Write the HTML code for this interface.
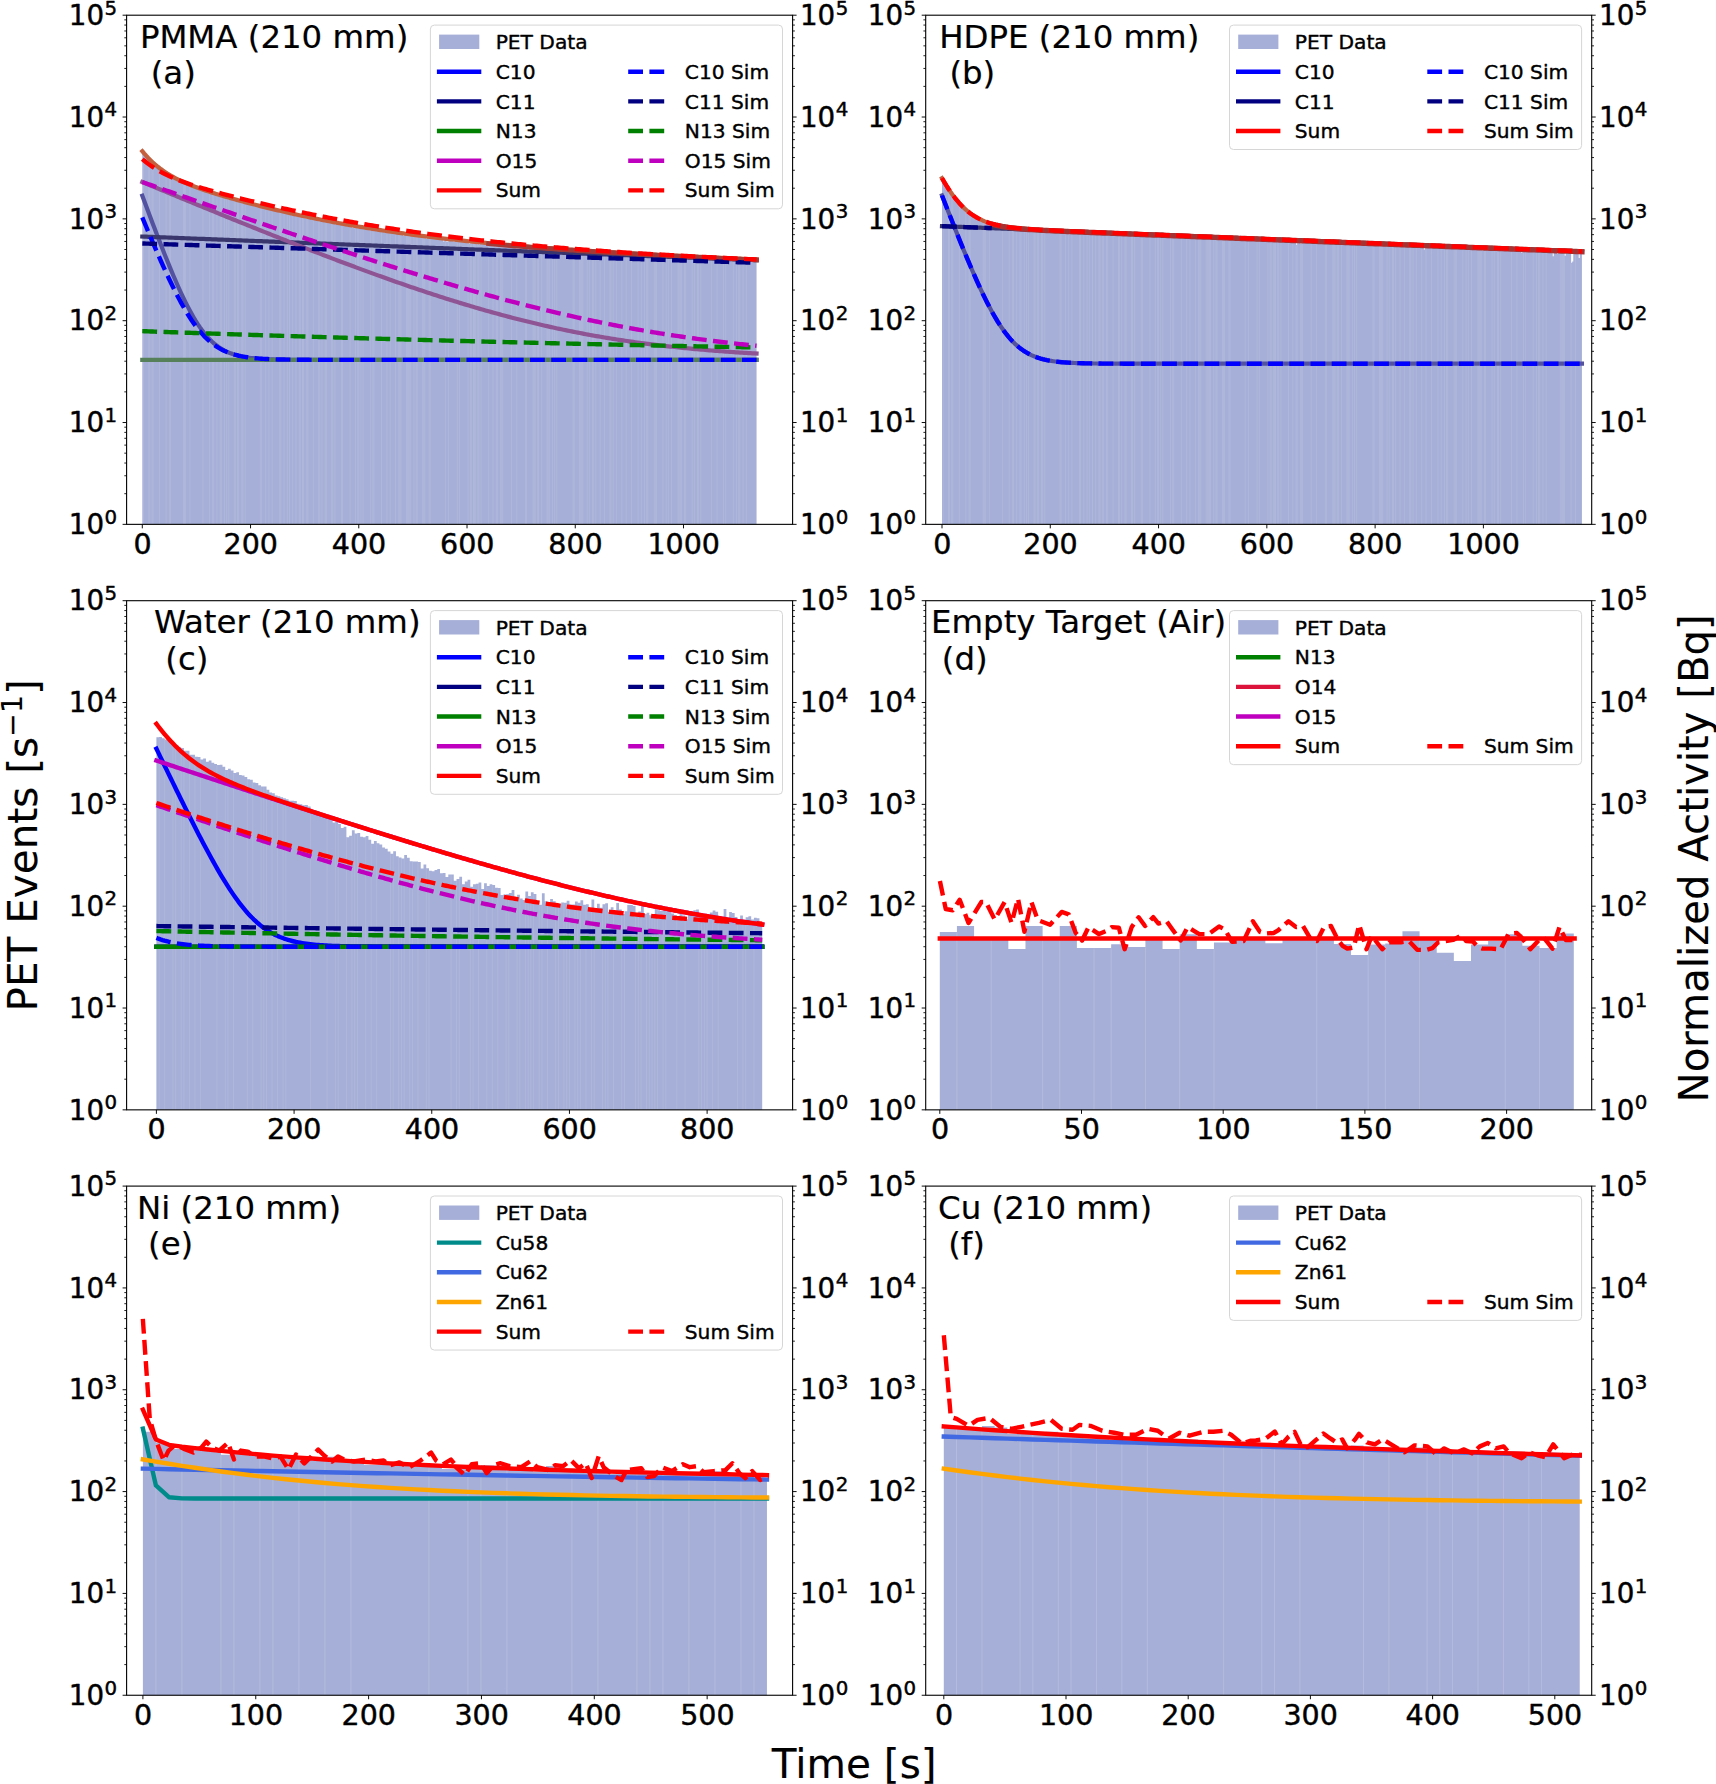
<!DOCTYPE html>
<html><head><meta charset="utf-8"><title>PET activity</title>
<style>html,body{margin:0;padding:0;background:#fff}svg{display:block}text{font-family:'DejaVu Sans','Liberation Sans',sans-serif;fill:#000;stroke:#000;stroke-width:0.45px;stroke-linejoin:round}.t{stroke-width:0.2px}.l{stroke-width:0.1px}.g{stroke-width:0.4px}</style>
</head><body>
<svg width="1716" height="1784" viewBox="0 0 1716 1784">
<rect width="1716" height="1784" fill="#fff"/>
<path d="M142.3,524.35V151.92H143.38V153.99H144.46V155.06H145.55V156.14H146.63V157.78H147.71V158.62H148.79V159.74H149.88V161.53H150.96V161.46H152.04V162.65H153.12V164.15H154.21V164.92H155.29V165.57H156.37V166.8H157.45V167.68H158.54V169.07H159.62V169.02H160.7V170.02H161.78V170.73H162.87V172.31H163.95V171.62H165.03V173.01H166.11V173.96H167.2V173.53H168.28V175.16H169.36V176.48H170.44V176.61H171.52V178.14H172.61V177.13H173.69V178.42H174.77V179.16H175.85V178.83H176.94V180.73H178.02V180.17H179.1V182.01H180.18V181.81H181.27V182.59H182.35V181.73H183.43V182.06H184.51V183.6H185.6V183.46H186.68V184.45H187.76V184.51H188.84V185.64H189.93V186.59H191.01V187.08H192.09V186.33H193.17V185.76H194.26V187.21H195.34V188.04H196.42V187.13H197.5V188.42H198.58V188.89H199.67V189.19H200.75V189.78H201.83V190.25H202.91V191.26H204V190.54H205.08V191.24H206.16V190.88H207.24V192.11H208.33V193.35H209.41V192.66H210.49V191.99H211.57V193.52H212.66V194.16H213.74V194.68H214.82V194.93H215.9V194.82H216.99V195.68H218.07V194.44H219.15V195.8H220.23V195.9H221.32V195.44H222.4V195.71H223.48V197.05H224.56V197.04H225.64V197.11H226.73V197.99H227.81V199.28H228.89V198.09H229.97V198.25H231.06V198.85H232.14V199.98H233.22V199.83H234.3V200.38H235.39V200.5H236.47V199.81H237.55V199.96H238.63V200.79H239.72V201.16H240.8V201.37H241.88V202.09H242.96V202.43H244.05V203.1H245.13V202.99H246.21V201.81H247.29V202.97H248.38V204.03H249.46V204.4H250.54V204.95H251.62V204.41H252.7V204.68H253.79V206.18H254.87V205.17H255.95V206.15H257.03V205.11H258.12V206.21H259.2V205.46H260.28V207.17H261.36V207.33H262.45V207.2H263.53V206.96H264.61V207.56H265.69V209.06H266.78V208.35H267.86V208.72H268.94V209.3H270.02V209.71H271.11V208.33H272.19V210.05H273.27V210.63H274.35V209.86H275.44V210.46H276.52V210.86H277.6V210.52H278.68V210.98H279.76V211.32H280.85V211.15H281.93V211.87H283.01V212.77H284.09V212.83H285.18V213.2H286.26V212.92H287.34V214.1H288.42V214.91H289.51V213.74H290.59V215.03H291.67V215.74H292.75V214.26H293.84V215.29H294.92V214.64H296V215.64H297.08V216.32H298.17V216.65H299.25V216.34H300.33V216.39H301.41V217.04H302.5V216.86H303.58V218.05H304.66V217.1H305.74V218.72H306.82V217.71H307.91V217.27H308.99V217.2H310.07V216.95H311.15V219.68H312.24V218.11H313.32V217.99H314.4V218.38H315.48V220.08H316.57V219.26H317.65V218.37H318.73V221.19H319.81V219.86H320.9V219.58H321.98V221.21H323.06V220.41H324.14V221.93H325.23V221.94H326.31V222.16H327.39V221.56H328.47V221.99H329.56V221.37H330.64V223.09H331.72V222.65H332.8V221.98H333.88V222.5H334.97V224.24H336.05V222.82H337.13V223.95H338.21V223.45H339.3V223.71H340.38V223.17H341.46V224.26H342.54V226.1H343.63V225.89H344.71V224.34H345.79V225.35H346.87V224.39H347.96V225.29H349.04V226.34H350.12V225.01H351.2V226.77H352.29V228.03H353.37V224.77H354.45V228.29H355.53V226.31H356.62V226.24H357.7V227.08H358.78V228.84H359.86V226.72H360.94V229H362.03V229.09H363.11V228.42H364.19V227.62H365.27V228.21H366.36V227.96H367.44V229.21H368.52V229.15H369.6V230.17H370.69V229.62H371.77V229.01H372.85V229.95H373.93V229.45H375.02V230.54H376.1V230.72H377.18V230.34H378.26V230.71H379.35V230.19H380.43V230.72H381.51V229.53H382.59V231.4H383.68V231.57H384.76V232.46H385.84V231.67H386.92V231.25H388V232.68H389.09V232.22H390.17V231.69H391.25V232.6H392.33V233.11H393.42V231.93H394.5V232.87H395.58V232.76H396.66V232.22H397.75V232.39H398.83V233.89H399.91V234.21H400.99V233.62H402.08V234.15H403.16V235.95H404.24V233.17H405.32V234.45H406.41V233.95H407.49V235.86H408.57V233.74H409.65V235.6H410.74V235.3H411.82V236.66H412.9V235.64H413.98V235.84H415.06V235.95H416.15V235.51H417.23V236H418.31V235.29H419.39V236.77H420.48V237.41H421.56V236.62H422.64V236.16H423.72V235.72H424.81V236.25H425.89V238.85H426.97V236.93H428.05V236.05H429.14V237.49H430.22V238.17H431.3V237.52H432.38V238.42H433.47V237.46H434.55V238.21H435.63V237.01H436.71V237.98H437.8V239.29H438.88V238.13H439.96V237.94H441.04V239.51H442.12V239.5H443.21V241.5H444.29V238.47H445.37V240.03H446.45V241.69H447.54V241.46H448.62V240.04H449.7V239.21H450.78V240.15H451.87V239.72H452.95V241.39H454.03V241.75H455.11V239.67H456.2V240.17H457.28V240.8H458.36V239.64H459.44V241.95H460.53V241.53H461.61V240.22H462.69V239.55H463.77V241.44H464.86V239.93H465.94V242.28H467.02V241.46H468.1V242.07H469.18V243.63H470.27V241.86H471.35V241.3H472.43V242.49H473.51V242.51H474.6V241.17H475.68V243.93H476.76V244.3H477.84V243.54H478.93V244.2H480.01V241.74H481.09V242.87H482.17V244.17H483.26V244.02H484.34V240.68H485.42V244.22H486.5V244.48H487.59V243.49H488.67V243.25H489.75V243.78H490.83V245.04H491.92V245.41H493V243.69H494.08V244.45H495.16V246.22H496.24V243.41H497.33V243.9H498.41V245.04H499.49V245.15H500.57V244.74H501.66V245.79H502.74V246.59H503.82V244.93H504.9V246.88H505.99V245.05H507.07V247.07H508.15V245.74H509.23V245.87H510.32V244H511.4V247.04H512.48V247.51H513.56V246.78H514.65V247.38H515.73V246.9H516.81V245.93H517.89V245.65H518.98V244.83H520.06V247.41H521.14V244.02H522.22V244.76H523.3V247.11H524.39V249.47H525.47V247.15H526.55V247.07H527.63V249.74H528.72V247.24H529.8V247.62H530.88V248.33H531.96V246.91H533.05V246.6H534.13V248.26H535.21V247.58H536.29V248.61H537.38V248.84H538.46V247.99H539.54V247.6H540.62V248.84H541.71V250.76H542.79V247.77H543.87V250.23H544.95V248.43H546.04V246.76H547.12V248.73H548.2V250.1H549.28V250.48H550.36V247.7H551.45V249.05H552.53V248.53H553.61V248.19H554.69V249.31H555.78V249.67H556.86V250.45H557.94V252.98H559.02V251.25H560.11V249.72H561.19V249.91H562.27V249.35H563.35V250H564.44V249.77H565.52V249.16H566.6V251.07H567.68V250.48H568.77V252.03H569.85V249.25H570.93V250.34H572.01V249.92H573.1V248.86H574.18V249.42H575.26V250.73H576.34V249.88H577.42V252.42H578.51V250.4H579.59V250.8H580.67V252.85H581.75V249.63H582.84V251.95H583.92V250.48H585V251.77H586.08V250.28H587.17V250H588.25V252.44H589.33V253.31H590.41V251.79H591.5V250.77H592.58V252.19H593.66V252.53H594.74V251.37H595.83V255.18H596.91V252.79H597.99V253.69H599.07V251.85H600.16V253.07H601.24V253.58H602.32V252.77H603.4V254.12H604.48V252.52H605.57V253.34H606.65V253.06H607.73V253.51H608.81V251.74H609.9V252.95H610.98V252.3H612.06V252.41H613.14V253.94H614.23V252.44H615.31V252.75H616.39V252.85H617.47V253.72H618.56V253.81H619.64V252.51H620.72V251.04H621.8V254.47H622.89V252.97H623.97V254.06H625.05V252.81H626.13V253.26H627.22V252.62H628.3V257.19H629.38V254.63H630.46V255.15H631.54V254.18H632.63V254.96H633.71V254.92H634.79V253.46H635.87V252.17H636.96V257.73H638.04V254.78H639.12V254.12H640.2V254.53H641.29V254.99H642.37V256.24H643.45V255.81H644.53V253.94H645.62V253.6H646.7V254.77H647.78V255.92H648.86V254.89H649.95V255.34H651.03V254.49H652.11V255.03H653.19V255.95H654.28V255.06H655.36V256.73H656.44V254.45H657.52V254.1H658.6V256.9H659.69V255.08H660.77V256.79H661.85V254.44H662.93V254.69H664.02V256.06H665.1V254.7H666.18V256.41H667.26V256.71H668.35V256.68H669.43V256.23H670.51V256.5H671.59V255.99H672.68V256.95H673.76V255.39H674.84V255.15H675.92V256.98H677.01V258.15H678.09V255.65H679.17V255.23H680.25V256.8H681.34V258.2H682.42V256.4H683.5V255H684.58V259.09H685.66V256.31H686.75V257.29H687.83V258H688.91V256.44H689.99V258.65H691.08V256.78H692.16V255.65H693.24V257.03H694.32V258.34H695.41V259.51H696.49V258.94H697.57V259.69H698.65V255.63H699.74V257.85H700.82V258.86H701.9V259.23H702.98V258.99H704.07V258.16H705.15V259.36H706.23V255.89H707.31V258.81H708.4V258.9H709.48V257.64H710.56V256.35H711.64V256.55H712.72V258.75H713.81V257.9H714.89V258.08H715.97V257.68H717.05V258.05H718.14V259.56H719.22V260H720.3V258.3H721.38V260.01H722.47V256.99H723.55V258.61H724.63V259.96H725.71V259.14H726.8V259.42H727.88V259.01H728.96V257.77H730.04V260.73H731.13V261.32H732.21V258.64H733.29V259.31H734.37V258.95H735.46V258.66H736.54V259.46H737.62V258.33H738.7V260.44H739.78V259.31H740.87V260.46H741.95V260.88H743.03V258.79H744.11V258.89H745.2V262.06H746.28V261.07H747.36V259.37H748.44V258.48H749.53V260.64H750.61V260.09H751.69V261.68H752.77V256.99H753.86V259.43H754.94V258.97H756.02V259.29H756.56V524.35Z" fill="#a6afd7"/>
<path d="M143.38,154.49V524.35M148.79,160.24V524.35M149.88,162.03V524.35M152.04,163.15V524.35M153.12,164.65V524.35M159.62,169.57V524.35M166.11,174.46V524.35M169.36,176.98V524.35M170.44,177.11V524.35M183.43,182.56V524.35M184.51,184.1V524.35M185.6,184.1V524.35M189.93,187.09V524.35M202.91,191.76V524.35M209.41,193.85V524.35M212.66,194.66V524.35M213.74,195.18V524.35M216.99,196.18V524.35M220.23,196.4V524.35M221.32,196.4V524.35M224.56,197.55V524.35M226.73,198.49V524.35M228.89,199.78V524.35M234.3,200.88V524.35M235.39,201V524.35M237.55,200.46V524.35M238.63,201.29V524.35M241.88,202.59V524.35M242.96,202.93V524.35M245.13,203.6V524.35M260.28,207.67V524.35M261.36,207.83V524.35M265.69,209.56V524.35M268.94,209.8V524.35M272.19,210.55V524.35M279.76,211.82V524.35M280.85,211.82V524.35M284.09,213.33V524.35M287.34,214.6V524.35M289.51,215.41V524.35M292.75,216.24V524.35M296,216.14V524.35M299.25,217.15V524.35M300.33,216.89V524.35M302.5,217.54V524.35M303.58,218.55V524.35M306.82,219.22V524.35M307.91,218.21V524.35M313.32,218.61V524.35M318.73,221.69V524.35M319.81,221.69V524.35M321.98,221.71V524.35M325.23,222.44V524.35M326.31,222.66V524.35M331.72,223.59V524.35M332.8,223.15V524.35M334.97,224.74V524.35M341.46,224.76V524.35M342.54,226.6V524.35M350.12,226.84V524.35M355.53,228.79V524.35M357.7,227.58V524.35M358.78,229.34V524.35M360.94,229.5V524.35M363.11,229.59V524.35M370.69,230.67V524.35M372.85,230.45V524.35M373.93,230.45V524.35M381.51,231.22V524.35M386.92,232.17V524.35M390.17,232.72V524.35M395.58,233.37V524.35M398.83,234.39V524.35M399.91,234.71V524.35M400.99,234.71V524.35M406.41,234.95V524.35M407.49,236.36V524.35M408.57,236.36V524.35M409.65,236.1V524.35M410.74,236.1V524.35M413.98,236.34V524.35M416.15,236.45V524.35M417.23,236.5V524.35M422.64,237.12V524.35M423.72,236.66V524.35M424.81,236.75V524.35M429.14,237.99V524.35M430.22,238.67V524.35M445.37,240.53V524.35M448.62,241.96V524.35M457.28,241.3V524.35M459.44,242.45V524.35M468.1,242.57V524.35M470.27,244.13V524.35M471.35,242.36V524.35M473.51,243.01V524.35M474.6,243.01V524.35M475.68,244.43V524.35M477.84,244.8V524.35M478.93,244.7V524.35M481.09,243.37V524.35M488.67,243.99V524.35M493,245.91V524.35M496.24,246.72V524.35M497.33,244.4V524.35M500.57,245.65V524.35M501.66,246.29V524.35M502.74,247.09V524.35M511.4,247.54V524.35M516.81,247.4V524.35M525.47,249.97V524.35M526.55,247.65V524.35M533.05,247.41V524.35M534.13,248.76V524.35M535.21,248.76V524.35M537.38,249.34V524.35M538.46,249.34V524.35M541.71,251.26V524.35M547.12,249.23V524.35M548.2,250.6V524.35M549.28,250.98V524.35M552.53,249.55V524.35M554.69,249.81V524.35M556.86,250.95V524.35M573.1,250.42V524.35M574.18,249.92V524.35M579.59,251.3V524.35M580.67,253.35V524.35M581.75,253.35V524.35M582.84,252.45V524.35M587.17,250.78V524.35M589.33,253.81V524.35M592.58,252.69V524.35M593.66,253.03V524.35M595.83,255.68V524.35M600.16,253.57V524.35M604.48,254.62V524.35M609.9,253.45V524.35M610.98,253.45V524.35M613.14,254.44V524.35M616.39,253.35V524.35M621.8,254.97V524.35M626.13,253.76V524.35M631.54,255.65V524.35M638.04,258.23V524.35M641.29,255.49V524.35M644.53,256.31V524.35M646.7,255.27V524.35M647.78,256.42V524.35M654.28,256.45V524.35M655.36,257.23V524.35M656.44,257.23V524.35M662.93,255.19V524.35M666.18,256.91V524.35M668.35,257.21V524.35M671.59,257V524.35M678.09,258.65V524.35M679.17,256.15V524.35M680.25,257.3V524.35M681.34,258.7V524.35M684.58,259.59V524.35M685.66,259.59V524.35M692.16,257.28V524.35M694.32,258.84V524.35M697.57,260.19V524.35M698.65,260.19V524.35M700.82,259.36V524.35M711.64,257.05V524.35M717.05,258.55V524.35M723.55,259.11V524.35M725.71,260.46V524.35M733.29,259.81V524.35M736.54,259.96V524.35M738.7,260.94V524.35M739.78,260.94V524.35M743.03,261.38V524.35M746.28,262.56V524.35" stroke="#fff" stroke-opacity="0.1" stroke-width="1" fill="none"/>
<path d="M142.3,195.75 L144.35,201.28 L146.41,206.79 L148.46,212.28 L150.52,217.74 L152.57,223.17 L154.63,228.57 L156.68,233.94 L158.74,239.27 L160.79,244.55 L162.84,249.78 L164.9,254.96 L166.95,260.07 L169.01,265.12 L171.06,270.09 L173.12,274.98 L175.17,279.78 L177.22,284.48 L179.28,289.07 L181.33,293.54 L183.39,297.88 L185.44,302.09 L187.5,306.16 L189.55,310.08 L191.61,313.83 L193.66,317.42 L195.71,320.84 L197.77,324.08 L199.82,327.14 L201.88,330.02 L203.93,332.72 L205.99,335.23 L208.04,337.57 L210.09,339.74 L212.15,341.73 L214.2,343.56 L216.26,345.24 L218.31,346.77 L220.37,348.16 L222.42,349.42 L224.48,350.56 L226.53,351.59 L228.58,352.51 L230.64,353.34 L232.69,354.08 L234.75,354.74 L236.8,355.33 L238.86,355.86 L240.91,356.33 L242.97,356.74 L245.02,357.11 L247.07,357.44 L249.13,357.73 L251.18,357.99 L253.24,358.21 L255.29,358.41 L257.35,358.59 L259.4,358.75 L261.45,358.88 L263.51,359.01 L265.56,359.11 L267.62,359.21 L269.67,359.29 L271.73,359.36 L273.78,359.43 L275.84,359.49 L277.89,359.54 L279.94,359.58 L282,359.62 L284.05,359.65 L286.11,359.68 L288.16,359.71 L290.22,359.73 L292.27,359.75 L294.32,359.77 L296.38,359.79 L298.43,359.8 L300.49,359.81 L302.54,359.83 L304.6,359.84 L306.65,359.84 L308.71,359.85 L310.76,359.86 L312.81,359.86 L314.87,359.87 L316.92,359.87 L318.98,359.88 L321.03,359.88 L323.09,359.88 L325.14,359.89 L327.19,359.89 L329.25,359.89 L331.3,359.89 L333.36,359.89 L335.41,359.89 L337.47,359.9 L339.52,359.9 L341.58,359.9 L343.63,359.9 L345.68,359.9 L347.74,359.9 L349.79,359.9 L351.85,359.9 L353.9,359.9 L355.96,359.9 L358.01,359.9 L360.07,359.9 L362.12,359.9 L364.17,359.9 L366.23,359.9 L368.28,359.9 L370.34,359.9 L372.39,359.9 L374.45,359.9 L376.5,359.9 L378.55,359.9 L380.61,359.9 L382.66,359.9 L384.72,359.9 L386.77,359.9 L388.83,359.9 L390.88,359.9 L392.94,359.9 L394.99,359.9 L397.04,359.9 L399.1,359.9 L401.15,359.9 L403.21,359.9 L405.26,359.9 L407.32,359.9 L409.37,359.9 L411.42,359.9 L413.48,359.9 L415.53,359.9 L417.59,359.9 L419.64,359.9 L421.7,359.9 L423.75,359.9 L425.81,359.9 L427.86,359.9 L429.91,359.9 L431.97,359.9 L434.02,359.9 L436.08,359.9 L438.13,359.9 L440.19,359.91 L442.24,359.91 L444.3,359.91 L446.35,359.91 L448.4,359.91 L450.46,359.91 L452.51,359.91 L454.57,359.91 L456.62,359.91 L458.68,359.91 L460.73,359.91 L462.78,359.91 L464.84,359.91 L466.89,359.91 L468.95,359.91 L471,359.91 L473.06,359.91 L475.11,359.91 L477.17,359.91 L479.22,359.91 L481.27,359.91 L483.33,359.91 L485.38,359.91 L487.44,359.91 L489.49,359.91 L491.55,359.91 L493.6,359.91 L495.65,359.91 L497.71,359.91 L499.76,359.91 L501.82,359.91 L503.87,359.91 L505.93,359.91 L507.98,359.91 L510.04,359.91 L512.09,359.91 L514.14,359.91 L516.2,359.91 L518.25,359.91 L520.31,359.91 L522.36,359.91 L524.42,359.91 L526.47,359.91 L528.52,359.91 L530.58,359.91 L532.63,359.91 L534.69,359.91 L536.74,359.91 L538.8,359.91 L540.85,359.91 L542.91,359.91 L544.96,359.91 L547.01,359.91 L549.07,359.91 L551.12,359.91 L553.18,359.91 L555.23,359.91 L557.29,359.91 L559.34,359.91 L561.4,359.91 L563.45,359.91 L565.5,359.91 L567.56,359.91 L569.61,359.91 L571.67,359.91 L573.72,359.91 L575.78,359.91 L577.83,359.91 L579.88,359.91 L581.94,359.91 L583.99,359.91 L586.05,359.91 L588.1,359.91 L590.16,359.91 L592.21,359.91 L594.27,359.91 L596.32,359.91 L598.37,359.91 L600.43,359.91 L602.48,359.91 L604.54,359.91 L606.59,359.91 L608.65,359.91 L610.7,359.91 L612.75,359.91 L614.81,359.91 L616.86,359.91 L618.92,359.91 L620.97,359.91 L623.03,359.91 L625.08,359.91 L627.14,359.91 L629.19,359.91 L631.24,359.91 L633.3,359.91 L635.35,359.91 L637.41,359.91 L639.46,359.91 L641.52,359.91 L643.57,359.91 L645.63,359.91 L647.68,359.91 L649.73,359.91 L651.79,359.91 L653.84,359.91 L655.9,359.91 L657.95,359.91 L660.01,359.91 L662.06,359.91 L664.11,359.91 L666.17,359.91 L668.22,359.91 L670.28,359.91 L672.33,359.91 L674.39,359.91 L676.44,359.91 L678.5,359.91 L680.55,359.91 L682.6,359.91 L684.66,359.91 L686.71,359.91 L688.77,359.91 L690.82,359.91 L692.88,359.91 L694.93,359.91 L696.98,359.91 L699.04,359.91 L701.09,359.91 L703.15,359.91 L705.2,359.91 L707.26,359.91 L709.31,359.91 L711.37,359.91 L713.42,359.91 L715.47,359.91 L717.53,359.91 L719.58,359.91 L721.64,359.91 L723.69,359.91 L725.75,359.91 L727.8,359.91 L729.85,359.91 L731.91,359.91 L733.96,359.91 L736.02,359.91 L738.07,359.91 L740.13,359.91 L742.18,359.91 L744.24,359.91 L746.29,359.91 L748.34,359.91 L750.4,359.91 L752.45,359.91 L754.51,359.91 L756.56,359.91" fill="none" stroke="#5252a0" stroke-width="4.2" stroke-linecap="square" stroke-linejoin="round" />
<path d="M142.3,236.56 L144.35,236.64 L146.41,236.72 L148.46,236.8 L150.52,236.88 L152.57,236.96 L154.63,237.04 L156.68,237.12 L158.74,237.2 L160.79,237.28 L162.84,237.36 L164.9,237.44 L166.95,237.52 L169.01,237.6 L171.06,237.69 L173.12,237.77 L175.17,237.85 L177.22,237.93 L179.28,238.01 L181.33,238.09 L183.39,238.17 L185.44,238.25 L187.5,238.33 L189.55,238.41 L191.61,238.49 L193.66,238.57 L195.71,238.65 L197.77,238.73 L199.82,238.81 L201.88,238.89 L203.93,238.97 L205.99,239.05 L208.04,239.13 L210.09,239.21 L212.15,239.29 L214.2,239.37 L216.26,239.45 L218.31,239.53 L220.37,239.61 L222.42,239.69 L224.48,239.77 L226.53,239.85 L228.58,239.93 L230.64,240.01 L232.69,240.09 L234.75,240.17 L236.8,240.25 L238.86,240.33 L240.91,240.41 L242.97,240.49 L245.02,240.58 L247.07,240.66 L249.13,240.74 L251.18,240.82 L253.24,240.9 L255.29,240.98 L257.35,241.06 L259.4,241.14 L261.45,241.22 L263.51,241.3 L265.56,241.38 L267.62,241.46 L269.67,241.54 L271.73,241.62 L273.78,241.7 L275.84,241.78 L277.89,241.86 L279.94,241.94 L282,242.02 L284.05,242.09 L286.11,242.17 L288.16,242.25 L290.22,242.33 L292.27,242.41 L294.32,242.49 L296.38,242.57 L298.43,242.65 L300.49,242.73 L302.54,242.81 L304.6,242.89 L306.65,242.97 L308.71,243.05 L310.76,243.13 L312.81,243.21 L314.87,243.29 L316.92,243.37 L318.98,243.45 L321.03,243.53 L323.09,243.61 L325.14,243.69 L327.19,243.77 L329.25,243.85 L331.3,243.93 L333.36,244.01 L335.41,244.09 L337.47,244.17 L339.52,244.25 L341.58,244.33 L343.63,244.41 L345.68,244.49 L347.74,244.57 L349.79,244.65 L351.85,244.73 L353.9,244.8 L355.96,244.88 L358.01,244.96 L360.07,245.04 L362.12,245.12 L364.17,245.2 L366.23,245.28 L368.28,245.36 L370.34,245.44 L372.39,245.52 L374.45,245.6 L376.5,245.68 L378.55,245.76 L380.61,245.84 L382.66,245.92 L384.72,246 L386.77,246.08 L388.83,246.16 L390.88,246.23 L392.94,246.31 L394.99,246.39 L397.04,246.47 L399.1,246.55 L401.15,246.63 L403.21,246.71 L405.26,246.79 L407.32,246.87 L409.37,246.95 L411.42,247.03 L413.48,247.11 L415.53,247.19 L417.59,247.26 L419.64,247.34 L421.7,247.42 L423.75,247.5 L425.81,247.58 L427.86,247.66 L429.91,247.74 L431.97,247.82 L434.02,247.9 L436.08,247.98 L438.13,248.06 L440.19,248.13 L442.24,248.21 L444.3,248.29 L446.35,248.37 L448.4,248.45 L450.46,248.53 L452.51,248.61 L454.57,248.69 L456.62,248.77 L458.68,248.84 L460.73,248.92 L462.78,249 L464.84,249.08 L466.89,249.16 L468.95,249.24 L471,249.32 L473.06,249.4 L475.11,249.48 L477.17,249.55 L479.22,249.63 L481.27,249.71 L483.33,249.79 L485.38,249.87 L487.44,249.95 L489.49,250.03 L491.55,250.11 L493.6,250.18 L495.65,250.26 L497.71,250.34 L499.76,250.42 L501.82,250.5 L503.87,250.58 L505.93,250.66 L507.98,250.73 L510.04,250.81 L512.09,250.89 L514.14,250.97 L516.2,251.05 L518.25,251.13 L520.31,251.21 L522.36,251.28 L524.42,251.36 L526.47,251.44 L528.52,251.52 L530.58,251.6 L532.63,251.68 L534.69,251.76 L536.74,251.83 L538.8,251.91 L540.85,251.99 L542.91,252.07 L544.96,252.15 L547.01,252.23 L549.07,252.3 L551.12,252.38 L553.18,252.46 L555.23,252.54 L557.29,252.62 L559.34,252.7 L561.4,252.77 L563.45,252.85 L565.5,252.93 L567.56,253.01 L569.61,253.09 L571.67,253.17 L573.72,253.24 L575.78,253.32 L577.83,253.4 L579.88,253.48 L581.94,253.56 L583.99,253.63 L586.05,253.71 L588.1,253.79 L590.16,253.87 L592.21,253.95 L594.27,254.02 L596.32,254.1 L598.37,254.18 L600.43,254.26 L602.48,254.34 L604.54,254.41 L606.59,254.49 L608.65,254.57 L610.7,254.65 L612.75,254.73 L614.81,254.8 L616.86,254.88 L618.92,254.96 L620.97,255.04 L623.03,255.12 L625.08,255.19 L627.14,255.27 L629.19,255.35 L631.24,255.43 L633.3,255.5 L635.35,255.58 L637.41,255.66 L639.46,255.74 L641.52,255.82 L643.57,255.89 L645.63,255.97 L647.68,256.05 L649.73,256.13 L651.79,256.2 L653.84,256.28 L655.9,256.36 L657.95,256.44 L660.01,256.51 L662.06,256.59 L664.11,256.67 L666.17,256.75 L668.22,256.82 L670.28,256.9 L672.33,256.98 L674.39,257.06 L676.44,257.13 L678.5,257.21 L680.55,257.29 L682.6,257.37 L684.66,257.44 L686.71,257.52 L688.77,257.6 L690.82,257.68 L692.88,257.75 L694.93,257.83 L696.98,257.91 L699.04,257.99 L701.09,258.06 L703.15,258.14 L705.2,258.22 L707.26,258.3 L709.31,258.37 L711.37,258.45 L713.42,258.53 L715.47,258.6 L717.53,258.68 L719.58,258.76 L721.64,258.84 L723.69,258.91 L725.75,258.99 L727.8,259.07 L729.85,259.14 L731.91,259.22 L733.96,259.3 L736.02,259.38 L738.07,259.45 L740.13,259.53 L742.18,259.61 L744.24,259.68 L746.29,259.76 L748.34,259.84 L750.4,259.91 L752.45,259.99 L754.51,260.07 L756.56,260.14" fill="none" stroke="#38366c" stroke-width="4.2" stroke-linecap="square" stroke-linejoin="round" />
<path d="M142.3,359.91 L144.35,359.91 L146.41,359.91 L148.46,359.91 L150.52,359.91 L152.57,359.91 L154.63,359.91 L156.68,359.91 L158.74,359.91 L160.79,359.91 L162.84,359.91 L164.9,359.91 L166.95,359.91 L169.01,359.91 L171.06,359.91 L173.12,359.91 L175.17,359.91 L177.22,359.91 L179.28,359.91 L181.33,359.91 L183.39,359.91 L185.44,359.91 L187.5,359.91 L189.55,359.91 L191.61,359.91 L193.66,359.91 L195.71,359.91 L197.77,359.91 L199.82,359.91 L201.88,359.91 L203.93,359.91 L205.99,359.91 L208.04,359.91 L210.09,359.91 L212.15,359.91 L214.2,359.91 L216.26,359.91 L218.31,359.91 L220.37,359.91 L222.42,359.91 L224.48,359.91 L226.53,359.91 L228.58,359.91 L230.64,359.91 L232.69,359.91 L234.75,359.91 L236.8,359.91 L238.86,359.91 L240.91,359.91 L242.97,359.91 L245.02,359.91 L247.07,359.91 L249.13,359.91 L251.18,359.91 L253.24,359.91 L255.29,359.91 L257.35,359.91 L259.4,359.91 L261.45,359.91 L263.51,359.91 L265.56,359.91 L267.62,359.91 L269.67,359.91 L271.73,359.91 L273.78,359.91 L275.84,359.91 L277.89,359.91 L279.94,359.91 L282,359.91 L284.05,359.91 L286.11,359.91 L288.16,359.91 L290.22,359.91 L292.27,359.91 L294.32,359.91 L296.38,359.91 L298.43,359.91 L300.49,359.91 L302.54,359.91 L304.6,359.91 L306.65,359.91 L308.71,359.91 L310.76,359.91 L312.81,359.91 L314.87,359.91 L316.92,359.91 L318.98,359.91 L321.03,359.91 L323.09,359.91 L325.14,359.91 L327.19,359.91 L329.25,359.91 L331.3,359.91 L333.36,359.91 L335.41,359.91 L337.47,359.91 L339.52,359.91 L341.58,359.91 L343.63,359.91 L345.68,359.91 L347.74,359.91 L349.79,359.91 L351.85,359.91 L353.9,359.91 L355.96,359.91 L358.01,359.91 L360.07,359.91 L362.12,359.91 L364.17,359.91 L366.23,359.91 L368.28,359.91 L370.34,359.91 L372.39,359.91 L374.45,359.91 L376.5,359.91 L378.55,359.91 L380.61,359.91 L382.66,359.91 L384.72,359.91 L386.77,359.91 L388.83,359.91 L390.88,359.91 L392.94,359.91 L394.99,359.91 L397.04,359.91 L399.1,359.91 L401.15,359.91 L403.21,359.91 L405.26,359.91 L407.32,359.91 L409.37,359.91 L411.42,359.91 L413.48,359.91 L415.53,359.91 L417.59,359.91 L419.64,359.91 L421.7,359.91 L423.75,359.91 L425.81,359.91 L427.86,359.91 L429.91,359.91 L431.97,359.91 L434.02,359.91 L436.08,359.91 L438.13,359.91 L440.19,359.91 L442.24,359.91 L444.3,359.91 L446.35,359.91 L448.4,359.91 L450.46,359.91 L452.51,359.91 L454.57,359.91 L456.62,359.91 L458.68,359.91 L460.73,359.91 L462.78,359.91 L464.84,359.91 L466.89,359.91 L468.95,359.91 L471,359.91 L473.06,359.91 L475.11,359.91 L477.17,359.91 L479.22,359.91 L481.27,359.91 L483.33,359.91 L485.38,359.91 L487.44,359.91 L489.49,359.91 L491.55,359.91 L493.6,359.91 L495.65,359.91 L497.71,359.91 L499.76,359.91 L501.82,359.91 L503.87,359.91 L505.93,359.91 L507.98,359.91 L510.04,359.91 L512.09,359.91 L514.14,359.91 L516.2,359.91 L518.25,359.91 L520.31,359.91 L522.36,359.91 L524.42,359.91 L526.47,359.91 L528.52,359.91 L530.58,359.91 L532.63,359.91 L534.69,359.91 L536.74,359.91 L538.8,359.91 L540.85,359.91 L542.91,359.91 L544.96,359.91 L547.01,359.91 L549.07,359.91 L551.12,359.91 L553.18,359.91 L555.23,359.91 L557.29,359.91 L559.34,359.91 L561.4,359.91 L563.45,359.91 L565.5,359.91 L567.56,359.91 L569.61,359.91 L571.67,359.91 L573.72,359.91 L575.78,359.91 L577.83,359.91 L579.88,359.91 L581.94,359.91 L583.99,359.91 L586.05,359.91 L588.1,359.91 L590.16,359.91 L592.21,359.91 L594.27,359.91 L596.32,359.91 L598.37,359.91 L600.43,359.91 L602.48,359.91 L604.54,359.91 L606.59,359.91 L608.65,359.91 L610.7,359.91 L612.75,359.91 L614.81,359.91 L616.86,359.91 L618.92,359.91 L620.97,359.91 L623.03,359.91 L625.08,359.91 L627.14,359.91 L629.19,359.91 L631.24,359.91 L633.3,359.91 L635.35,359.91 L637.41,359.91 L639.46,359.91 L641.52,359.91 L643.57,359.91 L645.63,359.91 L647.68,359.91 L649.73,359.91 L651.79,359.91 L653.84,359.91 L655.9,359.91 L657.95,359.91 L660.01,359.91 L662.06,359.91 L664.11,359.91 L666.17,359.91 L668.22,359.91 L670.28,359.91 L672.33,359.91 L674.39,359.91 L676.44,359.91 L678.5,359.91 L680.55,359.91 L682.6,359.91 L684.66,359.91 L686.71,359.91 L688.77,359.91 L690.82,359.91 L692.88,359.91 L694.93,359.91 L696.98,359.91 L699.04,359.91 L701.09,359.91 L703.15,359.91 L705.2,359.91 L707.26,359.91 L709.31,359.91 L711.37,359.91 L713.42,359.91 L715.47,359.91 L717.53,359.91 L719.58,359.91 L721.64,359.91 L723.69,359.91 L725.75,359.91 L727.8,359.91 L729.85,359.91 L731.91,359.91 L733.96,359.91 L736.02,359.91 L738.07,359.91 L740.13,359.91 L742.18,359.91 L744.24,359.91 L746.29,359.91 L748.34,359.91 L750.4,359.91 L752.45,359.91 L754.51,359.91 L756.56,359.91" fill="none" stroke="#56805a" stroke-width="4.2" stroke-linecap="square" stroke-linejoin="round" />
<path d="M142.3,182.06 L144.35,182.91 L146.41,183.76 L148.46,184.62 L150.52,185.47 L152.57,186.32 L154.63,187.17 L156.68,188.02 L158.74,188.87 L160.79,189.72 L162.84,190.57 L164.9,191.42 L166.95,192.27 L169.01,193.12 L171.06,193.97 L173.12,194.81 L175.17,195.66 L177.22,196.51 L179.28,197.36 L181.33,198.2 L183.39,199.05 L185.44,199.89 L187.5,200.74 L189.55,201.58 L191.61,202.43 L193.66,203.27 L195.71,204.11 L197.77,204.96 L199.82,205.8 L201.88,206.64 L203.93,207.48 L205.99,208.32 L208.04,209.16 L210.09,210 L212.15,210.84 L214.2,211.68 L216.26,212.51 L218.31,213.35 L220.37,214.19 L222.42,215.02 L224.48,215.86 L226.53,216.69 L228.58,217.53 L230.64,218.36 L232.69,219.19 L234.75,220.03 L236.8,220.86 L238.86,221.69 L240.91,222.52 L242.97,223.35 L245.02,224.17 L247.07,225 L249.13,225.83 L251.18,226.66 L253.24,227.48 L255.29,228.3 L257.35,229.13 L259.4,229.95 L261.45,230.77 L263.51,231.59 L265.56,232.41 L267.62,233.23 L269.67,234.05 L271.73,234.87 L273.78,235.69 L275.84,236.5 L277.89,237.32 L279.94,238.13 L282,238.94 L284.05,239.75 L286.11,240.56 L288.16,241.37 L290.22,242.18 L292.27,242.99 L294.32,243.8 L296.38,244.6 L298.43,245.4 L300.49,246.21 L302.54,247.01 L304.6,247.81 L306.65,248.61 L308.71,249.4 L310.76,250.2 L312.81,251 L314.87,251.79 L316.92,252.58 L318.98,253.37 L321.03,254.16 L323.09,254.95 L325.14,255.74 L327.19,256.52 L329.25,257.31 L331.3,258.09 L333.36,258.87 L335.41,259.65 L337.47,260.43 L339.52,261.2 L341.58,261.98 L343.63,262.75 L345.68,263.52 L347.74,264.29 L349.79,265.06 L351.85,265.82 L353.9,266.59 L355.96,267.35 L358.01,268.11 L360.07,268.87 L362.12,269.62 L364.17,270.38 L366.23,271.13 L368.28,271.88 L370.34,272.63 L372.39,273.38 L374.45,274.12 L376.5,274.87 L378.55,275.61 L380.61,276.34 L382.66,277.08 L384.72,277.81 L386.77,278.55 L388.83,279.27 L390.88,280 L392.94,280.73 L394.99,281.45 L397.04,282.17 L399.1,282.89 L401.15,283.6 L403.21,284.31 L405.26,285.02 L407.32,285.73 L409.37,286.44 L411.42,287.14 L413.48,287.84 L415.53,288.53 L417.59,289.23 L419.64,289.92 L421.7,290.61 L423.75,291.29 L425.81,291.98 L427.86,292.66 L429.91,293.33 L431.97,294.01 L434.02,294.68 L436.08,295.35 L438.13,296.01 L440.19,296.67 L442.24,297.33 L444.3,297.99 L446.35,298.64 L448.4,299.29 L450.46,299.94 L452.51,300.58 L454.57,301.22 L456.62,301.86 L458.68,302.49 L460.73,303.12 L462.78,303.74 L464.84,304.37 L466.89,304.99 L468.95,305.6 L471,306.22 L473.06,306.82 L475.11,307.43 L477.17,308.03 L479.22,308.63 L481.27,309.22 L483.33,309.81 L485.38,310.4 L487.44,310.98 L489.49,311.56 L491.55,312.14 L493.6,312.71 L495.65,313.28 L497.71,313.84 L499.76,314.4 L501.82,314.96 L503.87,315.51 L505.93,316.06 L507.98,316.6 L510.04,317.14 L512.09,317.68 L514.14,318.21 L516.2,318.74 L518.25,319.26 L520.31,319.78 L522.36,320.3 L524.42,320.81 L526.47,321.32 L528.52,321.82 L530.58,322.32 L532.63,322.81 L534.69,323.31 L536.74,323.79 L538.8,324.27 L540.85,324.75 L542.91,325.23 L544.96,325.7 L547.01,326.16 L549.07,326.62 L551.12,327.08 L553.18,327.53 L555.23,327.98 L557.29,328.43 L559.34,328.87 L561.4,329.3 L563.45,329.73 L565.5,330.16 L567.56,330.58 L569.61,331 L571.67,331.42 L573.72,331.83 L575.78,332.23 L577.83,332.64 L579.88,333.03 L581.94,333.43 L583.99,333.82 L586.05,334.2 L588.1,334.58 L590.16,334.96 L592.21,335.33 L594.27,335.7 L596.32,336.06 L598.37,336.42 L600.43,336.78 L602.48,337.13 L604.54,337.48 L606.59,337.82 L608.65,338.16 L610.7,338.49 L612.75,338.83 L614.81,339.15 L616.86,339.48 L618.92,339.8 L620.97,340.11 L623.03,340.42 L625.08,340.73 L627.14,341.03 L629.19,341.33 L631.24,341.63 L633.3,341.92 L635.35,342.21 L637.41,342.49 L639.46,342.77 L641.52,343.05 L643.57,343.32 L645.63,343.59 L647.68,343.86 L649.73,344.12 L651.79,344.38 L653.84,344.64 L655.9,344.89 L657.95,345.14 L660.01,345.38 L662.06,345.62 L664.11,345.86 L666.17,346.1 L668.22,346.33 L670.28,346.55 L672.33,346.78 L674.39,347 L676.44,347.22 L678.5,347.43 L680.55,347.65 L682.6,347.85 L684.66,348.06 L686.71,348.26 L688.77,348.46 L690.82,348.66 L692.88,348.85 L694.93,349.04 L696.98,349.23 L699.04,349.42 L701.09,349.6 L703.15,349.78 L705.2,349.95 L707.26,350.13 L709.31,350.3 L711.37,350.47 L713.42,350.63 L715.47,350.79 L717.53,350.95 L719.58,351.11 L721.64,351.27 L723.69,351.42 L725.75,351.57 L727.8,351.72 L729.85,351.86 L731.91,352.01 L733.96,352.15 L736.02,352.29 L738.07,352.42 L740.13,352.56 L742.18,352.69 L744.24,352.82 L746.29,352.95 L748.34,353.07 L750.4,353.19 L752.45,353.32 L754.51,353.44 L756.56,353.55" fill="none" stroke="#8e5494" stroke-width="4.2" stroke-linecap="square" stroke-linejoin="round" />
<path d="M142.3,151.21 L144.35,153.65 L146.41,155.98 L148.46,158.17 L150.52,160.25 L152.57,162.22 L154.63,164.07 L156.68,165.83 L158.74,167.49 L160.79,169.07 L162.84,170.56 L164.9,171.97 L166.95,173.31 L169.01,174.58 L171.06,175.79 L173.12,176.95 L175.17,178.05 L177.22,179.11 L179.28,180.12 L181.33,181.09 L183.39,182.03 L185.44,182.93 L187.5,183.8 L189.55,184.64 L191.61,185.46 L193.66,186.26 L195.71,187.03 L197.77,187.78 L199.82,188.52 L201.88,189.24 L203.93,189.95 L205.99,190.64 L208.04,191.32 L210.09,191.98 L212.15,192.64 L214.2,193.29 L216.26,193.92 L218.31,194.55 L220.37,195.17 L222.42,195.78 L224.48,196.39 L226.53,196.99 L228.58,197.58 L230.64,198.16 L232.69,198.74 L234.75,199.32 L236.8,199.89 L238.86,200.45 L240.91,201.01 L242.97,201.56 L245.02,202.11 L247.07,202.66 L249.13,203.2 L251.18,203.74 L253.24,204.27 L255.29,204.79 L257.35,205.32 L259.4,205.84 L261.45,206.35 L263.51,206.86 L265.56,207.37 L267.62,207.88 L269.67,208.38 L271.73,208.87 L273.78,209.37 L275.84,209.85 L277.89,210.34 L279.94,210.82 L282,211.3 L284.05,211.77 L286.11,212.24 L288.16,212.71 L290.22,213.17 L292.27,213.63 L294.32,214.09 L296.38,214.54 L298.43,214.99 L300.49,215.43 L302.54,215.88 L304.6,216.31 L306.65,216.75 L308.71,217.18 L310.76,217.61 L312.81,218.03 L314.87,218.45 L316.92,218.87 L318.98,219.28 L321.03,219.69 L323.09,220.1 L325.14,220.5 L327.19,220.9 L329.25,221.3 L331.3,221.69 L333.36,222.08 L335.41,222.47 L337.47,222.85 L339.52,223.23 L341.58,223.61 L343.63,223.98 L345.68,224.35 L347.74,224.72 L349.79,225.08 L351.85,225.44 L353.9,225.8 L355.96,226.15 L358.01,226.5 L360.07,226.85 L362.12,227.19 L364.17,227.53 L366.23,227.87 L368.28,228.2 L370.34,228.54 L372.39,228.86 L374.45,229.19 L376.5,229.51 L378.55,229.83 L380.61,230.15 L382.66,230.46 L384.72,230.77 L386.77,231.08 L388.83,231.39 L390.88,231.69 L392.94,231.99 L394.99,232.28 L397.04,232.58 L399.1,232.87 L401.15,233.15 L403.21,233.44 L405.26,233.72 L407.32,234 L409.37,234.28 L411.42,234.55 L413.48,234.83 L415.53,235.09 L417.59,235.36 L419.64,235.63 L421.7,235.89 L423.75,236.15 L425.81,236.4 L427.86,236.66 L429.91,236.91 L431.97,237.16 L434.02,237.4 L436.08,237.65 L438.13,237.89 L440.19,238.13 L442.24,238.37 L444.3,238.6 L446.35,238.84 L448.4,239.07 L450.46,239.3 L452.51,239.52 L454.57,239.75 L456.62,239.97 L458.68,240.19 L460.73,240.41 L462.78,240.63 L464.84,240.84 L466.89,241.05 L468.95,241.26 L471,241.47 L473.06,241.68 L475.11,241.88 L477.17,242.08 L479.22,242.28 L481.27,242.48 L483.33,242.68 L485.38,242.87 L487.44,243.07 L489.49,243.26 L491.55,243.45 L493.6,243.64 L495.65,243.82 L497.71,244.01 L499.76,244.19 L501.82,244.37 L503.87,244.55 L505.93,244.73 L507.98,244.91 L510.04,245.08 L512.09,245.26 L514.14,245.43 L516.2,245.6 L518.25,245.77 L520.31,245.94 L522.36,246.11 L524.42,246.27 L526.47,246.43 L528.52,246.6 L530.58,246.76 L532.63,246.92 L534.69,247.08 L536.74,247.23 L538.8,247.39 L540.85,247.54 L542.91,247.7 L544.96,247.85 L547.01,248 L549.07,248.15 L551.12,248.3 L553.18,248.45 L555.23,248.59 L557.29,248.74 L559.34,248.88 L561.4,249.02 L563.45,249.17 L565.5,249.31 L567.56,249.45 L569.61,249.59 L571.67,249.72 L573.72,249.86 L575.78,250 L577.83,250.13 L579.88,250.27 L581.94,250.4 L583.99,250.53 L586.05,250.66 L588.1,250.79 L590.16,250.92 L592.21,251.05 L594.27,251.18 L596.32,251.3 L598.37,251.43 L600.43,251.56 L602.48,251.68 L604.54,251.8 L606.59,251.93 L608.65,252.05 L610.7,252.17 L612.75,252.29 L614.81,252.41 L616.86,252.53 L618.92,252.65 L620.97,252.77 L623.03,252.88 L625.08,253 L627.14,253.12 L629.19,253.23 L631.24,253.35 L633.3,253.46 L635.35,253.57 L637.41,253.68 L639.46,253.8 L641.52,253.91 L643.57,254.02 L645.63,254.13 L647.68,254.24 L649.73,254.35 L651.79,254.46 L653.84,254.56 L655.9,254.67 L657.95,254.78 L660.01,254.89 L662.06,254.99 L664.11,255.1 L666.17,255.2 L668.22,255.31 L670.28,255.41 L672.33,255.51 L674.39,255.62 L676.44,255.72 L678.5,255.82 L680.55,255.92 L682.6,256.02 L684.66,256.13 L686.71,256.23 L688.77,256.33 L690.82,256.43 L692.88,256.52 L694.93,256.62 L696.98,256.72 L699.04,256.82 L701.09,256.92 L703.15,257.02 L705.2,257.11 L707.26,257.21 L709.31,257.31 L711.37,257.4 L713.42,257.5 L715.47,257.59 L717.53,257.69 L719.58,257.78 L721.64,257.88 L723.69,257.97 L725.75,258.06 L727.8,258.16 L729.85,258.25 L731.91,258.34 L733.96,258.43 L736.02,258.53 L738.07,258.62 L740.13,258.71 L742.18,258.8 L744.24,258.89 L746.29,258.98 L748.34,259.07 L750.4,259.17 L752.45,259.26 L754.51,259.34 L756.56,259.43" fill="none" stroke="#c4603e" stroke-width="4.2" stroke-linecap="square" stroke-linejoin="round" />
<path d="M488.67,243.63 L491.37,243.88 L494.08,244.13 L496.79,244.37 L499.49,244.61 L502.2,244.85 L504.9,245.09 L507.61,245.32 L510.32,245.55 L513.02,245.78 L515.73,246.01 L518.43,246.23 L521.14,246.45 L523.85,246.67 L526.55,246.88 L529.26,247.1 L531.96,247.31 L534.67,247.52 L537.38,247.73 L540.08,247.93 L542.79,248.13 L545.49,248.33 L548.2,248.53 L550.91,248.73 L553.61,248.92 L556.32,249.11 L559.02,249.3 L561.73,249.49 L564.44,249.68 L567.14,249.86 L569.85,250.05 L572.55,250.23 L575.26,250.41 L577.97,250.58 L580.67,250.76 L583.38,250.94 L586.08,251.11 L588.79,251.28 L591.5,251.45 L594.2,251.62 L596.91,251.79 L599.61,251.95 L602.32,252.11 L605.03,252.28 L607.73,252.44 L610.44,252.6 L613.14,252.76 L615.85,252.92 L618.56,253.07 L621.26,253.23 L623.97,253.38 L626.67,253.53 L629.38,253.69 L632.09,253.84 L634.79,253.99 L637.5,254.13 L640.2,254.28 L642.91,254.43 L645.62,254.57 L648.32,254.72 L651.03,254.86 L653.73,255 L656.44,255.14 L659.15,255.29 L661.85,255.43 L664.56,255.56 L667.26,255.7 L669.97,255.84 L672.68,255.98 L675.38,256.11 L678.09,256.25 L680.79,256.38 L683.5,256.51 L686.21,256.65 L688.91,256.78 L691.62,256.91 L694.32,257.04 L697.03,257.17 L699.74,257.3 L702.44,257.43 L705.15,257.55 L707.85,257.68 L710.56,257.81 L713.27,257.93 L715.97,258.06 L718.68,258.18 L721.38,258.31 L724.09,258.43 L726.8,258.56 L729.5,258.68 L732.21,258.8 L734.91,258.92 L737.62,259.04 L740.33,259.16 L743.03,259.28 L745.74,259.4 L748.44,259.52 L751.15,259.64 L753.86,259.76 L756.56,259.88" fill="none" stroke="#a43a36" stroke-width="4.8" stroke-linecap="square" stroke-linejoin="round" />
<path d="M142.3,217.37 L144.35,222.33 L146.41,227.25 L148.46,232.15 L150.52,237.02 L152.57,241.85 L154.63,246.65 L156.68,251.4 L158.74,256.1 L160.79,260.75 L162.84,265.34 L164.9,269.87 L166.95,274.33 L169.01,278.72 L171.06,283.02 L173.12,287.24 L175.17,291.36 L177.22,295.39 L179.28,299.3 L181.33,303.1 L183.39,306.78 L185.44,310.33 L187.5,313.75 L189.55,317.03 L191.61,320.17 L193.66,323.16 L195.71,326 L197.77,328.7 L199.82,331.24 L201.88,333.63 L203.93,335.87 L205.99,337.97 L208.04,339.92 L210.09,341.73 L212.15,343.41 L214.2,344.95 L216.26,346.38 L218.31,347.68 L220.37,348.88 L222.42,349.97 L224.48,350.96 L226.53,351.86 L228.58,352.68 L230.64,353.42 L232.69,354.09 L234.75,354.7 L236.8,355.24 L238.86,355.74 L240.91,356.18 L242.97,356.57 L245.02,356.93 L247.07,357.25 L249.13,357.53 L251.18,357.79 L253.24,358.02 L255.29,358.22 L257.35,358.4 L259.4,358.57 L261.45,358.71 L263.51,358.84 L265.56,358.96 L267.62,359.06 L269.67,359.15 L271.73,359.24 L273.78,359.31 L275.84,359.38 L277.89,359.43 L279.94,359.49 L282,359.53 L284.05,359.57 L286.11,359.61 L288.16,359.64 L290.22,359.67 L292.27,359.7 L294.32,359.72 L296.38,359.74 L298.43,359.76 L300.49,359.77 L302.54,359.79 L304.6,359.8 L306.65,359.81 L308.71,359.82 L310.76,359.83 L312.81,359.84 L314.87,359.85 L316.92,359.85 L318.98,359.86 L321.03,359.86 L323.09,359.87 L325.14,359.87 L327.19,359.88 L329.25,359.88 L331.3,359.88 L333.36,359.88 L335.41,359.89 L337.47,359.89 L339.52,359.89 L341.58,359.89 L343.63,359.89 L345.68,359.9 L347.74,359.9 L349.79,359.9 L351.85,359.9 L353.9,359.9 L355.96,359.9 L358.01,359.9 L360.07,359.9 L362.12,359.9 L364.17,359.9 L366.23,359.9 L368.28,359.9 L370.34,359.9 L372.39,359.9 L374.45,359.9 L376.5,359.9 L378.55,359.9 L380.61,359.9 L382.66,359.9 L384.72,359.9 L386.77,359.9 L388.83,359.9 L390.88,359.9 L392.94,359.9 L394.99,359.9 L397.04,359.9 L399.1,359.9 L401.15,359.9 L403.21,359.9 L405.26,359.9 L407.32,359.9 L409.37,359.9 L411.42,359.9 L413.48,359.9 L415.53,359.9 L417.59,359.9 L419.64,359.9 L421.7,359.9 L423.75,359.9 L425.81,359.9 L427.86,359.9 L429.91,359.9 L431.97,359.9 L434.02,359.9 L436.08,359.9 L438.13,359.9 L440.19,359.9 L442.24,359.9 L444.3,359.9 L446.35,359.9 L448.4,359.9 L450.46,359.9 L452.51,359.9 L454.57,359.9 L456.62,359.9 L458.68,359.91 L460.73,359.91 L462.78,359.91 L464.84,359.91 L466.89,359.91 L468.95,359.91 L471,359.91 L473.06,359.91 L475.11,359.91 L477.17,359.91 L479.22,359.91 L481.27,359.91 L483.33,359.91 L485.38,359.91 L487.44,359.91 L489.49,359.91 L491.55,359.91 L493.6,359.91 L495.65,359.91 L497.71,359.91 L499.76,359.91 L501.82,359.91 L503.87,359.91 L505.93,359.91 L507.98,359.91 L510.04,359.91 L512.09,359.91 L514.14,359.91 L516.2,359.91 L518.25,359.91 L520.31,359.91 L522.36,359.91 L524.42,359.91 L526.47,359.91 L528.52,359.91 L530.58,359.91 L532.63,359.91 L534.69,359.91 L536.74,359.91 L538.8,359.91 L540.85,359.91 L542.91,359.91 L544.96,359.91 L547.01,359.91 L549.07,359.91 L551.12,359.91 L553.18,359.91 L555.23,359.91 L557.29,359.91 L559.34,359.91 L561.4,359.91 L563.45,359.91 L565.5,359.91 L567.56,359.91 L569.61,359.91 L571.67,359.91 L573.72,359.91 L575.78,359.91 L577.83,359.91 L579.88,359.91 L581.94,359.91 L583.99,359.91 L586.05,359.91 L588.1,359.91 L590.16,359.91 L592.21,359.91 L594.27,359.91 L596.32,359.91 L598.37,359.91 L600.43,359.91 L602.48,359.91 L604.54,359.91 L606.59,359.91 L608.65,359.91 L610.7,359.91 L612.75,359.91 L614.81,359.91 L616.86,359.91 L618.92,359.91 L620.97,359.91 L623.03,359.91 L625.08,359.91 L627.14,359.91 L629.19,359.91 L631.24,359.91 L633.3,359.91 L635.35,359.91 L637.41,359.91 L639.46,359.91 L641.52,359.91 L643.57,359.91 L645.63,359.91 L647.68,359.91 L649.73,359.91 L651.79,359.91 L653.84,359.91 L655.9,359.91 L657.95,359.91 L660.01,359.91 L662.06,359.91 L664.11,359.91 L666.17,359.91 L668.22,359.91 L670.28,359.91 L672.33,359.91 L674.39,359.91 L676.44,359.91 L678.5,359.91 L680.55,359.91 L682.6,359.91 L684.66,359.91 L686.71,359.91 L688.77,359.91 L690.82,359.91 L692.88,359.91 L694.93,359.91 L696.98,359.91 L699.04,359.91 L701.09,359.91 L703.15,359.91 L705.2,359.91 L707.26,359.91 L709.31,359.91 L711.37,359.91 L713.42,359.91 L715.47,359.91 L717.53,359.91 L719.58,359.91 L721.64,359.91 L723.69,359.91 L725.75,359.91 L727.8,359.91 L729.85,359.91 L731.91,359.91 L733.96,359.91 L736.02,359.91 L738.07,359.91 L740.13,359.91 L742.18,359.91 L744.24,359.91 L746.29,359.91 L748.34,359.91 L750.4,359.91 L752.45,359.91 L754.51,359.91 L756.56,359.91" fill="none" stroke="#0000ff" stroke-width="4.4" stroke-dasharray="14.8 6.4" stroke-linejoin="round" />
<path d="M142.3,243.47 L144.35,243.54 L146.41,243.6 L148.46,243.67 L150.52,243.74 L152.57,243.8 L154.63,243.87 L156.68,243.93 L158.74,244 L160.79,244.06 L162.84,244.13 L164.9,244.2 L166.95,244.26 L169.01,244.33 L171.06,244.39 L173.12,244.46 L175.17,244.52 L177.22,244.59 L179.28,244.66 L181.33,244.72 L183.39,244.79 L185.44,244.85 L187.5,244.92 L189.55,244.98 L191.61,245.05 L193.66,245.12 L195.71,245.18 L197.77,245.25 L199.82,245.31 L201.88,245.38 L203.93,245.44 L205.99,245.51 L208.04,245.58 L210.09,245.64 L212.15,245.71 L214.2,245.77 L216.26,245.84 L218.31,245.9 L220.37,245.97 L222.42,246.03 L224.48,246.1 L226.53,246.17 L228.58,246.23 L230.64,246.3 L232.69,246.36 L234.75,246.43 L236.8,246.49 L238.86,246.56 L240.91,246.62 L242.97,246.69 L245.02,246.75 L247.07,246.82 L249.13,246.89 L251.18,246.95 L253.24,247.02 L255.29,247.08 L257.35,247.15 L259.4,247.21 L261.45,247.28 L263.51,247.34 L265.56,247.41 L267.62,247.47 L269.67,247.54 L271.73,247.6 L273.78,247.67 L275.84,247.74 L277.89,247.8 L279.94,247.87 L282,247.93 L284.05,248 L286.11,248.06 L288.16,248.13 L290.22,248.19 L292.27,248.26 L294.32,248.32 L296.38,248.39 L298.43,248.45 L300.49,248.52 L302.54,248.58 L304.6,248.65 L306.65,248.71 L308.71,248.78 L310.76,248.85 L312.81,248.91 L314.87,248.98 L316.92,249.04 L318.98,249.11 L321.03,249.17 L323.09,249.24 L325.14,249.3 L327.19,249.37 L329.25,249.43 L331.3,249.5 L333.36,249.56 L335.41,249.63 L337.47,249.69 L339.52,249.76 L341.58,249.82 L343.63,249.89 L345.68,249.95 L347.74,250.02 L349.79,250.08 L351.85,250.15 L353.9,250.21 L355.96,250.28 L358.01,250.34 L360.07,250.41 L362.12,250.47 L364.17,250.54 L366.23,250.6 L368.28,250.67 L370.34,250.73 L372.39,250.8 L374.45,250.86 L376.5,250.93 L378.55,250.99 L380.61,251.06 L382.66,251.12 L384.72,251.19 L386.77,251.25 L388.83,251.32 L390.88,251.38 L392.94,251.45 L394.99,251.51 L397.04,251.58 L399.1,251.64 L401.15,251.71 L403.21,251.77 L405.26,251.83 L407.32,251.9 L409.37,251.96 L411.42,252.03 L413.48,252.09 L415.53,252.16 L417.59,252.22 L419.64,252.29 L421.7,252.35 L423.75,252.42 L425.81,252.48 L427.86,252.55 L429.91,252.61 L431.97,252.68 L434.02,252.74 L436.08,252.81 L438.13,252.87 L440.19,252.93 L442.24,253 L444.3,253.06 L446.35,253.13 L448.4,253.19 L450.46,253.26 L452.51,253.32 L454.57,253.39 L456.62,253.45 L458.68,253.52 L460.73,253.58 L462.78,253.65 L464.84,253.71 L466.89,253.77 L468.95,253.84 L471,253.9 L473.06,253.97 L475.11,254.03 L477.17,254.1 L479.22,254.16 L481.27,254.23 L483.33,254.29 L485.38,254.35 L487.44,254.42 L489.49,254.48 L491.55,254.55 L493.6,254.61 L495.65,254.68 L497.71,254.74 L499.76,254.81 L501.82,254.87 L503.87,254.93 L505.93,255 L507.98,255.06 L510.04,255.13 L512.09,255.19 L514.14,255.26 L516.2,255.32 L518.25,255.38 L520.31,255.45 L522.36,255.51 L524.42,255.58 L526.47,255.64 L528.52,255.71 L530.58,255.77 L532.63,255.83 L534.69,255.9 L536.74,255.96 L538.8,256.03 L540.85,256.09 L542.91,256.15 L544.96,256.22 L547.01,256.28 L549.07,256.35 L551.12,256.41 L553.18,256.48 L555.23,256.54 L557.29,256.6 L559.34,256.67 L561.4,256.73 L563.45,256.8 L565.5,256.86 L567.56,256.92 L569.61,256.99 L571.67,257.05 L573.72,257.12 L575.78,257.18 L577.83,257.24 L579.88,257.31 L581.94,257.37 L583.99,257.44 L586.05,257.5 L588.1,257.56 L590.16,257.63 L592.21,257.69 L594.27,257.76 L596.32,257.82 L598.37,257.88 L600.43,257.95 L602.48,258.01 L604.54,258.08 L606.59,258.14 L608.65,258.2 L610.7,258.27 L612.75,258.33 L614.81,258.39 L616.86,258.46 L618.92,258.52 L620.97,258.59 L623.03,258.65 L625.08,258.71 L627.14,258.78 L629.19,258.84 L631.24,258.9 L633.3,258.97 L635.35,259.03 L637.41,259.1 L639.46,259.16 L641.52,259.22 L643.57,259.29 L645.63,259.35 L647.68,259.41 L649.73,259.48 L651.79,259.54 L653.84,259.6 L655.9,259.67 L657.95,259.73 L660.01,259.8 L662.06,259.86 L664.11,259.92 L666.17,259.99 L668.22,260.05 L670.28,260.11 L672.33,260.18 L674.39,260.24 L676.44,260.3 L678.5,260.37 L680.55,260.43 L682.6,260.49 L684.66,260.56 L686.71,260.62 L688.77,260.68 L690.82,260.75 L692.88,260.81 L694.93,260.87 L696.98,260.94 L699.04,261 L701.09,261.06 L703.15,261.13 L705.2,261.19 L707.26,261.25 L709.31,261.32 L711.37,261.38 L713.42,261.44 L715.47,261.51 L717.53,261.57 L719.58,261.63 L721.64,261.7 L723.69,261.76 L725.75,261.82 L727.8,261.89 L729.85,261.95 L731.91,262.01 L733.96,262.08 L736.02,262.14 L738.07,262.2 L740.13,262.27 L742.18,262.33 L744.24,262.39 L746.29,262.46 L748.34,262.52 L750.4,262.58 L752.45,262.65 L754.51,262.71 L756.56,262.77" fill="none" stroke="#000080" stroke-width="4.4" stroke-dasharray="14.8 6.4" stroke-linejoin="round" />
<path d="M142.3,331.17 L144.35,331.24 L146.41,331.32 L148.46,331.39 L150.52,331.46 L152.57,331.53 L154.63,331.61 L156.68,331.68 L158.74,331.75 L160.79,331.82 L162.84,331.9 L164.9,331.97 L166.95,332.04 L169.01,332.11 L171.06,332.18 L173.12,332.25 L175.17,332.32 L177.22,332.4 L179.28,332.47 L181.33,332.54 L183.39,332.61 L185.44,332.68 L187.5,332.75 L189.55,332.82 L191.61,332.89 L193.66,332.96 L195.71,333.03 L197.77,333.1 L199.82,333.17 L201.88,333.24 L203.93,333.31 L205.99,333.38 L208.04,333.44 L210.09,333.51 L212.15,333.58 L214.2,333.65 L216.26,333.72 L218.31,333.79 L220.37,333.86 L222.42,333.92 L224.48,333.99 L226.53,334.06 L228.58,334.13 L230.64,334.19 L232.69,334.26 L234.75,334.33 L236.8,334.4 L238.86,334.46 L240.91,334.53 L242.97,334.6 L245.02,334.66 L247.07,334.73 L249.13,334.8 L251.18,334.86 L253.24,334.93 L255.29,335 L257.35,335.06 L259.4,335.13 L261.45,335.19 L263.51,335.26 L265.56,335.32 L267.62,335.39 L269.67,335.45 L271.73,335.52 L273.78,335.58 L275.84,335.65 L277.89,335.71 L279.94,335.78 L282,335.84 L284.05,335.91 L286.11,335.97 L288.16,336.03 L290.22,336.1 L292.27,336.16 L294.32,336.22 L296.38,336.29 L298.43,336.35 L300.49,336.41 L302.54,336.48 L304.6,336.54 L306.65,336.6 L308.71,336.67 L310.76,336.73 L312.81,336.79 L314.87,336.85 L316.92,336.92 L318.98,336.98 L321.03,337.04 L323.09,337.1 L325.14,337.16 L327.19,337.22 L329.25,337.29 L331.3,337.35 L333.36,337.41 L335.41,337.47 L337.47,337.53 L339.52,337.59 L341.58,337.65 L343.63,337.71 L345.68,337.77 L347.74,337.83 L349.79,337.89 L351.85,337.95 L353.9,338.01 L355.96,338.07 L358.01,338.13 L360.07,338.19 L362.12,338.25 L364.17,338.31 L366.23,338.37 L368.28,338.43 L370.34,338.49 L372.39,338.54 L374.45,338.6 L376.5,338.66 L378.55,338.72 L380.61,338.78 L382.66,338.84 L384.72,338.89 L386.77,338.95 L388.83,339.01 L390.88,339.07 L392.94,339.12 L394.99,339.18 L397.04,339.24 L399.1,339.3 L401.15,339.35 L403.21,339.41 L405.26,339.47 L407.32,339.52 L409.37,339.58 L411.42,339.64 L413.48,339.69 L415.53,339.75 L417.59,339.8 L419.64,339.86 L421.7,339.92 L423.75,339.97 L425.81,340.03 L427.86,340.08 L429.91,340.14 L431.97,340.19 L434.02,340.25 L436.08,340.3 L438.13,340.36 L440.19,340.41 L442.24,340.47 L444.3,340.52 L446.35,340.58 L448.4,340.63 L450.46,340.68 L452.51,340.74 L454.57,340.79 L456.62,340.85 L458.68,340.9 L460.73,340.95 L462.78,341.01 L464.84,341.06 L466.89,341.11 L468.95,341.16 L471,341.22 L473.06,341.27 L475.11,341.32 L477.17,341.38 L479.22,341.43 L481.27,341.48 L483.33,341.53 L485.38,341.58 L487.44,341.64 L489.49,341.69 L491.55,341.74 L493.6,341.79 L495.65,341.84 L497.71,341.89 L499.76,341.94 L501.82,342 L503.87,342.05 L505.93,342.1 L507.98,342.15 L510.04,342.2 L512.09,342.25 L514.14,342.3 L516.2,342.35 L518.25,342.4 L520.31,342.45 L522.36,342.5 L524.42,342.55 L526.47,342.6 L528.52,342.65 L530.58,342.7 L532.63,342.75 L534.69,342.8 L536.74,342.85 L538.8,342.89 L540.85,342.94 L542.91,342.99 L544.96,343.04 L547.01,343.09 L549.07,343.14 L551.12,343.19 L553.18,343.23 L555.23,343.28 L557.29,343.33 L559.34,343.38 L561.4,343.43 L563.45,343.47 L565.5,343.52 L567.56,343.57 L569.61,343.61 L571.67,343.66 L573.72,343.71 L575.78,343.76 L577.83,343.8 L579.88,343.85 L581.94,343.9 L583.99,343.94 L586.05,343.99 L588.1,344.03 L590.16,344.08 L592.21,344.13 L594.27,344.17 L596.32,344.22 L598.37,344.26 L600.43,344.31 L602.48,344.36 L604.54,344.4 L606.59,344.45 L608.65,344.49 L610.7,344.54 L612.75,344.58 L614.81,344.63 L616.86,344.67 L618.92,344.71 L620.97,344.76 L623.03,344.8 L625.08,344.85 L627.14,344.89 L629.19,344.94 L631.24,344.98 L633.3,345.02 L635.35,345.07 L637.41,345.11 L639.46,345.15 L641.52,345.2 L643.57,345.24 L645.63,345.28 L647.68,345.33 L649.73,345.37 L651.79,345.41 L653.84,345.46 L655.9,345.5 L657.95,345.54 L660.01,345.58 L662.06,345.63 L664.11,345.67 L666.17,345.71 L668.22,345.75 L670.28,345.79 L672.33,345.84 L674.39,345.88 L676.44,345.92 L678.5,345.96 L680.55,346 L682.6,346.04 L684.66,346.08 L686.71,346.13 L688.77,346.17 L690.82,346.21 L692.88,346.25 L694.93,346.29 L696.98,346.33 L699.04,346.37 L701.09,346.41 L703.15,346.45 L705.2,346.49 L707.26,346.53 L709.31,346.57 L711.37,346.61 L713.42,346.65 L715.47,346.69 L717.53,346.73 L719.58,346.77 L721.64,346.81 L723.69,346.85 L725.75,346.89 L727.8,346.92 L729.85,346.96 L731.91,347 L733.96,347.04 L736.02,347.08 L738.07,347.12 L740.13,347.16 L742.18,347.19 L744.24,347.23 L746.29,347.27 L748.34,347.31 L750.4,347.35 L752.45,347.38 L754.51,347.42 L756.56,347.46" fill="none" stroke="#008000" stroke-width="4.4" stroke-dasharray="14.8 6.4" stroke-linejoin="round" />
<path d="M142.3,182.06 L144.35,182.78 L146.41,183.51 L148.46,184.23 L150.52,184.95 L152.57,185.67 L154.63,186.4 L156.68,187.12 L158.74,187.84 L160.79,188.56 L162.84,189.28 L164.9,190 L166.95,190.72 L169.01,191.44 L171.06,192.16 L173.12,192.88 L175.17,193.6 L177.22,194.32 L179.28,195.04 L181.33,195.76 L183.39,196.48 L185.44,197.19 L187.5,197.91 L189.55,198.63 L191.61,199.35 L193.66,200.06 L195.71,200.78 L197.77,201.5 L199.82,202.21 L201.88,202.93 L203.93,203.64 L205.99,204.36 L208.04,205.07 L210.09,205.79 L212.15,206.5 L214.2,207.21 L216.26,207.93 L218.31,208.64 L220.37,209.35 L222.42,210.06 L224.48,210.77 L226.53,211.49 L228.58,212.2 L230.64,212.91 L232.69,213.62 L234.75,214.33 L236.8,215.03 L238.86,215.74 L240.91,216.45 L242.97,217.16 L245.02,217.86 L247.07,218.57 L249.13,219.28 L251.18,219.98 L253.24,220.69 L255.29,221.39 L257.35,222.1 L259.4,222.8 L261.45,223.5 L263.51,224.21 L265.56,224.91 L267.62,225.61 L269.67,226.31 L271.73,227.01 L273.78,227.71 L275.84,228.41 L277.89,229.11 L279.94,229.81 L282,230.5 L284.05,231.2 L286.11,231.9 L288.16,232.59 L290.22,233.29 L292.27,233.98 L294.32,234.67 L296.38,235.37 L298.43,236.06 L300.49,236.75 L302.54,237.44 L304.6,238.13 L306.65,238.82 L308.71,239.51 L310.76,240.2 L312.81,240.88 L314.87,241.57 L316.92,242.25 L318.98,242.94 L321.03,243.62 L323.09,244.31 L325.14,244.99 L327.19,245.67 L329.25,246.35 L331.3,247.03 L333.36,247.71 L335.41,248.38 L337.47,249.06 L339.52,249.74 L341.58,250.41 L343.63,251.09 L345.68,251.76 L347.74,252.43 L349.79,253.1 L351.85,253.77 L353.9,254.44 L355.96,255.11 L358.01,255.78 L360.07,256.44 L362.12,257.11 L364.17,257.77 L366.23,258.44 L368.28,259.1 L370.34,259.76 L372.39,260.42 L374.45,261.07 L376.5,261.73 L378.55,262.39 L380.61,263.04 L382.66,263.7 L384.72,264.35 L386.77,265 L388.83,265.65 L390.88,266.3 L392.94,266.94 L394.99,267.59 L397.04,268.23 L399.1,268.88 L401.15,269.52 L403.21,270.16 L405.26,270.8 L407.32,271.44 L409.37,272.07 L411.42,272.71 L413.48,273.34 L415.53,273.97 L417.59,274.6 L419.64,275.23 L421.7,275.86 L423.75,276.48 L425.81,277.11 L427.86,277.73 L429.91,278.35 L431.97,278.97 L434.02,279.59 L436.08,280.2 L438.13,280.82 L440.19,281.43 L442.24,282.04 L444.3,282.65 L446.35,283.26 L448.4,283.86 L450.46,284.47 L452.51,285.07 L454.57,285.67 L456.62,286.27 L458.68,286.86 L460.73,287.46 L462.78,288.05 L464.84,288.64 L466.89,289.23 L468.95,289.81 L471,290.4 L473.06,290.98 L475.11,291.56 L477.17,292.14 L479.22,292.72 L481.27,293.29 L483.33,293.86 L485.38,294.43 L487.44,295 L489.49,295.57 L491.55,296.13 L493.6,296.69 L495.65,297.25 L497.71,297.81 L499.76,298.36 L501.82,298.91 L503.87,299.46 L505.93,300.01 L507.98,300.56 L510.04,301.1 L512.09,301.64 L514.14,302.18 L516.2,302.71 L518.25,303.25 L520.31,303.78 L522.36,304.3 L524.42,304.83 L526.47,305.35 L528.52,305.87 L530.58,306.39 L532.63,306.91 L534.69,307.42 L536.74,307.93 L538.8,308.44 L540.85,308.94 L542.91,309.45 L544.96,309.95 L547.01,310.44 L549.07,310.94 L551.12,311.43 L553.18,311.92 L555.23,312.41 L557.29,312.89 L559.34,313.37 L561.4,313.85 L563.45,314.32 L565.5,314.79 L567.56,315.26 L569.61,315.73 L571.67,316.19 L573.72,316.66 L575.78,317.11 L577.83,317.57 L579.88,318.02 L581.94,318.47 L583.99,318.92 L586.05,319.36 L588.1,319.8 L590.16,320.24 L592.21,320.67 L594.27,321.11 L596.32,321.53 L598.37,321.96 L600.43,322.38 L602.48,322.8 L604.54,323.22 L606.59,323.63 L608.65,324.04 L610.7,324.45 L612.75,324.86 L614.81,325.26 L616.86,325.66 L618.92,326.05 L620.97,326.44 L623.03,326.83 L625.08,327.22 L627.14,327.6 L629.19,327.98 L631.24,328.36 L633.3,328.73 L635.35,329.1 L637.41,329.47 L639.46,329.84 L641.52,330.2 L643.57,330.56 L645.63,330.91 L647.68,331.27 L649.73,331.62 L651.79,331.96 L653.84,332.31 L655.9,332.65 L657.95,332.98 L660.01,333.32 L662.06,333.65 L664.11,333.98 L666.17,334.3 L668.22,334.62 L670.28,334.94 L672.33,335.26 L674.39,335.57 L676.44,335.88 L678.5,336.19 L680.55,336.49 L682.6,336.8 L684.66,337.09 L686.71,337.39 L688.77,337.68 L690.82,337.97 L692.88,338.26 L694.93,338.54 L696.98,338.82 L699.04,339.1 L701.09,339.37 L703.15,339.65 L705.2,339.92 L707.26,340.18 L709.31,340.45 L711.37,340.71 L713.42,340.96 L715.47,341.22 L717.53,341.47 L719.58,341.72 L721.64,341.97 L723.69,342.21 L725.75,342.45 L727.8,342.69 L729.85,342.93 L731.91,343.16 L733.96,343.39 L736.02,343.62 L738.07,343.85 L740.13,344.07 L742.18,344.29 L744.24,344.51 L746.29,344.72 L748.34,344.94 L750.4,345.15 L752.45,345.35 L754.51,345.56 L756.56,345.76" fill="none" stroke="#bf00bf" stroke-width="4.4" stroke-dasharray="14.8 6.4" stroke-linejoin="round" />
<path d="M142.3,159.12 L144.35,160.84 L146.41,162.48 L148.46,164.04 L150.52,165.52 L152.57,166.93 L154.63,168.26 L156.68,169.53 L158.74,170.75 L160.79,171.9 L162.84,173.01 L164.9,174.06 L166.95,175.07 L169.01,176.04 L171.06,176.98 L173.12,177.87 L175.17,178.74 L177.22,179.58 L179.28,180.38 L181.33,181.17 L183.39,181.93 L185.44,182.67 L187.5,183.39 L189.55,184.09 L191.61,184.78 L193.66,185.45 L195.71,186.11 L197.77,186.75 L199.82,187.38 L201.88,188.01 L203.93,188.62 L205.99,189.22 L208.04,189.82 L210.09,190.4 L212.15,190.98 L214.2,191.55 L216.26,192.12 L218.31,192.68 L220.37,193.23 L222.42,193.78 L224.48,194.32 L226.53,194.86 L228.58,195.4 L230.64,195.93 L232.69,196.45 L234.75,196.97 L236.8,197.49 L238.86,198.01 L240.91,198.52 L242.97,199.02 L245.02,199.53 L247.07,200.03 L249.13,200.52 L251.18,201.02 L253.24,201.51 L255.29,202 L257.35,202.48 L259.4,202.97 L261.45,203.45 L263.51,203.92 L265.56,204.4 L267.62,204.87 L269.67,205.34 L271.73,205.8 L273.78,206.27 L275.84,206.73 L277.89,207.18 L279.94,207.64 L282,208.09 L284.05,208.54 L286.11,208.99 L288.16,209.43 L290.22,209.88 L292.27,210.32 L294.32,210.75 L296.38,211.19 L298.43,211.62 L300.49,212.05 L302.54,212.48 L304.6,212.9 L306.65,213.32 L308.71,213.74 L310.76,214.16 L312.81,214.57 L314.87,214.99 L316.92,215.39 L318.98,215.8 L321.03,216.2 L323.09,216.61 L325.14,217.01 L327.19,217.4 L329.25,217.8 L331.3,218.19 L333.36,218.58 L335.41,218.96 L337.47,219.35 L339.52,219.73 L341.58,220.11 L343.63,220.48 L345.68,220.86 L347.74,221.23 L349.79,221.6 L351.85,221.96 L353.9,222.33 L355.96,222.69 L358.01,223.05 L360.07,223.4 L362.12,223.76 L364.17,224.11 L366.23,224.46 L368.28,224.8 L370.34,225.15 L372.39,225.49 L374.45,225.83 L376.5,226.16 L378.55,226.5 L380.61,226.83 L382.66,227.16 L384.72,227.48 L386.77,227.81 L388.83,228.13 L390.88,228.45 L392.94,228.77 L394.99,229.08 L397.04,229.4 L399.1,229.71 L401.15,230.01 L403.21,230.32 L405.26,230.62 L407.32,230.93 L409.37,231.22 L411.42,231.52 L413.48,231.81 L415.53,232.11 L417.59,232.4 L419.64,232.68 L421.7,232.97 L423.75,233.25 L425.81,233.53 L427.86,233.81 L429.91,234.09 L431.97,234.36 L434.02,234.64 L436.08,234.91 L438.13,235.17 L440.19,235.44 L442.24,235.7 L444.3,235.96 L446.35,236.22 L448.4,236.48 L450.46,236.74 L452.51,236.99 L454.57,237.24 L456.62,237.49 L458.68,237.74 L460.73,237.98 L462.78,238.23 L464.84,238.47 L466.89,238.71 L468.95,238.95 L471,239.18 L473.06,239.42 L475.11,239.65 L477.17,239.88 L479.22,240.11 L481.27,240.33 L483.33,240.56 L485.38,240.78 L487.44,241 L489.49,241.22 L491.55,241.44 L493.6,241.65 L495.65,241.87 L497.71,242.08 L499.76,242.29 L501.82,242.5 L503.87,242.7 L505.93,242.91 L507.98,243.11 L510.04,243.32 L512.09,243.52 L514.14,243.72 L516.2,243.91 L518.25,244.11 L520.31,244.3 L522.36,244.49 L524.42,244.69 L526.47,244.88 L528.52,245.06 L530.58,245.25 L532.63,245.43 L534.69,245.62 L536.74,245.8 L538.8,245.98 L540.85,246.16 L542.91,246.34 L544.96,246.51 L547.01,246.69 L549.07,246.86 L551.12,247.04 L553.18,247.21 L555.23,247.38 L557.29,247.55 L559.34,247.71 L561.4,247.88 L563.45,248.04 L565.5,248.21 L567.56,248.37 L569.61,248.53 L571.67,248.69 L573.72,248.85 L575.78,249 L577.83,249.16 L579.88,249.31 L581.94,249.47 L583.99,249.62 L586.05,249.77 L588.1,249.92 L590.16,250.07 L592.21,250.22 L594.27,250.37 L596.32,250.51 L598.37,250.66 L600.43,250.8 L602.48,250.94 L604.54,251.09 L606.59,251.23 L608.65,251.37 L610.7,251.51 L612.75,251.64 L614.81,251.78 L616.86,251.92 L618.92,252.05 L620.97,252.18 L623.03,252.32 L625.08,252.45 L627.14,252.58 L629.19,252.71 L631.24,252.84 L633.3,252.97 L635.35,253.1 L637.41,253.22 L639.46,253.35 L641.52,253.48 L643.57,253.6 L645.63,253.72 L647.68,253.85 L649.73,253.97 L651.79,254.09 L653.84,254.21 L655.9,254.33 L657.95,254.45 L660.01,254.57 L662.06,254.69 L664.11,254.8 L666.17,254.92 L668.22,255.03 L670.28,255.15 L672.33,255.26 L674.39,255.38 L676.44,255.49 L678.5,255.6 L680.55,255.71 L682.6,255.82 L684.66,255.93 L686.71,256.04 L688.77,256.15 L690.82,256.26 L692.88,256.37 L694.93,256.48 L696.98,256.58 L699.04,256.69 L701.09,256.79 L703.15,256.9 L705.2,257 L707.26,257.11 L709.31,257.21 L711.37,257.31 L713.42,257.41 L715.47,257.52 L717.53,257.62 L719.58,257.72 L721.64,257.82 L723.69,257.92 L725.75,258.02 L727.8,258.12 L729.85,258.21 L731.91,258.31 L733.96,258.41 L736.02,258.5 L738.07,258.6 L740.13,258.7 L742.18,258.79 L744.24,258.89 L746.29,258.98 L748.34,259.08 L750.4,259.17 L752.45,259.26 L754.51,259.36 L756.56,259.45" fill="none" stroke="#ff0000" stroke-width="4.4" stroke-dasharray="14.8 6.4" stroke-linejoin="round" />
<rect x="126.6" y="15.2" width="666" height="509.15" fill="none" stroke="#000" stroke-width="1.1"/>
<path d="M126.6,524.35h-4M792.6,524.35h4M126.6,422.52h-4M792.6,422.52h4M126.6,320.69h-4M792.6,320.69h4M126.6,218.86h-4M792.6,218.86h4M126.6,117.03h-4M792.6,117.03h4M126.6,15.2h-4M792.6,15.2h4" stroke="#000" stroke-width="0.95" fill="none"/>
<path d="M126.6,493.7h-2.3M792.6,493.7h2.3M126.6,475.76h-2.3M792.6,475.76h2.3M126.6,463.04h-2.3M792.6,463.04h2.3M126.6,453.17h-2.3M792.6,453.17h2.3M126.6,445.11h-2.3M792.6,445.11h2.3M126.6,438.29h-2.3M792.6,438.29h2.3M126.6,432.39h-2.3M792.6,432.39h2.3M126.6,427.18h-2.3M792.6,427.18h2.3M126.6,391.87h-2.3M792.6,391.87h2.3M126.6,373.93h-2.3M792.6,373.93h2.3M126.6,361.21h-2.3M792.6,361.21h2.3M126.6,351.34h-2.3M792.6,351.34h2.3M126.6,343.28h-2.3M792.6,343.28h2.3M126.6,336.46h-2.3M792.6,336.46h2.3M126.6,330.56h-2.3M792.6,330.56h2.3M126.6,325.35h-2.3M792.6,325.35h2.3M126.6,290.04h-2.3M792.6,290.04h2.3M126.6,272.1h-2.3M792.6,272.1h2.3M126.6,259.38h-2.3M792.6,259.38h2.3M126.6,249.51h-2.3M792.6,249.51h2.3M126.6,241.45h-2.3M792.6,241.45h2.3M126.6,234.63h-2.3M792.6,234.63h2.3M126.6,228.73h-2.3M792.6,228.73h2.3M126.6,223.52h-2.3M792.6,223.52h2.3M126.6,188.21h-2.3M792.6,188.21h2.3M126.6,170.27h-2.3M792.6,170.27h2.3M126.6,157.55h-2.3M792.6,157.55h2.3M126.6,147.68h-2.3M792.6,147.68h2.3M126.6,139.62h-2.3M792.6,139.62h2.3M126.6,132.8h-2.3M792.6,132.8h2.3M126.6,126.9h-2.3M792.6,126.9h2.3M126.6,121.69h-2.3M792.6,121.69h2.3M126.6,86.38h-2.3M792.6,86.38h2.3M126.6,68.44h-2.3M792.6,68.44h2.3M126.6,55.72h-2.3M792.6,55.72h2.3M126.6,45.85h-2.3M792.6,45.85h2.3M126.6,37.79h-2.3M792.6,37.79h2.3M126.6,30.97h-2.3M792.6,30.97h2.3M126.6,25.07h-2.3M792.6,25.07h2.3M126.6,19.86h-2.3M792.6,19.86h2.3" stroke="#000" stroke-width="0.85" fill="none"/>
<path d="M142.3,524.35v4M250.54,524.35v4M358.78,524.35v4M467.02,524.35v4M575.26,524.35v4M683.5,524.35v4" stroke="#000" stroke-width="0.95" fill="none"/>
<text x="142.5" y="553.85" text-anchor="middle" font-size="28.5">0</text>
<text x="250.74" y="553.85" text-anchor="middle" font-size="28.5">200</text>
<text x="358.98" y="553.85" text-anchor="middle" font-size="28.5">400</text>
<text x="467.22" y="553.85" text-anchor="middle" font-size="28.5">600</text>
<text x="575.46" y="553.85" text-anchor="middle" font-size="28.5">800</text>
<text x="683.7" y="553.85" text-anchor="middle" font-size="28.5">1000</text>
<text x="117.1" y="534.05" text-anchor="end" font-size="27.7">10<tspan dx="0.5" dy="-10.4" font-size="19.8">0</tspan></text>
<text x="800" y="534.05" text-anchor="start" font-size="27.7">10<tspan dx="0.5" dy="-10.4" font-size="19.8">0</tspan></text>
<text x="117.1" y="432.22" text-anchor="end" font-size="27.7">10<tspan dx="0.5" dy="-10.4" font-size="19.8">1</tspan></text>
<text x="800" y="432.22" text-anchor="start" font-size="27.7">10<tspan dx="0.5" dy="-10.4" font-size="19.8">1</tspan></text>
<text x="117.1" y="330.39" text-anchor="end" font-size="27.7">10<tspan dx="0.5" dy="-10.4" font-size="19.8">2</tspan></text>
<text x="800" y="330.39" text-anchor="start" font-size="27.7">10<tspan dx="0.5" dy="-10.4" font-size="19.8">2</tspan></text>
<text x="117.1" y="228.56" text-anchor="end" font-size="27.7">10<tspan dx="0.5" dy="-10.4" font-size="19.8">3</tspan></text>
<text x="800" y="228.56" text-anchor="start" font-size="27.7">10<tspan dx="0.5" dy="-10.4" font-size="19.8">3</tspan></text>
<text x="117.1" y="126.73" text-anchor="end" font-size="27.7">10<tspan dx="0.5" dy="-10.4" font-size="19.8">4</tspan></text>
<text x="800" y="126.73" text-anchor="start" font-size="27.7">10<tspan dx="0.5" dy="-10.4" font-size="19.8">4</tspan></text>
<text x="117.1" y="24.9" text-anchor="end" font-size="27.7">10<tspan dx="0.5" dy="-10.4" font-size="19.8">5</tspan></text>
<text x="800" y="24.9" text-anchor="start" font-size="27.7">10<tspan dx="0.5" dy="-10.4" font-size="19.8">5</tspan></text>
<text x="139.9" y="47.8" class="t" font-size="32.4" xml:space="preserve">PMMA (210 mm)</text>
<text x="150.7" y="84.2" class="t" font-size="32.4" xml:space="preserve">(a)</text>
<rect x="430.4" y="25.1" width="352.1" height="183.7" rx="4" ry="4" fill="#fff" fill-opacity="0.8" stroke="#d6d6d6" stroke-width="1"/>
<rect x="439.1" y="34.6" width="40.2" height="14.4" fill="#a6afd7"/>
<text class="g" x="495.7" y="49.2" font-size="20.2">PET Data</text>
<path d="M439.1,71.75h40" stroke="#0000ff" stroke-width="4.4" stroke-linecap="square" fill="none"/>
<text class="g" x="495.7" y="78.85" font-size="20.2">C10</text>
<path d="M628.2,71.75h40" stroke="#0000ff" stroke-width="4.4" stroke-dasharray="14.8 6.4" fill="none"/>
<text class="g" x="684.8" y="78.85" font-size="20.2">C10 Sim</text>
<path d="M439.1,101.4h40" stroke="#000080" stroke-width="4.4" stroke-linecap="square" fill="none"/>
<text class="g" x="495.7" y="108.5" font-size="20.2">C11</text>
<path d="M628.2,101.4h40" stroke="#000080" stroke-width="4.4" stroke-dasharray="14.8 6.4" fill="none"/>
<text class="g" x="684.8" y="108.5" font-size="20.2">C11 Sim</text>
<path d="M439.1,131.05h40" stroke="#008000" stroke-width="4.4" stroke-linecap="square" fill="none"/>
<text class="g" x="495.7" y="138.15" font-size="20.2">N13</text>
<path d="M628.2,131.05h40" stroke="#008000" stroke-width="4.4" stroke-dasharray="14.8 6.4" fill="none"/>
<text class="g" x="684.8" y="138.15" font-size="20.2">N13 Sim</text>
<path d="M439.1,160.7h40" stroke="#bf00bf" stroke-width="4.4" stroke-linecap="square" fill="none"/>
<text class="g" x="495.7" y="167.8" font-size="20.2">O15</text>
<path d="M628.2,160.7h40" stroke="#bf00bf" stroke-width="4.4" stroke-dasharray="14.8 6.4" fill="none"/>
<text class="g" x="684.8" y="167.8" font-size="20.2">O15 Sim</text>
<path d="M439.1,190.35h40" stroke="#ff0000" stroke-width="4.4" stroke-linecap="square" fill="none"/>
<text class="g" x="495.7" y="197.45" font-size="20.2">Sum</text>
<path d="M628.2,190.35h40" stroke="#ff0000" stroke-width="4.4" stroke-dasharray="14.8 6.4" fill="none"/>
<text class="g" x="684.8" y="197.45" font-size="20.2">Sum Sim</text>
<path d="M942,524.35V179.66H943.08V181.65H944.17V183.86H945.25V185.18H946.33V187.2H947.41V188.35H948.5V190.92H949.58V192.44H950.66V193.44H951.75V194.66H952.83V196.67H953.91V198.53H954.99V199.62H956.08V201.15H957.16V201.21H958.24V202.97H959.32V203.98H960.41V205.65H961.49V207.24H962.57V207.37H963.66V208.14H964.74V209.73H965.82V211.03H966.9V211.31H967.99V213.04H969.07V213.22H970.15V214.91H971.24V215.84H972.32V215.65H973.4V216.5H974.48V216.22H975.57V218.2H976.65V218.63H977.73V219.96H978.82V221H979.9V221.48H980.98V220.54H982.06V222.09H983.15V221.06H984.23V221.31H985.31V222.83H986.39V221.96H987.48V223.27H988.56V223.04H989.64V224.28H990.73V223.82H991.81V225.41H992.89V224.65H993.97V225.66H995.06V225.7H996.14V225.44H997.22V226H998.31V226.4H999.39V226.07H1000.47V226.23H1001.55V227.94H1002.64V226.79H1003.72V226.89H1004.8V228.05H1005.89V227.43H1006.97V228.79H1008.05V227.02H1009.13V228.32H1010.22V228.35H1011.3V227.6H1012.38V228.66H1013.46V228.27H1014.55V229.55H1015.63V229.32H1016.71V230.02H1017.8V229.28H1018.88V228.51H1019.96V229.18H1021.04V228.81H1022.13V230.26H1023.21V230.25H1024.29V230.03H1025.38V229.38H1026.46V229.61H1027.54V229.96H1028.62V229.58H1029.71V230.21H1030.79V230.19H1031.87V229.32H1032.96V230.73H1034.04V230.25H1035.12V229.3H1036.2V230.44H1037.29V230.07H1038.37V231.08H1039.45V229.31H1040.53V232.41H1041.62V231.64H1042.7V231.64H1043.78V229.78H1044.87V230.74H1045.95V231.23H1047.03V232.04H1048.11V230.89H1049.2V231.12H1050.28V231.76H1051.36V232.41H1052.45V232.17H1053.53V231.26H1054.61V231.24H1055.69V231.46H1056.78V231.67H1057.86V232.92H1058.94V231.63H1060.03V232.47H1061.11V231.73H1062.19V231.47H1063.27V232.35H1064.36V232.66H1065.44V231.23H1066.52V231.74H1067.6V232.51H1068.69V234.34H1069.77V232.17H1070.85V231.72H1071.94V231.41H1073.02V232.77H1074.1V232.79H1075.18V232.69H1076.27V231.8H1077.35V233.32H1078.43V232.58H1079.52V233.23H1080.6V232.39H1081.68V233.79H1082.76V232.4H1083.85V233.09H1084.93V232.93H1086.01V232.43H1087.1V232.02H1088.18V234.17H1089.26V232.21H1090.34V232.58H1091.43V233.25H1092.51V232.05H1093.59V232.98H1094.67V232.22H1095.76V233.65H1096.84V233.9H1097.92V232.4H1099.01V231.76H1100.09V232.91H1101.17V232.77H1102.25V233.82H1103.34V234.51H1104.42V233.72H1105.5V232.5H1106.59V235.05H1107.67V234.06H1108.75V235.18H1109.83V233.69H1110.92V233.17H1112V234.8H1113.08V234.21H1114.17V232.97H1115.25V234.06H1116.33V234.97H1117.41V235.07H1118.5V235.65H1119.58V233.59H1120.66V234.77H1121.74V233.47H1122.83V233.65H1123.91V234.83H1124.99V234.78H1126.08V233.84H1127.16V234.35H1128.24V234.31H1129.32V235.81H1130.41V233.92H1131.49V235.3H1132.57V236.42H1133.66V235.19H1134.74V234.45H1135.82V233.26H1136.9V235.13H1137.99V235.91H1139.07V233.36H1140.15V234.86H1141.24V235.22H1142.32V235.89H1143.4V235.88H1144.48V234.05H1145.57V235.4H1146.65V235.65H1147.73V235.67H1148.81V234.15H1149.9V235.82H1150.98V234.94H1152.06V235.25H1153.15V235.32H1154.23V236.21H1155.31V235.09H1156.39V234.42H1157.48V235.71H1158.56V236.42H1159.64V236.75H1160.73V235.65H1161.81V236.05H1162.89V235.96H1163.97V235.92H1165.06V237.11H1166.14V235.42H1167.22V235.88H1168.31V236.16H1169.39V235.96H1170.47V235.48H1171.55V236.19H1172.64V236.93H1173.72V235.43H1174.8V236.69H1175.88V236.96H1176.97V237.66H1178.05V236.48H1179.13V237.34H1180.22V236.97H1181.3V236.27H1182.38V236.63H1183.46V235.92H1184.55V236.51H1185.63V237.1H1186.71V237.08H1187.8V237.26H1188.88V236.42H1189.96V236.94H1191.04V237.32H1192.13V236.39H1193.21V237.01H1194.29V237.49H1195.38V238.36H1196.46V236.88H1197.54V237.07H1198.62V237.26H1199.71V237.68H1200.79V238.04H1201.87V237.6H1202.95V237.29H1204.04V237.61H1205.12V237.67H1206.2V237.97H1207.29V237.38H1208.37V237.5H1209.45V238.32H1210.53V237.18H1211.62V237.2H1212.7V237.23H1213.78V238H1214.87V238.09H1215.95V238.9H1217.03V237.44H1218.11V239.77H1219.2V238.42H1220.28V238.42H1221.36V237.53H1222.45V238.24H1223.53V239.05H1224.61V239.46H1225.69V238.95H1226.78V238.33H1227.86V238.41H1228.94V238.65H1230.02V239.08H1231.11V238.75H1232.19V237.85H1233.27V239.54H1234.36V238.69H1235.44V237.5H1236.52V238.36H1237.6V239.2H1238.69V238.37H1239.77V239.52H1240.85V238.96H1241.94V237.8H1243.02V237.58H1244.1V240.47H1245.18V238.59H1246.27V237.67H1247.35V239.66H1248.43V239.06H1249.52V238.13H1250.6V239.75H1251.68V239.04H1252.76V239.49H1253.85V241.04H1254.93V239.25H1256.01V239.71H1257.09V238.88H1258.18V238.02H1259.26V239.15H1260.34V240.03H1261.43V239.42H1262.51V239.66H1263.59V239.06H1264.67V241.07H1265.76V240.89H1266.84V241.66H1267.92V239.55H1269.01V240.1H1270.09V240.64H1271.17V240.75H1272.25V240.67H1273.34V241H1274.42V240.55H1275.5V240.73H1276.59V239.28H1277.67V240.16H1278.75V241.13H1279.83V240.98H1280.92V239.6H1282V240.23H1283.08V240.4H1284.16V240.1H1285.25V239.46H1286.33V241.76H1287.41V241.41H1288.5V242.28H1289.58V240.49H1290.66V241.24H1291.74V241.52H1292.83V241.64H1293.91V240.51H1294.99V241.22H1296.08V244.79H1297.16V240.18H1298.24V242.09H1299.32V242.31H1300.41V243.92H1301.49V241.66H1302.57V241.85H1303.66V242.04H1304.74V241.6H1305.82V240.9H1306.9V240.96H1307.99V241.17H1309.07V241.89H1310.15V242.93H1311.23V241.51H1312.32V240.56H1313.4V240.96H1314.48V242.01H1315.57V241.26H1316.65V242.27H1317.73V242.04H1318.81V243.06H1319.9V242.34H1320.98V242.01H1322.06V242.31H1323.15V241.59H1324.23V240.74H1325.31V241.23H1326.39V242.59H1327.48V242.99H1328.56V242.96H1329.64V243.28H1330.73V242.48H1331.81V242.21H1332.89V242.44H1333.97V242.48H1335.06V242.55H1336.14V242.83H1337.22V243.38H1338.3V241.41H1339.39V244.26H1340.47V243.65H1341.55V243.69H1342.64V243.46H1343.72V242.99H1344.8V242.03H1345.88V242.27H1346.97V242.27H1348.05V242.3H1349.13V242.32H1350.22V242.67H1351.3V242.94H1352.38V243.46H1353.46V244.87H1354.55V243.55H1355.63V242.01H1356.71V243.98H1357.8V244.1H1358.88V242.78H1359.96V243.59H1361.04V244.1H1362.13V242.46H1363.21V243.27H1364.29V243.2H1365.37V244.34H1366.46V243.5H1367.54V243.64H1368.62V243.35H1369.71V243.09H1370.79V243.15H1371.87V243.98H1372.95V243.59H1374.04V245.18H1375.12V243.71H1376.2V243.72H1377.29V244.66H1378.37V245.03H1379.45V244.47H1380.53V245.5H1381.62V244.22H1382.7V244.3H1383.78V245.4H1384.87V244.59H1385.95V243.78H1387.03V243.83H1388.11V243.92H1389.2V244.93H1390.28V245.13H1391.36V245.22H1392.44V244.43H1393.53V243.03H1394.61V243.84H1395.69V243.73H1396.78V243.97H1397.86V246.53H1398.94V245.35H1400.02V245.59H1401.11V244.22H1402.19V243.9H1403.27V245.92H1404.36V245.36H1405.44V244.97H1406.52V245.9H1407.6V246.06H1408.69V246.15H1409.77V244.86H1410.85V246.43H1411.94V244.73H1413.02V245.66H1414.1V245.14H1415.18V244.52H1416.27V246.44H1417.35V246.61H1418.43V245.58H1419.51V246.88H1420.6V246.66H1421.68V246.17H1422.76V245.98H1423.85V249.5H1424.93V246.53H1426.01V245.75H1427.09V245.15H1428.18V248.04H1429.26V245.26H1430.34V245.66H1431.43V247.39H1432.51V247.78H1433.59V246.18H1434.67V246.94H1435.76V246.51H1436.84V245.93H1437.92V247.03H1439.01V246.61H1440.09V246.38H1441.17V246.08H1442.25V245.39H1443.34V245.48H1444.42V246.75H1445.5V247.21H1446.58V245.05H1447.67V246.54H1448.75V246.76H1449.83V248.13H1450.92V246.55H1452V247.93H1453.08V247.7H1454.16V248.51H1455.25V247.83H1456.33V247.37H1457.41V248.78H1458.5V248.29H1459.58V247.62H1460.66V248.7H1461.74V248.73H1462.83V248.41H1463.91V248.96H1464.99V247.23H1466.08V248.68H1467.16V247.18H1468.24V247.09H1469.32V248.99H1470.41V247.94H1471.49V248.43H1472.57V249.06H1473.65V248.39H1474.74V248.35H1475.82V247.57H1476.9V247.34H1477.99V249.24H1479.07V248.67H1480.15V247.89H1481.23V247.38H1482.32V250.63H1483.4V247.37H1484.48V248.67H1485.57V247.24H1486.65V248.98H1487.73V249.38H1488.81V248.65H1489.9V247.71H1490.98V248.75H1492.06V250.94H1493.15V248.26H1494.23V250.34H1495.31V249.81H1496.39V250.02H1497.48V250.68H1498.56V250.19H1499.64V249.99H1500.72V249.7H1501.81V249.24H1502.89V249.53H1503.97V250.61H1505.06V249.48H1506.14V248.51H1507.22V248.57H1508.3V249.33H1509.39V248.94H1510.47V248.74H1511.55V248.38H1512.64V248.13H1513.72V249.94H1514.8V249.94H1515.88V250.72H1516.97V248.41H1518.05V248.47H1519.13V252.01H1520.22V250.11H1521.3V252.96H1522.38V249.35H1523.46V249.99H1524.55V250.03H1525.63V250.24H1526.71V249.01H1527.79V250.47H1528.88V249.33H1529.96V249.79H1531.04V250.01H1532.13V249.96H1533.21V250.31H1534.29V251.45H1535.37V249.86H1536.46V249.9H1537.54V250.71H1538.62V249.97H1539.71V249.86H1540.79V251.88H1541.87V250.88H1542.95V251.19H1544.04V251.66H1545.12V250.58H1546.2V251.69H1547.29V251.35H1548.37V250.78H1549.45V250.73H1550.53V250.79H1551.62V249.15H1552.7V256.29H1553.78V250.98H1554.86V252.36H1555.95V250.86H1557.03V253.99H1558.11V250.29H1559.2V252H1560.28V251.72H1561.36V250.37H1562.44V251.63H1563.53V250.72H1564.61V255.73H1565.69V250.43H1566.78V250.79H1567.86V251.33H1568.94V252.53H1570.02V251.99H1571.11V262.73H1572.19V261.55H1573.27V252.06H1574.36V252.21H1575.44V251.87H1576.52V250.83H1577.6V254.01H1578.69V258.11H1579.77V253.66H1580.85V252.89H1581.93V524.35Z" fill="#a6afd7"/>
<path d="M943.08,182.15V524.35M948.5,191.42V524.35M949.58,192.94V524.35M951.75,195.16V524.35M952.83,197.17V524.35M959.32,204.48V524.35M965.82,211.53V524.35M969.07,213.72V524.35M970.15,215.41V524.35M983.15,222.59V524.35M984.23,221.81V524.35M985.31,223.33V524.35M989.64,224.78V524.35M1002.64,228.44V524.35M1009.13,228.82V524.35M1012.38,229.16V524.35M1013.46,229.16V524.35M1016.71,230.52V524.35M1019.96,229.68V524.35M1021.04,229.68V524.35M1024.29,230.75V524.35M1026.46,230.11V524.35M1028.62,230.46V524.35M1034.04,231.23V524.35M1035.12,230.75V524.35M1037.29,230.94V524.35M1038.37,231.58V524.35M1041.62,232.91V524.35M1042.7,232.14V524.35M1044.87,231.24V524.35M1060.03,232.97V524.35M1061.11,232.97V524.35M1065.44,233.16V524.35M1068.69,234.84V524.35M1071.94,232.22V524.35M1079.52,233.73V524.35M1080.6,233.73V524.35M1083.85,233.59V524.35M1087.1,232.93V524.35M1089.26,234.67V524.35M1092.51,233.75V524.35M1095.76,234.15V524.35M1099.01,232.9V524.35M1100.09,233.41V524.35M1102.25,234.32V524.35M1103.34,235.01V524.35M1106.59,235.55V524.35M1107.67,235.55V524.35M1113.08,235.3V524.35M1118.5,236.15V524.35M1119.58,236.15V524.35M1121.74,235.27V524.35M1124.99,235.33V524.35M1126.08,235.28V524.35M1131.49,235.8V524.35M1132.57,236.92V524.35M1134.74,235.69V524.35M1141.24,235.72V524.35M1142.32,236.39V524.35M1149.9,236.32V524.35M1155.31,236.71V524.35M1157.48,236.21V524.35M1158.56,236.92V524.35M1160.73,237.25V524.35M1162.89,236.55V524.35M1170.47,236.46V524.35M1172.64,237.43V524.35M1173.72,237.43V524.35M1181.3,237.47V524.35M1186.71,237.6V524.35M1189.96,237.44V524.35M1195.38,238.86V524.35M1198.62,237.76V524.35M1199.71,238.18V524.35M1200.79,238.54V524.35M1206.2,238.47V524.35M1207.29,238.47V524.35M1208.37,238V524.35M1209.45,238.82V524.35M1210.53,238.82V524.35M1213.78,238.5V524.35M1215.95,239.4V524.35M1217.03,239.4V524.35M1222.45,238.74V524.35M1223.53,239.55V524.35M1224.61,239.96V524.35M1228.94,239.15V524.35M1230.02,239.58V524.35M1245.18,240.97V524.35M1248.43,240.16V524.35M1257.09,240.21V524.35M1259.26,239.65V524.35M1267.92,242.16V524.35M1270.09,241.14V524.35M1271.17,241.25V524.35M1273.34,241.5V524.35M1274.42,241.5V524.35M1275.5,241.23V524.35M1277.67,240.66V524.35M1278.75,241.63V524.35M1280.92,241.48V524.35M1288.5,242.78V524.35M1292.83,242.14V524.35M1296.08,245.29V524.35M1297.16,245.29V524.35M1300.41,244.42V524.35M1301.49,244.42V524.35M1302.57,242.35V524.35M1311.23,243.43V524.35M1316.65,242.77V524.35M1325.31,241.73V524.35M1326.39,243.09V524.35M1332.89,242.94V524.35M1333.97,242.98V524.35M1335.06,243.05V524.35M1337.22,243.88V524.35M1338.3,243.88V524.35M1341.55,244.19V524.35M1346.97,242.77V524.35M1348.05,242.8V524.35M1349.13,242.82V524.35M1352.38,243.96V524.35M1354.55,245.37V524.35M1356.71,244.48V524.35M1372.95,244.48V524.35M1374.04,245.68V524.35M1379.45,245.53V524.35M1380.53,246V524.35M1381.62,246V524.35M1382.7,244.8V524.35M1387.03,244.33V524.35M1389.2,245.43V524.35M1392.44,245.72V524.35M1393.53,244.93V524.35M1395.69,244.34V524.35M1400.02,246.09V524.35M1404.36,246.42V524.35M1409.77,246.65V524.35M1410.85,246.93V524.35M1413.02,246.16V524.35M1416.27,246.94V524.35M1421.68,247.16V524.35M1426.01,247.03V524.35M1431.43,247.89V524.35M1437.92,247.53V524.35M1441.17,246.88V524.35M1444.42,247.25V524.35M1446.58,247.71V524.35M1447.67,247.04V524.35M1454.16,249.01V524.35M1455.25,249.01V524.35M1456.33,248.33V524.35M1462.83,249.23V524.35M1466.08,249.18V524.35M1468.24,247.68V524.35M1471.49,248.93V524.35M1477.99,249.74V524.35M1479.07,249.74V524.35M1480.15,249.17V524.35M1481.23,248.39V524.35M1484.48,249.17V524.35M1485.57,249.17V524.35M1492.06,251.44V524.35M1494.23,250.84V524.35M1497.48,251.18V524.35M1498.56,251.18V524.35M1500.72,250.49V524.35M1511.55,249.24V524.35M1516.97,251.22V524.35M1523.46,250.49V524.35M1525.63,250.74V524.35M1533.21,250.81V524.35M1536.46,250.4V524.35M1538.62,251.21V524.35M1539.71,250.47V524.35M1542.95,251.69V524.35M1546.2,252.19V524.35M1560.28,252.5V524.35M1561.36,252.22V524.35M1562.44,252.13V524.35M1563.53,252.13V524.35M1564.61,256.23V524.35M1571.11,263.23V524.35M1575.44,252.71V524.35" stroke="#fff" stroke-opacity="0.1" stroke-width="1" fill="none"/>
<path d="M942,195.45 L944.14,200.95 L946.28,206.44 L948.42,211.9 L950.56,217.35 L952.7,222.76 L954.84,228.15 L956.98,233.51 L959.12,238.83 L961.26,244.11 L963.4,249.35 L965.54,254.53 L967.68,259.66 L969.82,264.73 L971.96,269.73 L974.1,274.65 L976.24,279.5 L978.38,284.25 L980.52,288.9 L982.66,293.44 L984.81,297.87 L986.95,302.17 L989.09,306.33 L991.23,310.36 L993.37,314.23 L995.51,317.94 L997.65,321.5 L999.79,324.88 L1001.93,328.08 L1004.07,331.11 L1006.21,333.96 L1008.35,336.63 L1010.49,339.12 L1012.63,341.44 L1014.77,343.59 L1016.91,345.56 L1019.05,347.38 L1021.19,349.05 L1023.33,350.57 L1025.47,351.95 L1027.61,353.2 L1029.75,354.34 L1031.89,355.36 L1034.03,356.28 L1036.17,357.11 L1038.31,357.85 L1040.45,358.51 L1042.59,359.1 L1044.73,359.63 L1046.87,360.1 L1049.01,360.52 L1051.15,360.89 L1053.29,361.22 L1055.43,361.51 L1057.57,361.77 L1059.71,361.99 L1061.85,362.2 L1063.99,362.38 L1066.13,362.53 L1068.27,362.67 L1070.42,362.8 L1072.56,362.91 L1074.7,363 L1076.84,363.09 L1078.98,363.16 L1081.12,363.23 L1083.26,363.28 L1085.4,363.34 L1087.54,363.38 L1089.68,363.42 L1091.82,363.46 L1093.96,363.49 L1096.1,363.51 L1098.24,363.54 L1100.38,363.56 L1102.52,363.58 L1104.66,363.59 L1106.8,363.61 L1108.94,363.62 L1111.08,363.63 L1113.22,363.64 L1115.36,363.65 L1117.5,363.66 L1119.64,363.66 L1121.78,363.67 L1123.92,363.68 L1126.06,363.68 L1128.2,363.68 L1130.34,363.69 L1132.48,363.69 L1134.62,363.69 L1136.76,363.7 L1138.9,363.7 L1141.04,363.7 L1143.18,363.7 L1145.32,363.7 L1147.46,363.7 L1149.6,363.71 L1151.74,363.71 L1153.88,363.71 L1156.03,363.71 L1158.17,363.71 L1160.31,363.71 L1162.45,363.71 L1164.59,363.71 L1166.73,363.71 L1168.87,363.71 L1171.01,363.71 L1173.15,363.71 L1175.29,363.71 L1177.43,363.71 L1179.57,363.71 L1181.71,363.71 L1183.85,363.71 L1185.99,363.71 L1188.13,363.71 L1190.27,363.71 L1192.41,363.71 L1194.55,363.71 L1196.69,363.71 L1198.83,363.71 L1200.97,363.71 L1203.11,363.71 L1205.25,363.71 L1207.39,363.71 L1209.53,363.71 L1211.67,363.71 L1213.81,363.71 L1215.95,363.71 L1218.09,363.71 L1220.23,363.71 L1222.37,363.71 L1224.51,363.71 L1226.65,363.71 L1228.79,363.71 L1230.93,363.71 L1233.07,363.71 L1235.21,363.71 L1237.35,363.71 L1239.49,363.71 L1241.64,363.71 L1243.78,363.71 L1245.92,363.71 L1248.06,363.71 L1250.2,363.71 L1252.34,363.71 L1254.48,363.71 L1256.62,363.71 L1258.76,363.71 L1260.9,363.71 L1263.04,363.71 L1265.18,363.71 L1267.32,363.71 L1269.46,363.71 L1271.6,363.71 L1273.74,363.71 L1275.88,363.71 L1278.02,363.71 L1280.16,363.71 L1282.3,363.71 L1284.44,363.71 L1286.58,363.71 L1288.72,363.71 L1290.86,363.71 L1293,363.71 L1295.14,363.71 L1297.28,363.71 L1299.42,363.71 L1301.56,363.71 L1303.7,363.71 L1305.84,363.71 L1307.98,363.71 L1310.12,363.71 L1312.26,363.71 L1314.4,363.71 L1316.54,363.71 L1318.68,363.71 L1320.82,363.71 L1322.96,363.71 L1325.1,363.71 L1327.25,363.71 L1329.39,363.71 L1331.53,363.71 L1333.67,363.71 L1335.81,363.71 L1337.95,363.71 L1340.09,363.71 L1342.23,363.71 L1344.37,363.71 L1346.51,363.71 L1348.65,363.71 L1350.79,363.71 L1352.93,363.71 L1355.07,363.71 L1357.21,363.71 L1359.35,363.71 L1361.49,363.71 L1363.63,363.71 L1365.77,363.71 L1367.91,363.71 L1370.05,363.71 L1372.19,363.71 L1374.33,363.71 L1376.47,363.71 L1378.61,363.71 L1380.75,363.71 L1382.89,363.71 L1385.03,363.71 L1387.17,363.71 L1389.31,363.71 L1391.45,363.71 L1393.59,363.71 L1395.73,363.71 L1397.87,363.71 L1400.01,363.71 L1402.15,363.71 L1404.29,363.71 L1406.43,363.71 L1408.57,363.71 L1410.71,363.71 L1412.86,363.71 L1415,363.71 L1417.14,363.71 L1419.28,363.71 L1421.42,363.71 L1423.56,363.71 L1425.7,363.71 L1427.84,363.71 L1429.98,363.71 L1432.12,363.71 L1434.26,363.71 L1436.4,363.71 L1438.54,363.71 L1440.68,363.71 L1442.82,363.71 L1444.96,363.71 L1447.1,363.71 L1449.24,363.71 L1451.38,363.71 L1453.52,363.71 L1455.66,363.71 L1457.8,363.71 L1459.94,363.71 L1462.08,363.71 L1464.22,363.71 L1466.36,363.71 L1468.5,363.71 L1470.64,363.71 L1472.78,363.71 L1474.92,363.71 L1477.06,363.71 L1479.2,363.71 L1481.34,363.71 L1483.48,363.71 L1485.62,363.71 L1487.76,363.71 L1489.9,363.71 L1492.04,363.71 L1494.18,363.71 L1496.32,363.71 L1498.47,363.71 L1500.61,363.71 L1502.75,363.71 L1504.89,363.71 L1507.03,363.71 L1509.17,363.71 L1511.31,363.71 L1513.45,363.71 L1515.59,363.71 L1517.73,363.71 L1519.87,363.71 L1522.01,363.71 L1524.15,363.71 L1526.29,363.71 L1528.43,363.71 L1530.57,363.71 L1532.71,363.71 L1534.85,363.71 L1536.99,363.71 L1539.13,363.71 L1541.27,363.71 L1543.41,363.71 L1545.55,363.71 L1547.69,363.71 L1549.83,363.71 L1551.97,363.71 L1554.11,363.71 L1556.25,363.71 L1558.39,363.71 L1560.53,363.71 L1562.67,363.71 L1564.81,363.71 L1566.95,363.71 L1569.09,363.71 L1571.23,363.71 L1573.37,363.71 L1575.51,363.71 L1577.65,363.71 L1579.79,363.71 L1581.93,363.71" fill="none" stroke="#5252a0" stroke-width="4.2" stroke-linecap="square" stroke-linejoin="round" />
<path d="M942,226.16 L944.14,226.25 L946.28,226.33 L948.42,226.42 L950.56,226.5 L952.7,226.59 L954.84,226.68 L956.98,226.76 L959.12,226.85 L961.26,226.93 L963.4,227.02 L965.54,227.1 L967.68,227.19 L969.82,227.28 L971.96,227.36 L974.1,227.45 L976.24,227.53 L978.38,227.62 L980.52,227.7 L982.66,227.79 L984.81,227.88 L986.95,227.96 L989.09,228.05 L991.23,228.13 L993.37,228.22 L995.51,228.3 L997.65,228.39 L999.79,228.47 L1001.93,228.56 L1004.07,228.65 L1006.21,228.73 L1008.35,228.82 L1010.49,228.9 L1012.63,228.99 L1014.77,229.07 L1016.91,229.16 L1019.05,229.24 L1021.19,229.33 L1023.33,229.42 L1025.47,229.5 L1027.61,229.59 L1029.75,229.67 L1031.89,229.76 L1034.03,229.84 L1036.17,229.93 L1038.31,230.01 L1040.45,230.1 L1042.59,230.18 L1044.73,230.27 L1046.87,230.35 L1049.01,230.44 L1051.15,230.53 L1053.29,230.61 L1055.43,230.7 L1057.57,230.78 L1059.71,230.87 L1061.85,230.95 L1063.99,231.04 L1066.13,231.12 L1068.27,231.21 L1070.42,231.29 L1072.56,231.38 L1074.7,231.46 L1076.84,231.55 L1078.98,231.63 L1081.12,231.72 L1083.26,231.8 L1085.4,231.89 L1087.54,231.97 L1089.68,232.06 L1091.82,232.15 L1093.96,232.23 L1096.1,232.32 L1098.24,232.4 L1100.38,232.49 L1102.52,232.57 L1104.66,232.66 L1106.8,232.74 L1108.94,232.83 L1111.08,232.91 L1113.22,233 L1115.36,233.08 L1117.5,233.17 L1119.64,233.25 L1121.78,233.34 L1123.92,233.42 L1126.06,233.51 L1128.2,233.59 L1130.34,233.68 L1132.48,233.76 L1134.62,233.85 L1136.76,233.93 L1138.9,234.02 L1141.04,234.1 L1143.18,234.19 L1145.32,234.27 L1147.46,234.36 L1149.6,234.44 L1151.74,234.53 L1153.88,234.61 L1156.03,234.7 L1158.17,234.78 L1160.31,234.87 L1162.45,234.95 L1164.59,235.04 L1166.73,235.12 L1168.87,235.21 L1171.01,235.29 L1173.15,235.38 L1175.29,235.46 L1177.43,235.55 L1179.57,235.63 L1181.71,235.71 L1183.85,235.8 L1185.99,235.88 L1188.13,235.97 L1190.27,236.05 L1192.41,236.14 L1194.55,236.22 L1196.69,236.31 L1198.83,236.39 L1200.97,236.48 L1203.11,236.56 L1205.25,236.65 L1207.39,236.73 L1209.53,236.82 L1211.67,236.9 L1213.81,236.99 L1215.95,237.07 L1218.09,237.16 L1220.23,237.24 L1222.37,237.32 L1224.51,237.41 L1226.65,237.49 L1228.79,237.58 L1230.93,237.66 L1233.07,237.75 L1235.21,237.83 L1237.35,237.92 L1239.49,238 L1241.64,238.09 L1243.78,238.17 L1245.92,238.25 L1248.06,238.34 L1250.2,238.42 L1252.34,238.51 L1254.48,238.59 L1256.62,238.68 L1258.76,238.76 L1260.9,238.85 L1263.04,238.93 L1265.18,239.01 L1267.32,239.1 L1269.46,239.18 L1271.6,239.27 L1273.74,239.35 L1275.88,239.44 L1278.02,239.52 L1280.16,239.61 L1282.3,239.69 L1284.44,239.77 L1286.58,239.86 L1288.72,239.94 L1290.86,240.03 L1293,240.11 L1295.14,240.2 L1297.28,240.28 L1299.42,240.36 L1301.56,240.45 L1303.7,240.53 L1305.84,240.62 L1307.98,240.7 L1310.12,240.78 L1312.26,240.87 L1314.4,240.95 L1316.54,241.04 L1318.68,241.12 L1320.82,241.21 L1322.96,241.29 L1325.1,241.37 L1327.25,241.46 L1329.39,241.54 L1331.53,241.63 L1333.67,241.71 L1335.81,241.79 L1337.95,241.88 L1340.09,241.96 L1342.23,242.05 L1344.37,242.13 L1346.51,242.21 L1348.65,242.3 L1350.79,242.38 L1352.93,242.47 L1355.07,242.55 L1357.21,242.63 L1359.35,242.72 L1361.49,242.8 L1363.63,242.89 L1365.77,242.97 L1367.91,243.05 L1370.05,243.14 L1372.19,243.22 L1374.33,243.31 L1376.47,243.39 L1378.61,243.47 L1380.75,243.56 L1382.89,243.64 L1385.03,243.73 L1387.17,243.81 L1389.31,243.89 L1391.45,243.98 L1393.59,244.06 L1395.73,244.14 L1397.87,244.23 L1400.01,244.31 L1402.15,244.4 L1404.29,244.48 L1406.43,244.56 L1408.57,244.65 L1410.71,244.73 L1412.86,244.81 L1415,244.9 L1417.14,244.98 L1419.28,245.06 L1421.42,245.15 L1423.56,245.23 L1425.7,245.32 L1427.84,245.4 L1429.98,245.48 L1432.12,245.57 L1434.26,245.65 L1436.4,245.73 L1438.54,245.82 L1440.68,245.9 L1442.82,245.98 L1444.96,246.07 L1447.1,246.15 L1449.24,246.23 L1451.38,246.32 L1453.52,246.4 L1455.66,246.48 L1457.8,246.57 L1459.94,246.65 L1462.08,246.73 L1464.22,246.82 L1466.36,246.9 L1468.5,246.98 L1470.64,247.07 L1472.78,247.15 L1474.92,247.23 L1477.06,247.32 L1479.2,247.4 L1481.34,247.48 L1483.48,247.57 L1485.62,247.65 L1487.76,247.73 L1489.9,247.82 L1492.04,247.9 L1494.18,247.98 L1496.32,248.07 L1498.47,248.15 L1500.61,248.23 L1502.75,248.32 L1504.89,248.4 L1507.03,248.48 L1509.17,248.57 L1511.31,248.65 L1513.45,248.73 L1515.59,248.82 L1517.73,248.9 L1519.87,248.98 L1522.01,249.06 L1524.15,249.15 L1526.29,249.23 L1528.43,249.31 L1530.57,249.4 L1532.71,249.48 L1534.85,249.56 L1536.99,249.65 L1539.13,249.73 L1541.27,249.81 L1543.41,249.89 L1545.55,249.98 L1547.69,250.06 L1549.83,250.14 L1551.97,250.23 L1554.11,250.31 L1556.25,250.39 L1558.39,250.47 L1560.53,250.56 L1562.67,250.64 L1564.81,250.72 L1566.95,250.81 L1569.09,250.89 L1571.23,250.97 L1573.37,251.05 L1575.51,251.14 L1577.65,251.22 L1579.79,251.3 L1581.93,251.39" fill="none" stroke="#38366c" stroke-width="4.2" stroke-linecap="square" stroke-linejoin="round" />
<path d="M942,178.2 L944.14,181.88 L946.28,185.4 L948.42,188.75 L950.56,191.93 L952.7,194.94 L954.84,197.78 L956.98,200.44 L959.12,202.93 L961.26,205.25 L963.4,207.41 L965.54,209.4 L967.68,211.24 L969.82,212.94 L971.96,214.49 L974.1,215.91 L976.24,217.21 L978.38,218.4 L980.52,219.48 L982.66,220.46 L984.81,221.35 L986.95,222.15 L989.09,222.89 L991.23,223.55 L993.37,224.15 L995.51,224.7 L997.65,225.19 L999.79,225.64 L1001.93,226.05 L1004.07,226.43 L1006.21,226.77 L1008.35,227.08 L1010.49,227.37 L1012.63,227.63 L1014.77,227.88 L1016.91,228.1 L1019.05,228.31 L1021.19,228.5 L1023.33,228.69 L1025.47,228.86 L1027.61,229.02 L1029.75,229.17 L1031.89,229.31 L1034.03,229.45 L1036.17,229.58 L1038.31,229.71 L1040.45,229.83 L1042.59,229.95 L1044.73,230.06 L1046.87,230.17 L1049.01,230.28 L1051.15,230.38 L1053.29,230.48 L1055.43,230.58 L1057.57,230.68 L1059.71,230.78 L1061.85,230.88 L1063.99,230.97 L1066.13,231.06 L1068.27,231.16 L1070.42,231.25 L1072.56,231.34 L1074.7,231.43 L1076.84,231.52 L1078.98,231.61 L1081.12,231.69 L1083.26,231.78 L1085.4,231.87 L1087.54,231.96 L1089.68,232.05 L1091.82,232.13 L1093.96,232.22 L1096.1,232.31 L1098.24,232.39 L1100.38,232.48 L1102.52,232.56 L1104.66,232.65 L1106.8,232.74 L1108.94,232.82 L1111.08,232.91 L1113.22,232.99 L1115.36,233.08 L1117.5,233.16 L1119.64,233.25 L1121.78,233.33 L1123.92,233.42 L1126.06,233.51 L1128.2,233.59 L1130.34,233.68 L1132.48,233.76 L1134.62,233.85 L1136.76,233.93 L1138.9,234.02 L1141.04,234.1 L1143.18,234.19 L1145.32,234.27 L1147.46,234.36 L1149.6,234.44 L1151.74,234.53 L1153.88,234.61 L1156.03,234.7 L1158.17,234.78 L1160.31,234.87 L1162.45,234.95 L1164.59,235.04 L1166.73,235.12 L1168.87,235.21 L1171.01,235.29 L1173.15,235.38 L1175.29,235.46 L1177.43,235.55 L1179.57,235.63 L1181.71,235.71 L1183.85,235.8 L1185.99,235.88 L1188.13,235.97 L1190.27,236.05 L1192.41,236.14 L1194.55,236.22 L1196.69,236.31 L1198.83,236.39 L1200.97,236.48 L1203.11,236.56 L1205.25,236.65 L1207.39,236.73 L1209.53,236.82 L1211.67,236.9 L1213.81,236.99 L1215.95,237.07 L1218.09,237.16 L1220.23,237.24 L1222.37,237.32 L1224.51,237.41 L1226.65,237.49 L1228.79,237.58 L1230.93,237.66 L1233.07,237.75 L1235.21,237.83 L1237.35,237.92 L1239.49,238 L1241.64,238.09 L1243.78,238.17 L1245.92,238.25 L1248.06,238.34 L1250.2,238.42 L1252.34,238.51 L1254.48,238.59 L1256.62,238.68 L1258.76,238.76 L1260.9,238.85 L1263.04,238.93 L1265.18,239.01 L1267.32,239.1 L1269.46,239.18 L1271.6,239.27 L1273.74,239.35 L1275.88,239.44 L1278.02,239.52 L1280.16,239.61 L1282.3,239.69 L1284.44,239.77 L1286.58,239.86 L1288.72,239.94 L1290.86,240.03 L1293,240.11 L1295.14,240.2 L1297.28,240.28 L1299.42,240.36 L1301.56,240.45 L1303.7,240.53 L1305.84,240.62 L1307.98,240.7 L1310.12,240.78 L1312.26,240.87 L1314.4,240.95 L1316.54,241.04 L1318.68,241.12 L1320.82,241.21 L1322.96,241.29 L1325.1,241.37 L1327.25,241.46 L1329.39,241.54 L1331.53,241.63 L1333.67,241.71 L1335.81,241.79 L1337.95,241.88 L1340.09,241.96 L1342.23,242.05 L1344.37,242.13 L1346.51,242.21 L1348.65,242.3 L1350.79,242.38 L1352.93,242.47 L1355.07,242.55 L1357.21,242.63 L1359.35,242.72 L1361.49,242.8 L1363.63,242.89 L1365.77,242.97 L1367.91,243.05 L1370.05,243.14 L1372.19,243.22 L1374.33,243.31 L1376.47,243.39 L1378.61,243.47 L1380.75,243.56 L1382.89,243.64 L1385.03,243.73 L1387.17,243.81 L1389.31,243.89 L1391.45,243.98 L1393.59,244.06 L1395.73,244.14 L1397.87,244.23 L1400.01,244.31 L1402.15,244.4 L1404.29,244.48 L1406.43,244.56 L1408.57,244.65 L1410.71,244.73 L1412.86,244.81 L1415,244.9 L1417.14,244.98 L1419.28,245.06 L1421.42,245.15 L1423.56,245.23 L1425.7,245.32 L1427.84,245.4 L1429.98,245.48 L1432.12,245.57 L1434.26,245.65 L1436.4,245.73 L1438.54,245.82 L1440.68,245.9 L1442.82,245.98 L1444.96,246.07 L1447.1,246.15 L1449.24,246.23 L1451.38,246.32 L1453.52,246.4 L1455.66,246.48 L1457.8,246.57 L1459.94,246.65 L1462.08,246.73 L1464.22,246.82 L1466.36,246.9 L1468.5,246.98 L1470.64,247.07 L1472.78,247.15 L1474.92,247.23 L1477.06,247.32 L1479.2,247.4 L1481.34,247.48 L1483.48,247.57 L1485.62,247.65 L1487.76,247.73 L1489.9,247.82 L1492.04,247.9 L1494.18,247.98 L1496.32,248.07 L1498.47,248.15 L1500.61,248.23 L1502.75,248.32 L1504.89,248.4 L1507.03,248.48 L1509.17,248.57 L1511.31,248.65 L1513.45,248.73 L1515.59,248.82 L1517.73,248.9 L1519.87,248.98 L1522.01,249.06 L1524.15,249.15 L1526.29,249.23 L1528.43,249.31 L1530.57,249.4 L1532.71,249.48 L1534.85,249.56 L1536.99,249.65 L1539.13,249.73 L1541.27,249.81 L1543.41,249.89 L1545.55,249.98 L1547.69,250.06 L1549.83,250.14 L1551.97,250.23 L1554.11,250.31 L1556.25,250.39 L1558.39,250.47 L1560.53,250.56 L1562.67,250.64 L1564.81,250.72 L1566.95,250.81 L1569.09,250.89 L1571.23,250.97 L1573.37,251.05 L1575.51,251.14 L1577.65,251.22 L1579.79,251.3 L1581.93,251.39" fill="none" stroke="#c4603e" stroke-width="4.2" stroke-linecap="square" stroke-linejoin="round" />
<path d="M993.43,224.53 L996.39,225.26 L999.35,225.91 L1002.3,226.48 L1005.26,226.98 L1008.22,227.42 L1011.18,227.81 L1014.13,228.16 L1017.09,228.47 L1020.05,228.76 L1023.01,229.01 L1025.96,229.25 L1028.92,229.47 L1031.88,229.67 L1034.84,229.86 L1037.79,230.03 L1040.75,230.2 L1043.71,230.36 L1046.66,230.51 L1049.62,230.66 L1052.58,230.81 L1055.54,230.94 L1058.49,231.08 L1061.45,231.21 L1064.41,231.34 L1067.37,231.47 L1070.32,231.6 L1073.28,231.72 L1076.24,231.85 L1079.19,231.97 L1082.15,232.09 L1085.11,232.21 L1088.07,232.33 L1091.02,232.46 L1093.98,232.57 L1096.94,232.69 L1099.9,232.81 L1102.85,232.93 L1105.81,233.05 L1108.77,233.17 L1111.72,233.29 L1114.68,233.41 L1117.64,233.52 L1120.6,233.64 L1123.55,233.76 L1126.51,233.88 L1129.47,234 L1132.43,234.11 L1135.38,234.23 L1138.34,234.35 L1141.3,234.47 L1144.26,234.58 L1147.21,234.7 L1150.17,234.82 L1153.13,234.94 L1156.08,235.05 L1159.04,235.17 L1162,235.29 L1164.96,235.41 L1167.91,235.52 L1170.87,235.64 L1173.83,235.76 L1176.79,235.87 L1179.74,235.99 L1182.7,236.11 L1185.66,236.23 L1188.61,236.34 L1191.57,236.46 L1194.53,236.58 L1197.49,236.69 L1200.44,236.81 L1203.4,236.93 L1206.36,237.05 L1209.32,237.16 L1212.27,237.28 L1215.23,237.4 L1218.19,237.51 L1221.14,237.63 L1224.1,237.75 L1227.06,237.86 L1230.02,237.98 L1232.97,238.1 L1235.93,238.22 L1238.89,238.33 L1241.85,238.45 L1244.8,238.57 L1247.76,238.68 L1250.72,238.8 L1253.68,238.92 L1256.63,239.03 L1259.59,239.15 L1262.55,239.27 L1265.5,239.38 L1268.46,239.5 L1271.42,239.62 L1274.38,239.73 L1277.33,239.85 L1280.29,239.97 L1283.25,240.08 L1286.21,240.2 L1289.16,240.32 L1292.12,240.43 L1295.08,240.55 L1298.03,240.66 L1300.99,240.78 L1303.95,240.9 L1306.91,241.01 L1309.86,241.13 L1312.82,241.25 L1315.78,241.36 L1318.74,241.48 L1321.69,241.6 L1324.65,241.71 L1327.61,241.83 L1330.56,241.94 L1333.52,242.06 L1336.48,242.18 L1339.44,242.29 L1342.39,242.41 L1345.35,242.52 L1348.31,242.64 L1351.27,242.76 L1354.22,242.87 L1357.18,242.99 L1360.14,243.1 L1363.09,243.22 L1366.05,243.34 L1369.01,243.45 L1371.97,243.57 L1374.92,243.68 L1377.88,243.8 L1380.84,243.92 L1383.8,244.03 L1386.75,244.15 L1389.71,244.26 L1392.67,244.38 L1395.63,244.49 L1398.58,244.61 L1401.54,244.73 L1404.5,244.84 L1407.45,244.96 L1410.41,245.07 L1413.37,245.19 L1416.33,245.3 L1419.28,245.42 L1422.24,245.54 L1425.2,245.65 L1428.16,245.77 L1431.11,245.88 L1434.07,246 L1437.03,246.11 L1439.98,246.23 L1442.94,246.34 L1445.9,246.46 L1448.86,246.57 L1451.81,246.69 L1454.77,246.81 L1457.73,246.92 L1460.69,247.04 L1463.64,247.15 L1466.6,247.27 L1469.56,247.38 L1472.51,247.5 L1475.47,247.61 L1478.43,247.73 L1481.39,247.84 L1484.34,247.96 L1487.3,248.07 L1490.26,248.19 L1493.22,248.3 L1496.17,248.42 L1499.13,248.53 L1502.09,248.65 L1505.05,248.76 L1508,248.88 L1510.96,248.99 L1513.92,249.11 L1516.87,249.22 L1519.83,249.34 L1522.79,249.45 L1525.75,249.57 L1528.7,249.68 L1531.66,249.79 L1534.62,249.91 L1537.58,250.02 L1540.53,250.14 L1543.49,250.25 L1546.45,250.37 L1549.4,250.48 L1552.36,250.6 L1555.32,250.71 L1558.28,250.83 L1561.23,250.94 L1564.19,251.05 L1567.15,251.17 L1570.11,251.28 L1573.06,251.4 L1576.02,251.51 L1578.98,251.63 L1581.93,251.74" fill="none" stroke="#a63232" stroke-width="5.4" stroke-linecap="square" stroke-linejoin="round" />
<path d="M942,195.45 L944.14,200.95 L946.28,206.44 L948.42,211.9 L950.56,217.35 L952.7,222.76 L954.84,228.15 L956.98,233.51 L959.12,238.83 L961.26,244.11 L963.4,249.35 L965.54,254.53 L967.68,259.66 L969.82,264.73 L971.96,269.73 L974.1,274.65 L976.24,279.5 L978.38,284.25 L980.52,288.9 L982.66,293.44 L984.81,297.87 L986.95,302.17 L989.09,306.33 L991.23,310.36 L993.37,314.23 L995.51,317.94 L997.65,321.5 L999.79,324.88 L1001.93,328.08 L1004.07,331.11 L1006.21,333.96 L1008.35,336.63 L1010.49,339.12 L1012.63,341.44 L1014.77,343.59 L1016.91,345.56 L1019.05,347.38 L1021.19,349.05 L1023.33,350.57 L1025.47,351.95 L1027.61,353.2 L1029.75,354.34 L1031.89,355.36 L1034.03,356.28 L1036.17,357.11 L1038.31,357.85 L1040.45,358.51 L1042.59,359.1 L1044.73,359.63 L1046.87,360.1 L1049.01,360.52 L1051.15,360.89 L1053.29,361.22 L1055.43,361.51 L1057.57,361.77 L1059.71,361.99 L1061.85,362.2 L1063.99,362.38 L1066.13,362.53 L1068.27,362.67 L1070.42,362.8 L1072.56,362.91 L1074.7,363 L1076.84,363.09 L1078.98,363.16 L1081.12,363.23 L1083.26,363.28 L1085.4,363.34 L1087.54,363.38 L1089.68,363.42 L1091.82,363.46 L1093.96,363.49 L1096.1,363.51 L1098.24,363.54 L1100.38,363.56 L1102.52,363.58 L1104.66,363.59 L1106.8,363.61 L1108.94,363.62 L1111.08,363.63 L1113.22,363.64 L1115.36,363.65 L1117.5,363.66 L1119.64,363.66 L1121.78,363.67 L1123.92,363.68 L1126.06,363.68 L1128.2,363.68 L1130.34,363.69 L1132.48,363.69 L1134.62,363.69 L1136.76,363.7 L1138.9,363.7 L1141.04,363.7 L1143.18,363.7 L1145.32,363.7 L1147.46,363.7 L1149.6,363.71 L1151.74,363.71 L1153.88,363.71 L1156.03,363.71 L1158.17,363.71 L1160.31,363.71 L1162.45,363.71 L1164.59,363.71 L1166.73,363.71 L1168.87,363.71 L1171.01,363.71 L1173.15,363.71 L1175.29,363.71 L1177.43,363.71 L1179.57,363.71 L1181.71,363.71 L1183.85,363.71 L1185.99,363.71 L1188.13,363.71 L1190.27,363.71 L1192.41,363.71 L1194.55,363.71 L1196.69,363.71 L1198.83,363.71 L1200.97,363.71 L1203.11,363.71 L1205.25,363.71 L1207.39,363.71 L1209.53,363.71 L1211.67,363.71 L1213.81,363.71 L1215.95,363.71 L1218.09,363.71 L1220.23,363.71 L1222.37,363.71 L1224.51,363.71 L1226.65,363.71 L1228.79,363.71 L1230.93,363.71 L1233.07,363.71 L1235.21,363.71 L1237.35,363.71 L1239.49,363.71 L1241.64,363.71 L1243.78,363.71 L1245.92,363.71 L1248.06,363.71 L1250.2,363.71 L1252.34,363.71 L1254.48,363.71 L1256.62,363.71 L1258.76,363.71 L1260.9,363.71 L1263.04,363.71 L1265.18,363.71 L1267.32,363.71 L1269.46,363.71 L1271.6,363.71 L1273.74,363.71 L1275.88,363.71 L1278.02,363.71 L1280.16,363.71 L1282.3,363.71 L1284.44,363.71 L1286.58,363.71 L1288.72,363.71 L1290.86,363.71 L1293,363.71 L1295.14,363.71 L1297.28,363.71 L1299.42,363.71 L1301.56,363.71 L1303.7,363.71 L1305.84,363.71 L1307.98,363.71 L1310.12,363.71 L1312.26,363.71 L1314.4,363.71 L1316.54,363.71 L1318.68,363.71 L1320.82,363.71 L1322.96,363.71 L1325.1,363.71 L1327.25,363.71 L1329.39,363.71 L1331.53,363.71 L1333.67,363.71 L1335.81,363.71 L1337.95,363.71 L1340.09,363.71 L1342.23,363.71 L1344.37,363.71 L1346.51,363.71 L1348.65,363.71 L1350.79,363.71 L1352.93,363.71 L1355.07,363.71 L1357.21,363.71 L1359.35,363.71 L1361.49,363.71 L1363.63,363.71 L1365.77,363.71 L1367.91,363.71 L1370.05,363.71 L1372.19,363.71 L1374.33,363.71 L1376.47,363.71 L1378.61,363.71 L1380.75,363.71 L1382.89,363.71 L1385.03,363.71 L1387.17,363.71 L1389.31,363.71 L1391.45,363.71 L1393.59,363.71 L1395.73,363.71 L1397.87,363.71 L1400.01,363.71 L1402.15,363.71 L1404.29,363.71 L1406.43,363.71 L1408.57,363.71 L1410.71,363.71 L1412.86,363.71 L1415,363.71 L1417.14,363.71 L1419.28,363.71 L1421.42,363.71 L1423.56,363.71 L1425.7,363.71 L1427.84,363.71 L1429.98,363.71 L1432.12,363.71 L1434.26,363.71 L1436.4,363.71 L1438.54,363.71 L1440.68,363.71 L1442.82,363.71 L1444.96,363.71 L1447.1,363.71 L1449.24,363.71 L1451.38,363.71 L1453.52,363.71 L1455.66,363.71 L1457.8,363.71 L1459.94,363.71 L1462.08,363.71 L1464.22,363.71 L1466.36,363.71 L1468.5,363.71 L1470.64,363.71 L1472.78,363.71 L1474.92,363.71 L1477.06,363.71 L1479.2,363.71 L1481.34,363.71 L1483.48,363.71 L1485.62,363.71 L1487.76,363.71 L1489.9,363.71 L1492.04,363.71 L1494.18,363.71 L1496.32,363.71 L1498.47,363.71 L1500.61,363.71 L1502.75,363.71 L1504.89,363.71 L1507.03,363.71 L1509.17,363.71 L1511.31,363.71 L1513.45,363.71 L1515.59,363.71 L1517.73,363.71 L1519.87,363.71 L1522.01,363.71 L1524.15,363.71 L1526.29,363.71 L1528.43,363.71 L1530.57,363.71 L1532.71,363.71 L1534.85,363.71 L1536.99,363.71 L1539.13,363.71 L1541.27,363.71 L1543.41,363.71 L1545.55,363.71 L1547.69,363.71 L1549.83,363.71 L1551.97,363.71 L1554.11,363.71 L1556.25,363.71 L1558.39,363.71 L1560.53,363.71 L1562.67,363.71 L1564.81,363.71 L1566.95,363.71 L1569.09,363.71 L1571.23,363.71 L1573.37,363.71 L1575.51,363.71 L1577.65,363.71 L1579.79,363.71 L1581.93,363.71" fill="none" stroke="#0000ff" stroke-width="4.4" stroke-dasharray="14.8 6.4" stroke-linejoin="round" />
<path d="M942,226.16 L943.28,226.21 L944.55,226.26 L945.83,226.32 L947.11,226.37 L948.39,226.42 L949.66,226.47 L950.94,226.52 L952.22,226.57 L953.49,226.62 L954.77,226.67 L956.05,226.72 L957.33,226.78 L958.6,226.83 L959.88,226.88 L961.16,226.93 L962.43,226.98 L963.71,227.03 L964.99,227.08 L966.27,227.13 L967.54,227.18 L968.82,227.24 L970.1,227.29 L971.37,227.34 L972.65,227.39 L973.93,227.44 L975.21,227.49 L976.48,227.54 L977.76,227.59 L979.04,227.64 L980.31,227.7 L981.59,227.75 L982.87,227.8 L984.15,227.85 L985.42,227.9 L986.7,227.95 L987.98,228 L989.25,228.05 L990.53,228.1 L991.81,228.16" fill="none" stroke="#000080" stroke-width="4.4" stroke-dasharray="14.8 6.4" stroke-linejoin="round" />
<path d="M942,178.2 L944.14,181.88 L946.28,185.4 L948.42,188.75 L950.56,191.93 L952.7,194.94 L954.84,197.78 L956.98,200.44 L959.12,202.93 L961.26,205.25 L963.4,207.41 L965.54,209.4 L967.68,211.24 L969.82,212.94 L971.96,214.49 L974.1,215.91 L976.24,217.21 L978.38,218.4 L980.52,219.48 L982.66,220.46 L984.81,221.35 L986.95,222.15 L989.09,222.89 L991.23,223.55 L993.37,224.15 L995.51,224.7 L997.65,225.19 L999.79,225.64 L1001.93,226.05 L1004.07,226.43 L1006.21,226.77 L1008.35,227.08 L1010.49,227.37 L1012.63,227.63 L1014.77,227.88 L1016.91,228.1 L1019.05,228.31 L1021.19,228.5 L1023.33,228.69 L1025.47,228.86 L1027.61,229.02 L1029.75,229.17 L1031.89,229.31 L1034.03,229.45 L1036.17,229.58 L1038.31,229.71 L1040.45,229.83 L1042.59,229.95 L1044.73,230.06 L1046.87,230.17 L1049.01,230.28 L1051.15,230.38 L1053.29,230.48 L1055.43,230.58 L1057.57,230.68 L1059.71,230.78 L1061.85,230.88 L1063.99,230.97 L1066.13,231.06 L1068.27,231.16 L1070.42,231.25 L1072.56,231.34 L1074.7,231.43 L1076.84,231.52 L1078.98,231.61 L1081.12,231.69 L1083.26,231.78 L1085.4,231.87 L1087.54,231.96 L1089.68,232.05 L1091.82,232.13 L1093.96,232.22 L1096.1,232.31 L1098.24,232.39 L1100.38,232.48 L1102.52,232.56 L1104.66,232.65 L1106.8,232.74 L1108.94,232.82 L1111.08,232.91 L1113.22,232.99 L1115.36,233.08 L1117.5,233.16 L1119.64,233.25 L1121.78,233.33 L1123.92,233.42 L1126.06,233.51 L1128.2,233.59 L1130.34,233.68 L1132.48,233.76 L1134.62,233.85 L1136.76,233.93 L1138.9,234.02 L1141.04,234.1 L1143.18,234.19 L1145.32,234.27 L1147.46,234.36 L1149.6,234.44 L1151.74,234.53 L1153.88,234.61 L1156.03,234.7 L1158.17,234.78 L1160.31,234.87 L1162.45,234.95 L1164.59,235.04 L1166.73,235.12 L1168.87,235.21 L1171.01,235.29 L1173.15,235.38 L1175.29,235.46 L1177.43,235.55 L1179.57,235.63 L1181.71,235.71 L1183.85,235.8 L1185.99,235.88 L1188.13,235.97 L1190.27,236.05 L1192.41,236.14 L1194.55,236.22 L1196.69,236.31 L1198.83,236.39 L1200.97,236.48 L1203.11,236.56 L1205.25,236.65 L1207.39,236.73 L1209.53,236.82 L1211.67,236.9 L1213.81,236.99 L1215.95,237.07 L1218.09,237.16 L1220.23,237.24 L1222.37,237.32 L1224.51,237.41 L1226.65,237.49 L1228.79,237.58 L1230.93,237.66 L1233.07,237.75 L1235.21,237.83 L1237.35,237.92 L1239.49,238 L1241.64,238.09 L1243.78,238.17 L1245.92,238.25 L1248.06,238.34 L1250.2,238.42 L1252.34,238.51 L1254.48,238.59 L1256.62,238.68 L1258.76,238.76 L1260.9,238.85 L1263.04,238.93 L1265.18,239.01 L1267.32,239.1 L1269.46,239.18 L1271.6,239.27 L1273.74,239.35 L1275.88,239.44 L1278.02,239.52 L1280.16,239.61 L1282.3,239.69 L1284.44,239.77 L1286.58,239.86 L1288.72,239.94 L1290.86,240.03 L1293,240.11 L1295.14,240.2 L1297.28,240.28 L1299.42,240.36 L1301.56,240.45 L1303.7,240.53 L1305.84,240.62 L1307.98,240.7 L1310.12,240.78 L1312.26,240.87 L1314.4,240.95 L1316.54,241.04 L1318.68,241.12 L1320.82,241.21 L1322.96,241.29 L1325.1,241.37 L1327.25,241.46 L1329.39,241.54 L1331.53,241.63 L1333.67,241.71 L1335.81,241.79 L1337.95,241.88 L1340.09,241.96 L1342.23,242.05 L1344.37,242.13 L1346.51,242.21 L1348.65,242.3 L1350.79,242.38 L1352.93,242.47 L1355.07,242.55 L1357.21,242.63 L1359.35,242.72 L1361.49,242.8 L1363.63,242.89 L1365.77,242.97 L1367.91,243.05 L1370.05,243.14 L1372.19,243.22 L1374.33,243.31 L1376.47,243.39 L1378.61,243.47 L1380.75,243.56 L1382.89,243.64 L1385.03,243.73 L1387.17,243.81 L1389.31,243.89 L1391.45,243.98 L1393.59,244.06 L1395.73,244.14 L1397.87,244.23 L1400.01,244.31 L1402.15,244.4 L1404.29,244.48 L1406.43,244.56 L1408.57,244.65 L1410.71,244.73 L1412.86,244.81 L1415,244.9 L1417.14,244.98 L1419.28,245.06 L1421.42,245.15 L1423.56,245.23 L1425.7,245.32 L1427.84,245.4 L1429.98,245.48 L1432.12,245.57 L1434.26,245.65 L1436.4,245.73 L1438.54,245.82 L1440.68,245.9 L1442.82,245.98 L1444.96,246.07 L1447.1,246.15 L1449.24,246.23 L1451.38,246.32 L1453.52,246.4 L1455.66,246.48 L1457.8,246.57 L1459.94,246.65 L1462.08,246.73 L1464.22,246.82 L1466.36,246.9 L1468.5,246.98 L1470.64,247.07 L1472.78,247.15 L1474.92,247.23 L1477.06,247.32 L1479.2,247.4 L1481.34,247.48 L1483.48,247.57 L1485.62,247.65 L1487.76,247.73 L1489.9,247.82 L1492.04,247.9 L1494.18,247.98 L1496.32,248.07 L1498.47,248.15 L1500.61,248.23 L1502.75,248.32 L1504.89,248.4 L1507.03,248.48 L1509.17,248.57 L1511.31,248.65 L1513.45,248.73 L1515.59,248.82 L1517.73,248.9 L1519.87,248.98 L1522.01,249.06 L1524.15,249.15 L1526.29,249.23 L1528.43,249.31 L1530.57,249.4 L1532.71,249.48 L1534.85,249.56 L1536.99,249.65 L1539.13,249.73 L1541.27,249.81 L1543.41,249.89 L1545.55,249.98 L1547.69,250.06 L1549.83,250.14 L1551.97,250.23 L1554.11,250.31 L1556.25,250.39 L1558.39,250.47 L1560.53,250.56 L1562.67,250.64 L1564.81,250.72 L1566.95,250.81 L1569.09,250.89 L1571.23,250.97 L1573.37,251.05 L1575.51,251.14 L1577.65,251.22 L1579.79,251.3 L1581.93,251.39" fill="none" stroke="#ff0000" stroke-width="4.4" stroke-dasharray="14.8 6.4" stroke-linejoin="round" />
<rect x="925.7" y="15.2" width="666" height="509.15" fill="none" stroke="#000" stroke-width="1.1"/>
<path d="M925.7,524.35h-4M1591.7,524.35h4M925.7,422.52h-4M1591.7,422.52h4M925.7,320.69h-4M1591.7,320.69h4M925.7,218.86h-4M1591.7,218.86h4M925.7,117.03h-4M1591.7,117.03h4M925.7,15.2h-4M1591.7,15.2h4" stroke="#000" stroke-width="0.95" fill="none"/>
<path d="M925.7,493.7h-2.3M1591.7,493.7h2.3M925.7,475.76h-2.3M1591.7,475.76h2.3M925.7,463.04h-2.3M1591.7,463.04h2.3M925.7,453.17h-2.3M1591.7,453.17h2.3M925.7,445.11h-2.3M1591.7,445.11h2.3M925.7,438.29h-2.3M1591.7,438.29h2.3M925.7,432.39h-2.3M1591.7,432.39h2.3M925.7,427.18h-2.3M1591.7,427.18h2.3M925.7,391.87h-2.3M1591.7,391.87h2.3M925.7,373.93h-2.3M1591.7,373.93h2.3M925.7,361.21h-2.3M1591.7,361.21h2.3M925.7,351.34h-2.3M1591.7,351.34h2.3M925.7,343.28h-2.3M1591.7,343.28h2.3M925.7,336.46h-2.3M1591.7,336.46h2.3M925.7,330.56h-2.3M1591.7,330.56h2.3M925.7,325.35h-2.3M1591.7,325.35h2.3M925.7,290.04h-2.3M1591.7,290.04h2.3M925.7,272.1h-2.3M1591.7,272.1h2.3M925.7,259.38h-2.3M1591.7,259.38h2.3M925.7,249.51h-2.3M1591.7,249.51h2.3M925.7,241.45h-2.3M1591.7,241.45h2.3M925.7,234.63h-2.3M1591.7,234.63h2.3M925.7,228.73h-2.3M1591.7,228.73h2.3M925.7,223.52h-2.3M1591.7,223.52h2.3M925.7,188.21h-2.3M1591.7,188.21h2.3M925.7,170.27h-2.3M1591.7,170.27h2.3M925.7,157.55h-2.3M1591.7,157.55h2.3M925.7,147.68h-2.3M1591.7,147.68h2.3M925.7,139.62h-2.3M1591.7,139.62h2.3M925.7,132.8h-2.3M1591.7,132.8h2.3M925.7,126.9h-2.3M1591.7,126.9h2.3M925.7,121.69h-2.3M1591.7,121.69h2.3M925.7,86.38h-2.3M1591.7,86.38h2.3M925.7,68.44h-2.3M1591.7,68.44h2.3M925.7,55.72h-2.3M1591.7,55.72h2.3M925.7,45.85h-2.3M1591.7,45.85h2.3M925.7,37.79h-2.3M1591.7,37.79h2.3M925.7,30.97h-2.3M1591.7,30.97h2.3M925.7,25.07h-2.3M1591.7,25.07h2.3M925.7,19.86h-2.3M1591.7,19.86h2.3" stroke="#000" stroke-width="0.85" fill="none"/>
<path d="M942,524.35v4M1050.28,524.35v4M1158.56,524.35v4M1266.84,524.35v4M1375.12,524.35v4M1483.4,524.35v4" stroke="#000" stroke-width="0.95" fill="none"/>
<text x="942.2" y="553.85" text-anchor="middle" font-size="28.5">0</text>
<text x="1050.48" y="553.85" text-anchor="middle" font-size="28.5">200</text>
<text x="1158.76" y="553.85" text-anchor="middle" font-size="28.5">400</text>
<text x="1267.04" y="553.85" text-anchor="middle" font-size="28.5">600</text>
<text x="1375.32" y="553.85" text-anchor="middle" font-size="28.5">800</text>
<text x="1483.6" y="553.85" text-anchor="middle" font-size="28.5">1000</text>
<text x="916.2" y="534.05" text-anchor="end" font-size="27.7">10<tspan dx="0.5" dy="-10.4" font-size="19.8">0</tspan></text>
<text x="1599.1" y="534.05" text-anchor="start" font-size="27.7">10<tspan dx="0.5" dy="-10.4" font-size="19.8">0</tspan></text>
<text x="916.2" y="432.22" text-anchor="end" font-size="27.7">10<tspan dx="0.5" dy="-10.4" font-size="19.8">1</tspan></text>
<text x="1599.1" y="432.22" text-anchor="start" font-size="27.7">10<tspan dx="0.5" dy="-10.4" font-size="19.8">1</tspan></text>
<text x="916.2" y="330.39" text-anchor="end" font-size="27.7">10<tspan dx="0.5" dy="-10.4" font-size="19.8">2</tspan></text>
<text x="1599.1" y="330.39" text-anchor="start" font-size="27.7">10<tspan dx="0.5" dy="-10.4" font-size="19.8">2</tspan></text>
<text x="916.2" y="228.56" text-anchor="end" font-size="27.7">10<tspan dx="0.5" dy="-10.4" font-size="19.8">3</tspan></text>
<text x="1599.1" y="228.56" text-anchor="start" font-size="27.7">10<tspan dx="0.5" dy="-10.4" font-size="19.8">3</tspan></text>
<text x="916.2" y="126.73" text-anchor="end" font-size="27.7">10<tspan dx="0.5" dy="-10.4" font-size="19.8">4</tspan></text>
<text x="1599.1" y="126.73" text-anchor="start" font-size="27.7">10<tspan dx="0.5" dy="-10.4" font-size="19.8">4</tspan></text>
<text x="916.2" y="24.9" text-anchor="end" font-size="27.7">10<tspan dx="0.5" dy="-10.4" font-size="19.8">5</tspan></text>
<text x="1599.1" y="24.9" text-anchor="start" font-size="27.7">10<tspan dx="0.5" dy="-10.4" font-size="19.8">5</tspan></text>
<text x="939.2" y="47.8" class="t" font-size="32.4" xml:space="preserve">HDPE (210 mm)</text>
<text x="949.4" y="84.2" class="t" font-size="32.4" xml:space="preserve">(b)</text>
<rect x="1229.5" y="25.1" width="352.1" height="124.4" rx="4" ry="4" fill="#fff" fill-opacity="0.8" stroke="#d6d6d6" stroke-width="1"/>
<rect x="1238.2" y="34.6" width="40.2" height="14.4" fill="#a6afd7"/>
<text class="g" x="1294.8" y="49.2" font-size="20.2">PET Data</text>
<path d="M1238.2,71.75h40" stroke="#0000ff" stroke-width="4.4" stroke-linecap="square" fill="none"/>
<text class="g" x="1294.8" y="78.85" font-size="20.2">C10</text>
<path d="M1427.3,71.75h40" stroke="#0000ff" stroke-width="4.4" stroke-dasharray="14.8 6.4" fill="none"/>
<text class="g" x="1483.9" y="78.85" font-size="20.2">C10 Sim</text>
<path d="M1238.2,101.4h40" stroke="#000080" stroke-width="4.4" stroke-linecap="square" fill="none"/>
<text class="g" x="1294.8" y="108.5" font-size="20.2">C11</text>
<path d="M1427.3,101.4h40" stroke="#000080" stroke-width="4.4" stroke-dasharray="14.8 6.4" fill="none"/>
<text class="g" x="1483.9" y="108.5" font-size="20.2">C11 Sim</text>
<path d="M1238.2,131.05h40" stroke="#ff0000" stroke-width="4.4" stroke-linecap="square" fill="none"/>
<text class="g" x="1294.8" y="138.15" font-size="20.2">Sum</text>
<path d="M1427.3,131.05h40" stroke="#ff0000" stroke-width="4.4" stroke-dasharray="14.8 6.4" fill="none"/>
<text class="g" x="1483.9" y="138.15" font-size="20.2">Sum Sim</text>
<path d="M156.4,1109.85V737.22H159.15V737.11H161.91V738.35H164.66V739.54H167.41V740.78H170.17V741.78H172.92V743.42H175.68V744.99H178.43V747.22H181.18V747.97H183.94V750.69H186.69V750.65H189.44V754.72H192.2V754.75H194.95V756.65H197.7V756.94H200.46V759.53H203.21V758.55H205.96V761.79H208.72V760.59H211.47V762.69H214.23V764.07H216.98V764.89H219.73V764.81H222.49V766.77H225.24V770.06H227.99V768.73H230.75V770.5H233.5V772.95H236.25V772.31H239.01V775.06H241.76V775.53H244.52V777H247.27V779.21H250.02V779.7H252.78V782.57H255.53V783.09H258.28V785.26H261.04V786.62H263.79V786.47H266.54V789.68H269.3V792.44H272.05V793.21H274.8V795.49H277.56V796.34H280.31V797.17H283.07V798.21H285.82V799.17H288.57V800.77H291.33V800.73H294.08V801.07H296.83V803.75H299.59V804.25H302.34V805.23H305.09V805.07H307.85V806.44H310.6V809.88H313.36V810.45H316.11V813.74H318.86V814.6H321.62V814.91H324.37V815.65H327.12V816.72H329.88V819.72H332.63V822.55H335.38V821.76H338.14V824.02H340.89V828.02H343.64V826.73H346.4V837.34H349.15V835.7H351.91V830.25H354.66V833.6H357.41V832.98H360.17V836.68H362.92V837.28H365.67V836.11H368.43V839.84H371.18V843.81H373.93V841.02H376.69V843.26H379.44V844.52H382.2V847.59H384.95V848.85H387.7V851.39H390.46V853.78H393.21V851.29H395.96V856.23H398.72V857.5H401.47V858.42H404.22V855.07H406.98V857.83H409.73V861.22H412.48V861.56H415.24V861.42H417.99V861.91H420.75V868.53H423.5V864.54H426.25V868.24H429.01V870.66H431.76V871.37H434.51V870.12H437.27V869.06H440.02V873.25H442.77V873.02H445.53V876.93H448.28V874.55H451.04V874.48H453.79V880.79H456.54V879.09H459.3V876.83H462.05V884.13H464.8V881.4H467.56V879.87H470.31V886.72H473.06V884.13H475.82V883.84H478.57V882.59H481.32V888.99H484.08V883.3H486.83V885.98H489.59V884.33H492.34V885.03H495.09V887.79H497.85V888.04H500.6V895.08H503.35V894.57H506.11V894.19H508.86V892.92H511.61V889.99H514.37V898.64H517.12V894.79H519.88V898.49H522.63V899.89H525.38V891.53H528.14V896H530.89V892.26H533.64V894.07H536.4V900.98H539.15V904.75H541.9V893.37H544.66V901.18H547.41V904.23H550.16V899.01H552.92V901.3H555.67V904.52H558.43V903.93H561.18V902.42H563.93V902.81H566.69V900.81H569.44V904.43H572.19V904.51H574.95V901.62H577.7V902.63H580.45V900.35H583.21V904.68H585.96V904.3H588.72V908.01H591.47V899.6H594.22V909.1H596.98V903.79H599.73V907.86H602.48V904.2H605.24V903.34H607.99V911.98H610.74V907.33H613.5V913.38H616.25V903.02H619V909.48H621.76V914.12H624.51V911.31H627.27V905H630.02V904.88H632.77V905.98H635.53V913.45H638.28V911.49H641.03V905.77H643.79V914.03H646.54V912.79H649.29V915.31H652.05V916.34H654.8V908.14H657.56V910.25H660.31V911.07H663.06V910.83H665.82V909.55H668.57V908.16H671.32V913.52H674.08V914.95H676.83V917.76H679.58V910H682.34V915.5H685.09V919.2H687.84V914.29H690.6V913.08H693.35V910.14H696.11V909.43H698.86V915.43H701.61V915.55H704.37V913.64H707.12V916.84H709.87V912.56H712.63V910.42H715.38V911.73H718.13V918.42H720.89V917.34H723.64V909.04H726.4V917.86H729.15V911.99H731.9V912.92H734.66V916.97H737.41V919.98H740.16V915.47H742.92V919.8H745.67V917.15H748.42V916.22H751.18V919.51H753.93V917.72H756.68V918.16H759.44V922.01H762.19V1109.85Z" fill="#a6afd7"/>
<path d="M159.15,737.72V1109.85M164.66,740.04V1109.85M172.92,743.92V1109.85M175.68,745.49V1109.85M181.18,748.47V1109.85M183.94,751.19V1109.85M189.44,755.22V1109.85M194.95,757.15V1109.85M200.46,760.03V1109.85M216.98,765.39V1109.85M225.24,770.56V1109.85M227.99,770.56V1109.85M233.5,773.45V1109.85M247.27,779.71V1109.85M252.78,783.07V1109.85M261.04,787.12V1109.85M263.79,787.12V1109.85M266.54,790.18V1109.85M272.05,793.71V1109.85M277.56,796.84V1109.85M283.07,798.71V1109.85M285.82,799.67V1109.85M310.6,810.38V1109.85M327.12,817.22V1109.85M335.38,823.05V1109.85M338.14,824.52V1109.85M346.4,837.84V1109.85M351.91,836.2V1109.85M354.66,834.1V1109.85M357.41,834.1V1109.85M365.67,837.78V1109.85M371.18,844.31V1109.85M376.69,843.76V1109.85M390.46,854.28V1109.85M393.21,854.28V1109.85M398.72,858V1109.85M401.47,858.92V1109.85M404.22,858.92V1109.85M409.73,861.72V1109.85M412.48,862.06V1109.85M417.99,862.41V1109.85M426.25,868.74V1109.85M429.01,871.16V1109.85M451.04,875.05V1109.85M456.54,881.29V1109.85M459.3,879.59V1109.85M470.31,887.22V1109.85M473.06,887.22V1109.85M478.57,884.34V1109.85M486.83,886.48V1109.85M492.34,885.53V1109.85M497.85,888.54V1109.85M506.11,895.07V1109.85M508.86,894.69V1109.85M517.12,899.14V1109.85M519.88,898.99V1109.85M525.38,900.39V1109.85M528.14,896.5V1109.85M530.89,896.5V1109.85M533.64,894.57V1109.85M539.15,905.25V1109.85M541.9,905.25V1109.85M547.41,904.73V1109.85M555.67,905.02V1109.85M558.43,905.02V1109.85M563.93,903.31V1109.85M566.69,903.31V1109.85M569.44,904.93V1109.85M574.95,905.01V1109.85M577.7,903.13V1109.85M580.45,903.13V1109.85M585.96,905.18V1109.85M591.47,908.51V1109.85M594.22,909.6V1109.85M602.48,908.36V1109.85M605.24,904.7V1109.85M607.99,912.48V1109.85M613.5,913.88V1109.85M621.76,914.62V1109.85M624.51,914.62V1109.85M635.53,913.95V1109.85M638.28,913.95V1109.85M641.03,911.99V1109.85M646.54,914.53V1109.85M649.29,915.81V1109.85M652.05,916.84V1109.85M654.8,916.84V1109.85M657.56,910.75V1109.85M663.06,911.57V1109.85M665.82,911.33V1109.85M676.83,918.26V1109.85M685.09,919.7V1109.85M698.86,915.93V1109.85M701.61,916.05V1109.85M704.37,916.05V1109.85M707.12,917.34V1109.85M712.63,913.06V1109.85M718.13,918.92V1109.85M737.41,920.48V1109.85M742.92,920.3V1109.85M745.67,920.3V1109.85M753.93,920.01V1109.85" stroke="#fff" stroke-opacity="0.1" stroke-width="1" fill="none"/>
<path d="M156.4,748.69 L158.43,752.9 L160.45,757.1 L162.48,761.29 L164.5,765.48 L166.53,769.66 L168.56,773.84 L170.58,778 L172.61,782.16 L174.63,786.31 L176.66,790.44 L178.69,794.57 L180.71,798.68 L182.74,802.78 L184.76,806.86 L186.79,810.93 L188.82,814.98 L190.84,819.01 L192.87,823.02 L194.9,827 L196.92,830.96 L198.95,834.89 L200.97,838.79 L203,842.66 L205.03,846.49 L207.05,850.29 L209.08,854.04 L211.1,857.75 L213.13,861.41 L215.16,865.02 L217.18,868.58 L219.21,872.08 L221.23,875.51 L223.26,878.89 L225.29,882.19 L227.31,885.42 L229.34,888.57 L231.36,891.64 L233.39,894.63 L235.42,897.53 L237.44,900.34 L239.47,903.06 L241.49,905.68 L243.52,908.2 L245.55,910.63 L247.57,912.95 L249.6,915.17 L251.62,917.29 L253.65,919.31 L255.68,921.22 L257.7,923.04 L259.73,924.75 L261.76,926.37 L263.78,927.89 L265.81,929.32 L267.83,930.66 L269.86,931.91 L271.89,933.08 L273.91,934.17 L275.94,935.18 L277.96,936.12 L279.99,937 L282.02,937.8 L284.04,938.55 L286.07,939.24 L288.09,939.88 L290.12,940.46 L292.15,941 L294.17,941.49 L296.2,941.95 L298.22,942.36 L300.25,942.74 L302.28,943.09 L304.3,943.41 L306.33,943.71 L308.35,943.97 L310.38,944.22 L312.41,944.44 L314.43,944.64 L316.46,944.83 L318.48,945 L320.51,945.15 L322.54,945.29 L324.56,945.42 L326.59,945.54 L328.62,945.65 L330.64,945.74 L332.67,945.83 L334.69,945.91 L336.72,945.98 L338.75,946.05 L340.77,946.11 L342.8,946.17 L344.82,946.22 L346.85,946.26 L348.88,946.3 L350.9,946.34 L352.93,946.37 L354.95,946.4 L356.98,946.43 L359.01,946.46 L361.03,946.48 L363.06,946.5 L365.08,946.52 L367.11,946.54 L369.14,946.56 L371.16,946.57 L373.19,946.58 L375.21,946.59 L377.24,946.61 L379.27,946.62 L381.29,946.62 L383.32,946.63 L385.34,946.64 L387.37,946.65 L389.4,946.65 L391.42,946.66 L393.45,946.66 L395.48,946.67 L397.5,946.67 L399.53,946.68 L401.55,946.68 L403.58,946.68 L405.61,946.68 L407.63,946.69 L409.66,946.69 L411.68,946.69 L413.71,946.69 L415.74,946.7 L417.76,946.7 L419.79,946.7 L421.81,946.7 L423.84,946.7 L425.87,946.7 L427.89,946.7 L429.92,946.7 L431.94,946.7 L433.97,946.7 L436,946.71 L438.02,946.71 L440.05,946.71 L442.07,946.71 L444.1,946.71 L446.13,946.71 L448.15,946.71 L450.18,946.71 L452.2,946.71 L454.23,946.71 L456.26,946.71 L458.28,946.71 L460.31,946.71 L462.34,946.71 L464.36,946.71 L466.39,946.71 L468.41,946.71 L470.44,946.71 L472.47,946.71 L474.49,946.71 L476.52,946.71 L478.54,946.71 L480.57,946.71 L482.6,946.71 L484.62,946.71 L486.65,946.71 L488.67,946.71 L490.7,946.71 L492.73,946.71 L494.75,946.71 L496.78,946.71 L498.8,946.71 L500.83,946.71 L502.86,946.71 L504.88,946.71 L506.91,946.71 L508.93,946.71 L510.96,946.71 L512.99,946.71 L515.01,946.71 L517.04,946.71 L519.06,946.71 L521.09,946.71 L523.12,946.71 L525.14,946.71 L527.17,946.71 L529.2,946.71 L531.22,946.71 L533.25,946.71 L535.27,946.71 L537.3,946.71 L539.33,946.71 L541.35,946.71 L543.38,946.71 L545.4,946.71 L547.43,946.71 L549.46,946.71 L551.48,946.71 L553.51,946.71 L555.53,946.71 L557.56,946.71 L559.59,946.71 L561.61,946.71 L563.64,946.71 L565.66,946.71 L567.69,946.71 L569.72,946.71 L571.74,946.71 L573.77,946.71 L575.79,946.71 L577.82,946.71 L579.85,946.71 L581.87,946.71 L583.9,946.71 L585.92,946.71 L587.95,946.71 L589.98,946.71 L592,946.71 L594.03,946.71 L596.06,946.71 L598.08,946.71 L600.11,946.71 L602.13,946.71 L604.16,946.71 L606.19,946.71 L608.21,946.71 L610.24,946.71 L612.26,946.71 L614.29,946.71 L616.32,946.71 L618.34,946.71 L620.37,946.71 L622.39,946.71 L624.42,946.71 L626.45,946.71 L628.47,946.71 L630.5,946.71 L632.52,946.71 L634.55,946.71 L636.58,946.71 L638.6,946.71 L640.63,946.71 L642.65,946.71 L644.68,946.71 L646.71,946.71 L648.73,946.71 L650.76,946.71 L652.78,946.71 L654.81,946.71 L656.84,946.71 L658.86,946.71 L660.89,946.71 L662.92,946.71 L664.94,946.71 L666.97,946.71 L668.99,946.71 L671.02,946.71 L673.05,946.71 L675.07,946.71 L677.1,946.71 L679.12,946.71 L681.15,946.71 L683.18,946.71 L685.2,946.71 L687.23,946.71 L689.25,946.71 L691.28,946.71 L693.31,946.71 L695.33,946.71 L697.36,946.71 L699.38,946.71 L701.41,946.71 L703.44,946.71 L705.46,946.71 L707.49,946.71 L709.51,946.71 L711.54,946.71 L713.57,946.71 L715.59,946.71 L717.62,946.71 L719.64,946.71 L721.67,946.71 L723.7,946.71 L725.72,946.71 L727.75,946.71 L729.78,946.71 L731.8,946.71 L733.83,946.71 L735.85,946.71 L737.88,946.71 L739.91,946.71 L741.93,946.71 L743.96,946.71 L745.98,946.71 L748.01,946.71 L750.04,946.71 L752.06,946.71 L754.09,946.71 L756.11,946.71 L758.14,946.71 L760.17,946.71 L762.19,946.71" fill="none" stroke="#0000ff" stroke-width="4.4" stroke-linecap="square" stroke-linejoin="round" />
<path d="M156.4,946.71 L158.43,946.71 L160.45,946.71 L162.48,946.71 L164.5,946.71 L166.53,946.71 L168.56,946.71 L170.58,946.71 L172.61,946.71 L174.63,946.71 L176.66,946.71 L178.69,946.71 L180.71,946.71 L182.74,946.71 L184.76,946.71 L186.79,946.71 L188.82,946.71 L190.84,946.71 L192.87,946.71 L194.9,946.71 L196.92,946.71 L198.95,946.71 L200.97,946.71 L203,946.71 L205.03,946.71 L207.05,946.71 L209.08,946.71 L211.1,946.71 L213.13,946.71 L215.16,946.71 L217.18,946.71 L219.21,946.71 L221.23,946.71 L223.26,946.71 L225.29,946.71 L227.31,946.71 L229.34,946.71 L231.36,946.71 L233.39,946.71 L235.42,946.71 L237.44,946.71 L239.47,946.71 L241.49,946.71 L243.52,946.71 L245.55,946.71 L247.57,946.71 L249.6,946.71 L251.62,946.71 L253.65,946.71 L255.68,946.71 L257.7,946.71 L259.73,946.71 L261.76,946.71 L263.78,946.71 L265.81,946.71 L267.83,946.71 L269.86,946.71 L271.89,946.71 L273.91,946.71 L275.94,946.71 L277.96,946.71 L279.99,946.71 L282.02,946.71 L284.04,946.71 L286.07,946.71 L288.09,946.71 L290.12,946.71 L292.15,946.71 L294.17,946.71 L296.2,946.71 L298.22,946.71 L300.25,946.71 L302.28,946.71 L304.3,946.71 L306.33,946.71 L308.35,946.71 L310.38,946.71 L312.41,946.71 L314.43,946.71 L316.46,946.71 L318.48,946.71 L320.51,946.71 L322.54,946.71 L324.56,946.71 L326.59,946.71 L328.62,946.71 L330.64,946.71 L332.67,946.71 L334.69,946.71 L336.72,946.71 L338.75,946.71 L340.77,946.71 L342.8,946.71 L344.82,946.71 L346.85,946.71 L348.88,946.71 L350.9,946.71 L352.93,946.71 L354.95,946.71 L356.98,946.71 L359.01,946.71 L361.03,946.71 L363.06,946.71 L365.08,946.71 L367.11,946.71 L369.14,946.71 L371.16,946.71 L373.19,946.71 L375.21,946.71 L377.24,946.71 L379.27,946.71 L381.29,946.71 L383.32,946.71 L385.34,946.71 L387.37,946.71 L389.4,946.71 L391.42,946.71 L393.45,946.71 L395.48,946.71 L397.5,946.71 L399.53,946.71 L401.55,946.71 L403.58,946.71 L405.61,946.71 L407.63,946.71 L409.66,946.71 L411.68,946.71 L413.71,946.71 L415.74,946.71 L417.76,946.71 L419.79,946.71 L421.81,946.71 L423.84,946.71 L425.87,946.71 L427.89,946.71 L429.92,946.71 L431.94,946.71 L433.97,946.71 L436,946.71 L438.02,946.71 L440.05,946.71 L442.07,946.71 L444.1,946.71 L446.13,946.71 L448.15,946.71 L450.18,946.71 L452.2,946.71 L454.23,946.71 L456.26,946.71 L458.28,946.71 L460.31,946.71 L462.34,946.71 L464.36,946.71 L466.39,946.71 L468.41,946.71 L470.44,946.71 L472.47,946.71 L474.49,946.71 L476.52,946.71 L478.54,946.71 L480.57,946.71 L482.6,946.71 L484.62,946.71 L486.65,946.71 L488.67,946.71 L490.7,946.71 L492.73,946.71 L494.75,946.71 L496.78,946.71 L498.8,946.71 L500.83,946.71 L502.86,946.71 L504.88,946.71 L506.91,946.71 L508.93,946.71 L510.96,946.71 L512.99,946.71 L515.01,946.71 L517.04,946.71 L519.06,946.71 L521.09,946.71 L523.12,946.71 L525.14,946.71 L527.17,946.71 L529.2,946.71 L531.22,946.71 L533.25,946.71 L535.27,946.71 L537.3,946.71 L539.33,946.71 L541.35,946.71 L543.38,946.71 L545.4,946.71 L547.43,946.71 L549.46,946.71 L551.48,946.71 L553.51,946.71 L555.53,946.71 L557.56,946.71 L559.59,946.71 L561.61,946.71 L563.64,946.71 L565.66,946.71 L567.69,946.71 L569.72,946.71 L571.74,946.71 L573.77,946.71 L575.79,946.71 L577.82,946.71 L579.85,946.71 L581.87,946.71 L583.9,946.71 L585.92,946.71 L587.95,946.71 L589.98,946.71 L592,946.71 L594.03,946.71 L596.06,946.71 L598.08,946.71 L600.11,946.71 L602.13,946.71 L604.16,946.71 L606.19,946.71 L608.21,946.71 L610.24,946.71 L612.26,946.71 L614.29,946.71 L616.32,946.71 L618.34,946.71 L620.37,946.71 L622.39,946.71 L624.42,946.71 L626.45,946.71 L628.47,946.71 L630.5,946.71 L632.52,946.71 L634.55,946.71 L636.58,946.71 L638.6,946.71 L640.63,946.71 L642.65,946.71 L644.68,946.71 L646.71,946.71 L648.73,946.71 L650.76,946.71 L652.78,946.71 L654.81,946.71 L656.84,946.71 L658.86,946.71 L660.89,946.71 L662.92,946.71 L664.94,946.71 L666.97,946.71 L668.99,946.71 L671.02,946.71 L673.05,946.71 L675.07,946.71 L677.1,946.71 L679.12,946.71 L681.15,946.71 L683.18,946.71 L685.2,946.71 L687.23,946.71 L689.25,946.71 L691.28,946.71 L693.31,946.71 L695.33,946.71 L697.36,946.71 L699.38,946.71 L701.41,946.71 L703.44,946.71 L705.46,946.71 L707.49,946.71 L709.51,946.71 L711.54,946.71 L713.57,946.71 L715.59,946.71 L717.62,946.71 L719.64,946.71 L721.67,946.71 L723.7,946.71 L725.72,946.71 L727.75,946.71 L729.78,946.71 L731.8,946.71 L733.83,946.71 L735.85,946.71 L737.88,946.71 L739.91,946.71 L741.93,946.71 L743.96,946.71 L745.98,946.71 L748.01,946.71 L750.04,946.71 L752.06,946.71 L754.09,946.71 L756.11,946.71 L758.14,946.71 L760.17,946.71 L762.19,946.71" fill="none" stroke="#000080" stroke-width="4.4" stroke-linecap="square" stroke-linejoin="round" />
<path d="M156.4,946.71 L158.43,946.71 L160.45,946.71 L162.48,946.71 L164.5,946.71 L166.53,946.71 L168.56,946.71 L170.58,946.71 L172.61,946.71 L174.63,946.71 L176.66,946.71 L178.69,946.71 L180.71,946.71 L182.74,946.71 L184.76,946.71 L186.79,946.71 L188.82,946.71 L190.84,946.71 L192.87,946.71 L194.9,946.71 L196.92,946.71 L198.95,946.71 L200.97,946.71 L203,946.71 L205.03,946.71 L207.05,946.71 L209.08,946.71 L211.1,946.71 L213.13,946.71 L215.16,946.71 L217.18,946.71 L219.21,946.71 L221.23,946.71 L223.26,946.71 L225.29,946.71 L227.31,946.71 L229.34,946.71 L231.36,946.71 L233.39,946.71 L235.42,946.71 L237.44,946.71 L239.47,946.71 L241.49,946.71 L243.52,946.71 L245.55,946.71 L247.57,946.71 L249.6,946.71 L251.62,946.71 L253.65,946.71 L255.68,946.71 L257.7,946.71 L259.73,946.71 L261.76,946.71 L263.78,946.71 L265.81,946.71 L267.83,946.71 L269.86,946.71 L271.89,946.71 L273.91,946.71 L275.94,946.71 L277.96,946.71 L279.99,946.71 L282.02,946.71 L284.04,946.71 L286.07,946.71 L288.09,946.71 L290.12,946.71 L292.15,946.71 L294.17,946.71 L296.2,946.71 L298.22,946.71 L300.25,946.71 L302.28,946.71 L304.3,946.71 L306.33,946.71 L308.35,946.71 L310.38,946.71 L312.41,946.71 L314.43,946.71 L316.46,946.71 L318.48,946.71 L320.51,946.71 L322.54,946.71 L324.56,946.71 L326.59,946.71 L328.62,946.71 L330.64,946.71 L332.67,946.71 L334.69,946.71 L336.72,946.71 L338.75,946.71 L340.77,946.71 L342.8,946.71 L344.82,946.71 L346.85,946.71 L348.88,946.71 L350.9,946.71 L352.93,946.71 L354.95,946.71 L356.98,946.71 L359.01,946.71 L361.03,946.71 L363.06,946.71 L365.08,946.71 L367.11,946.71 L369.14,946.71 L371.16,946.71 L373.19,946.71 L375.21,946.71 L377.24,946.71 L379.27,946.71 L381.29,946.71 L383.32,946.71 L385.34,946.71 L387.37,946.71 L389.4,946.71 L391.42,946.71 L393.45,946.71 L395.48,946.71 L397.5,946.71 L399.53,946.71 L401.55,946.71 L403.58,946.71 L405.61,946.71 L407.63,946.71 L409.66,946.71 L411.68,946.71 L413.71,946.71 L415.74,946.71 L417.76,946.71 L419.79,946.71 L421.81,946.71 L423.84,946.71 L425.87,946.71 L427.89,946.71 L429.92,946.71 L431.94,946.71 L433.97,946.71 L436,946.71 L438.02,946.71 L440.05,946.71 L442.07,946.71 L444.1,946.71 L446.13,946.71 L448.15,946.71 L450.18,946.71 L452.2,946.71 L454.23,946.71 L456.26,946.71 L458.28,946.71 L460.31,946.71 L462.34,946.71 L464.36,946.71 L466.39,946.71 L468.41,946.71 L470.44,946.71 L472.47,946.71 L474.49,946.71 L476.52,946.71 L478.54,946.71 L480.57,946.71 L482.6,946.71 L484.62,946.71 L486.65,946.71 L488.67,946.71 L490.7,946.71 L492.73,946.71 L494.75,946.71 L496.78,946.71 L498.8,946.71 L500.83,946.71 L502.86,946.71 L504.88,946.71 L506.91,946.71 L508.93,946.71 L510.96,946.71 L512.99,946.71 L515.01,946.71 L517.04,946.71 L519.06,946.71 L521.09,946.71 L523.12,946.71 L525.14,946.71 L527.17,946.71 L529.2,946.71 L531.22,946.71 L533.25,946.71 L535.27,946.71 L537.3,946.71 L539.33,946.71 L541.35,946.71 L543.38,946.71 L545.4,946.71 L547.43,946.71 L549.46,946.71 L551.48,946.71 L553.51,946.71 L555.53,946.71 L557.56,946.71 L559.59,946.71 L561.61,946.71 L563.64,946.71 L565.66,946.71 L567.69,946.71 L569.72,946.71 L571.74,946.71 L573.77,946.71 L575.79,946.71 L577.82,946.71 L579.85,946.71 L581.87,946.71 L583.9,946.71 L585.92,946.71 L587.95,946.71 L589.98,946.71 L592,946.71 L594.03,946.71 L596.06,946.71 L598.08,946.71 L600.11,946.71 L602.13,946.71 L604.16,946.71 L606.19,946.71 L608.21,946.71 L610.24,946.71 L612.26,946.71 L614.29,946.71 L616.32,946.71 L618.34,946.71 L620.37,946.71 L622.39,946.71 L624.42,946.71 L626.45,946.71 L628.47,946.71 L630.5,946.71 L632.52,946.71 L634.55,946.71 L636.58,946.71 L638.6,946.71 L640.63,946.71 L642.65,946.71 L644.68,946.71 L646.71,946.71 L648.73,946.71 L650.76,946.71 L652.78,946.71 L654.81,946.71 L656.84,946.71 L658.86,946.71 L660.89,946.71 L662.92,946.71 L664.94,946.71 L666.97,946.71 L668.99,946.71 L671.02,946.71 L673.05,946.71 L675.07,946.71 L677.1,946.71 L679.12,946.71 L681.15,946.71 L683.18,946.71 L685.2,946.71 L687.23,946.71 L689.25,946.71 L691.28,946.71 L693.31,946.71 L695.33,946.71 L697.36,946.71 L699.38,946.71 L701.41,946.71 L703.44,946.71 L705.46,946.71 L707.49,946.71 L709.51,946.71 L711.54,946.71 L713.57,946.71 L715.59,946.71 L717.62,946.71 L719.64,946.71 L721.67,946.71 L723.7,946.71 L725.72,946.71 L727.75,946.71 L729.78,946.71 L731.8,946.71 L733.83,946.71 L735.85,946.71 L737.88,946.71 L739.91,946.71 L741.93,946.71 L743.96,946.71 L745.98,946.71 L748.01,946.71 L750.04,946.71 L752.06,946.71 L754.09,946.71 L756.11,946.71 L758.14,946.71 L760.17,946.71 L762.19,946.71" fill="none" stroke="#008000" stroke-width="4.4" stroke-linecap="square" stroke-linejoin="round" />
<path d="M156.4,760.58 L158.43,761.26 L160.45,761.93 L162.48,762.6 L164.5,763.27 L166.53,763.95 L168.56,764.62 L170.58,765.29 L172.61,765.96 L174.63,766.64 L176.66,767.31 L178.69,767.98 L180.71,768.65 L182.74,769.32 L184.76,769.99 L186.79,770.66 L188.82,771.33 L190.84,772 L192.87,772.67 L194.9,773.34 L196.92,774.01 L198.95,774.68 L200.97,775.35 L203,776.02 L205.03,776.69 L207.05,777.36 L209.08,778.03 L211.1,778.7 L213.13,779.36 L215.16,780.03 L217.18,780.7 L219.21,781.37 L221.23,782.03 L223.26,782.7 L225.29,783.37 L227.31,784.03 L229.34,784.7 L231.36,785.37 L233.39,786.03 L235.42,786.7 L237.44,787.36 L239.47,788.03 L241.49,788.69 L243.52,789.36 L245.55,790.02 L247.57,790.68 L249.6,791.35 L251.62,792.01 L253.65,792.67 L255.68,793.33 L257.7,794 L259.73,794.66 L261.76,795.32 L263.78,795.98 L265.81,796.64 L267.83,797.3 L269.86,797.96 L271.89,798.62 L273.91,799.28 L275.94,799.94 L277.96,800.6 L279.99,801.26 L282.02,801.91 L284.04,802.57 L286.07,803.23 L288.09,803.88 L290.12,804.54 L292.15,805.2 L294.17,805.85 L296.2,806.51 L298.22,807.16 L300.25,807.82 L302.28,808.47 L304.3,809.12 L306.33,809.78 L308.35,810.43 L310.38,811.08 L312.41,811.73 L314.43,812.38 L316.46,813.03 L318.48,813.68 L320.51,814.33 L322.54,814.98 L324.56,815.63 L326.59,816.28 L328.62,816.92 L330.64,817.57 L332.67,818.22 L334.69,818.86 L336.72,819.51 L338.75,820.15 L340.77,820.8 L342.8,821.44 L344.82,822.08 L346.85,822.73 L348.88,823.37 L350.9,824.01 L352.93,824.65 L354.95,825.29 L356.98,825.93 L359.01,826.57 L361.03,827.21 L363.06,827.84 L365.08,828.48 L367.11,829.12 L369.14,829.75 L371.16,830.39 L373.19,831.02 L375.21,831.65 L377.24,832.29 L379.27,832.92 L381.29,833.55 L383.32,834.18 L385.34,834.81 L387.37,835.44 L389.4,836.06 L391.42,836.69 L393.45,837.32 L395.48,837.94 L397.5,838.57 L399.53,839.19 L401.55,839.81 L403.58,840.44 L405.61,841.06 L407.63,841.68 L409.66,842.3 L411.68,842.92 L413.71,843.53 L415.74,844.15 L417.76,844.77 L419.79,845.38 L421.81,845.99 L423.84,846.61 L425.87,847.22 L427.89,847.83 L429.92,848.44 L431.94,849.05 L433.97,849.66 L436,850.26 L438.02,850.87 L440.05,851.47 L442.07,852.08 L444.1,852.68 L446.13,853.28 L448.15,853.88 L450.18,854.48 L452.2,855.08 L454.23,855.68 L456.26,856.27 L458.28,856.87 L460.31,857.46 L462.34,858.05 L464.36,858.64 L466.39,859.23 L468.41,859.82 L470.44,860.41 L472.47,860.99 L474.49,861.58 L476.52,862.16 L478.54,862.74 L480.57,863.32 L482.6,863.9 L484.62,864.48 L486.65,865.06 L488.67,865.63 L490.7,866.2 L492.73,866.78 L494.75,867.35 L496.78,867.92 L498.8,868.48 L500.83,869.05 L502.86,869.61 L504.88,870.18 L506.91,870.74 L508.93,871.3 L510.96,871.86 L512.99,872.41 L515.01,872.97 L517.04,873.52 L519.06,874.08 L521.09,874.63 L523.12,875.17 L525.14,875.72 L527.17,876.27 L529.2,876.81 L531.22,877.35 L533.25,877.89 L535.27,878.43 L537.3,878.97 L539.33,879.5 L541.35,880.04 L543.38,880.57 L545.4,881.1 L547.43,881.62 L549.46,882.15 L551.48,882.67 L553.51,883.2 L555.53,883.72 L557.56,884.23 L559.59,884.75 L561.61,885.26 L563.64,885.78 L565.66,886.29 L567.69,886.79 L569.72,887.3 L571.74,887.8 L573.77,888.31 L575.79,888.81 L577.82,889.3 L579.85,889.8 L581.87,890.29 L583.9,890.79 L585.92,891.27 L587.95,891.76 L589.98,892.25 L592,892.73 L594.03,893.21 L596.06,893.69 L598.08,894.17 L600.11,894.64 L602.13,895.11 L604.16,895.58 L606.19,896.05 L608.21,896.51 L610.24,896.98 L612.26,897.44 L614.29,897.89 L616.32,898.35 L618.34,898.8 L620.37,899.25 L622.39,899.7 L624.42,900.15 L626.45,900.59 L628.47,901.03 L630.5,901.47 L632.52,901.91 L634.55,902.34 L636.58,902.78 L638.6,903.2 L640.63,903.63 L642.65,904.06 L644.68,904.48 L646.71,904.9 L648.73,905.31 L650.76,905.73 L652.78,906.14 L654.81,906.55 L656.84,906.95 L658.86,907.36 L660.89,907.76 L662.92,908.16 L664.94,908.56 L666.97,908.95 L668.99,909.34 L671.02,909.73 L673.05,910.12 L675.07,910.5 L677.1,910.88 L679.12,911.26 L681.15,911.63 L683.18,912.01 L685.2,912.38 L687.23,912.74 L689.25,913.11 L691.28,913.47 L693.31,913.83 L695.33,914.19 L697.36,914.54 L699.38,914.9 L701.41,915.24 L703.44,915.59 L705.46,915.94 L707.49,916.28 L709.51,916.62 L711.54,916.95 L713.57,917.28 L715.59,917.62 L717.62,917.94 L719.64,918.27 L721.67,918.59 L723.7,918.91 L725.72,919.23 L727.75,919.55 L729.78,919.86 L731.8,920.17 L733.83,920.47 L735.85,920.78 L737.88,921.08 L739.91,921.38 L741.93,921.68 L743.96,921.97 L745.98,922.26 L748.01,922.55 L750.04,922.84 L752.06,923.12 L754.09,923.4 L756.11,923.68 L758.14,923.96 L760.17,924.23 L762.19,924.5" fill="none" stroke="#bf00bf" stroke-width="4.4" stroke-linecap="square" stroke-linejoin="round" />
<path d="M156.4,723.87 L158.43,726.53 L160.45,729.11 L162.48,731.63 L164.5,734.07 L166.53,736.44 L168.56,738.73 L170.58,740.96 L172.61,743.11 L174.63,745.19 L176.66,747.21 L178.69,749.16 L180.71,751.04 L182.74,752.85 L184.76,754.61 L186.79,756.3 L188.82,757.94 L190.84,759.52 L192.87,761.04 L194.9,762.52 L196.92,763.94 L198.95,765.32 L200.97,766.65 L203,767.94 L205.03,769.19 L207.05,770.4 L209.08,771.57 L211.1,772.71 L213.13,773.82 L215.16,774.89 L217.18,775.94 L219.21,776.96 L221.23,777.95 L223.26,778.93 L225.29,779.88 L227.31,780.8 L229.34,781.71 L231.36,782.61 L233.39,783.48 L235.42,784.34 L237.44,785.18 L239.47,786.01 L241.49,786.83 L243.52,787.64 L245.55,788.43 L247.57,789.22 L249.6,790 L251.62,790.76 L253.65,791.52 L255.68,792.27 L257.7,793.02 L259.73,793.75 L261.76,794.48 L263.78,795.21 L265.81,795.93 L267.83,796.65 L269.86,797.36 L271.89,798.06 L273.91,798.77 L275.94,799.46 L277.96,800.16 L279.99,800.85 L282.02,801.54 L284.04,802.23 L286.07,802.91 L288.09,803.59 L290.12,804.27 L292.15,804.95 L294.17,805.62 L296.2,806.3 L298.22,806.97 L300.25,807.64 L302.28,808.3 L304.3,808.97 L306.33,809.63 L308.35,810.3 L310.38,810.96 L312.41,811.62 L314.43,812.28 L316.46,812.94 L318.48,813.6 L320.51,814.25 L322.54,814.91 L324.56,815.56 L326.59,816.22 L328.62,816.87 L330.64,817.52 L332.67,818.17 L334.69,818.82 L336.72,819.47 L338.75,820.12 L340.77,820.76 L342.8,821.41 L344.82,822.05 L346.85,822.7 L348.88,823.34 L350.9,823.99 L352.93,824.63 L354.95,825.27 L356.98,825.91 L359.01,826.55 L361.03,827.19 L363.06,827.83 L365.08,828.47 L367.11,829.1 L369.14,829.74 L371.16,830.38 L373.19,831.01 L375.21,831.64 L377.24,832.28 L379.27,832.91 L381.29,833.54 L383.32,834.17 L385.34,834.8 L387.37,835.43 L389.4,836.06 L391.42,836.69 L393.45,837.31 L395.48,837.94 L397.5,838.56 L399.53,839.19 L401.55,839.81 L403.58,840.43 L405.61,841.05 L407.63,841.68 L409.66,842.3 L411.68,842.91 L413.71,843.53 L415.74,844.15 L417.76,844.76 L419.79,845.38 L421.81,845.99 L423.84,846.61 L425.87,847.22 L427.89,847.83 L429.92,848.44 L431.94,849.05 L433.97,849.66 L436,850.26 L438.02,850.87 L440.05,851.47 L442.07,852.08 L444.1,852.68 L446.13,853.28 L448.15,853.88 L450.18,854.48 L452.2,855.08 L454.23,855.68 L456.26,856.27 L458.28,856.87 L460.31,857.46 L462.34,858.05 L464.36,858.64 L466.39,859.23 L468.41,859.82 L470.44,860.41 L472.47,860.99 L474.49,861.58 L476.52,862.16 L478.54,862.74 L480.57,863.32 L482.6,863.9 L484.62,864.48 L486.65,865.06 L488.67,865.63 L490.7,866.2 L492.73,866.78 L494.75,867.35 L496.78,867.92 L498.8,868.48 L500.83,869.05 L502.86,869.61 L504.88,870.18 L506.91,870.74 L508.93,871.3 L510.96,871.86 L512.99,872.41 L515.01,872.97 L517.04,873.52 L519.06,874.08 L521.09,874.63 L523.12,875.17 L525.14,875.72 L527.17,876.27 L529.2,876.81 L531.22,877.35 L533.25,877.89 L535.27,878.43 L537.3,878.97 L539.33,879.5 L541.35,880.04 L543.38,880.57 L545.4,881.1 L547.43,881.62 L549.46,882.15 L551.48,882.67 L553.51,883.2 L555.53,883.72 L557.56,884.23 L559.59,884.75 L561.61,885.26 L563.64,885.78 L565.66,886.29 L567.69,886.79 L569.72,887.3 L571.74,887.8 L573.77,888.31 L575.79,888.81 L577.82,889.3 L579.85,889.8 L581.87,890.29 L583.9,890.79 L585.92,891.27 L587.95,891.76 L589.98,892.25 L592,892.73 L594.03,893.21 L596.06,893.69 L598.08,894.17 L600.11,894.64 L602.13,895.11 L604.16,895.58 L606.19,896.05 L608.21,896.51 L610.24,896.98 L612.26,897.44 L614.29,897.89 L616.32,898.35 L618.34,898.8 L620.37,899.25 L622.39,899.7 L624.42,900.15 L626.45,900.59 L628.47,901.03 L630.5,901.47 L632.52,901.91 L634.55,902.34 L636.58,902.78 L638.6,903.2 L640.63,903.63 L642.65,904.06 L644.68,904.48 L646.71,904.9 L648.73,905.31 L650.76,905.73 L652.78,906.14 L654.81,906.55 L656.84,906.95 L658.86,907.36 L660.89,907.76 L662.92,908.16 L664.94,908.56 L666.97,908.95 L668.99,909.34 L671.02,909.73 L673.05,910.12 L675.07,910.5 L677.1,910.88 L679.12,911.26 L681.15,911.63 L683.18,912.01 L685.2,912.38 L687.23,912.74 L689.25,913.11 L691.28,913.47 L693.31,913.83 L695.33,914.19 L697.36,914.54 L699.38,914.9 L701.41,915.24 L703.44,915.59 L705.46,915.94 L707.49,916.28 L709.51,916.62 L711.54,916.95 L713.57,917.28 L715.59,917.62 L717.62,917.94 L719.64,918.27 L721.67,918.59 L723.7,918.91 L725.72,919.23 L727.75,919.55 L729.78,919.86 L731.8,920.17 L733.83,920.47 L735.85,920.78 L737.88,921.08 L739.91,921.38 L741.93,921.68 L743.96,921.97 L745.98,922.26 L748.01,922.55 L750.04,922.84 L752.06,923.12 L754.09,923.4 L756.11,923.68 L758.14,923.96 L760.17,924.23 L762.19,924.5" fill="none" stroke="#ff0000" stroke-width="4.4" stroke-linecap="square" stroke-linejoin="round" />
<path d="M156.4,937.92 L158.43,938.7 L160.45,939.41 L162.48,940.07 L164.5,940.67 L166.53,941.22 L168.56,941.73 L170.58,942.19 L172.61,942.61 L174.63,942.99 L176.66,943.34 L178.69,943.65 L180.71,943.94 L182.74,944.2 L184.76,944.44 L186.79,944.65 L188.82,944.85 L190.84,945.03 L192.87,945.19 L194.9,945.33 L196.92,945.46 L198.95,945.58 L200.97,945.69 L203,945.79 L205.03,945.88 L207.05,945.96 L209.08,946.03 L211.1,946.1 L213.13,946.16 L215.16,946.21 L217.18,946.26 L219.21,946.3 L221.23,946.34 L223.26,946.38 L225.29,946.41 L227.31,946.44 L229.34,946.47 L231.36,946.49 L233.39,946.51 L235.42,946.53 L237.44,946.55 L239.47,946.56 L241.49,946.58 L243.52,946.59 L245.55,946.6 L247.57,946.61 L249.6,946.62 L251.62,946.63 L253.65,946.64 L255.68,946.65 L257.7,946.65 L259.73,946.66 L261.76,946.66 L263.78,946.67 L265.81,946.67 L267.83,946.68 L269.86,946.68 L271.89,946.68 L273.91,946.69 L275.94,946.69 L277.96,946.69 L279.99,946.69 L282.02,946.69 L284.04,946.7 L286.07,946.7 L288.09,946.7 L290.12,946.7 L292.15,946.7 L294.17,946.7 L296.2,946.7 L298.22,946.7 L300.25,946.71 L302.28,946.71 L304.3,946.71 L306.33,946.71 L308.35,946.71 L310.38,946.71 L312.41,946.71 L314.43,946.71 L316.46,946.71 L318.48,946.71 L320.51,946.71 L322.54,946.71 L324.56,946.71 L326.59,946.71 L328.62,946.71 L330.64,946.71 L332.67,946.71 L334.69,946.71 L336.72,946.71 L338.75,946.71 L340.77,946.71 L342.8,946.71 L344.82,946.71 L346.85,946.71 L348.88,946.71 L350.9,946.71 L352.93,946.71 L354.95,946.71 L356.98,946.71 L359.01,946.71 L361.03,946.71 L363.06,946.71 L365.08,946.71 L367.11,946.71 L369.14,946.71 L371.16,946.71 L373.19,946.71 L375.21,946.71 L377.24,946.71 L379.27,946.71 L381.29,946.71 L383.32,946.71 L385.34,946.71 L387.37,946.71 L389.4,946.71 L391.42,946.71 L393.45,946.71 L395.48,946.71 L397.5,946.71 L399.53,946.71 L401.55,946.71 L403.58,946.71 L405.61,946.71 L407.63,946.71 L409.66,946.71 L411.68,946.71 L413.71,946.71 L415.74,946.71 L417.76,946.71 L419.79,946.71 L421.81,946.71 L423.84,946.71 L425.87,946.71 L427.89,946.71 L429.92,946.71 L431.94,946.71 L433.97,946.71 L436,946.71 L438.02,946.71 L440.05,946.71 L442.07,946.71 L444.1,946.71 L446.13,946.71 L448.15,946.71 L450.18,946.71 L452.2,946.71 L454.23,946.71 L456.26,946.71 L458.28,946.71 L460.31,946.71 L462.34,946.71 L464.36,946.71 L466.39,946.71 L468.41,946.71 L470.44,946.71 L472.47,946.71 L474.49,946.71 L476.52,946.71 L478.54,946.71 L480.57,946.71 L482.6,946.71 L484.62,946.71 L486.65,946.71 L488.67,946.71 L490.7,946.71 L492.73,946.71 L494.75,946.71 L496.78,946.71 L498.8,946.71 L500.83,946.71 L502.86,946.71 L504.88,946.71 L506.91,946.71 L508.93,946.71 L510.96,946.71 L512.99,946.71 L515.01,946.71 L517.04,946.71 L519.06,946.71 L521.09,946.71 L523.12,946.71 L525.14,946.71 L527.17,946.71 L529.2,946.71 L531.22,946.71 L533.25,946.71 L535.27,946.71 L537.3,946.71 L539.33,946.71 L541.35,946.71 L543.38,946.71 L545.4,946.71 L547.43,946.71 L549.46,946.71 L551.48,946.71 L553.51,946.71 L555.53,946.71 L557.56,946.71 L559.59,946.71 L561.61,946.71 L563.64,946.71 L565.66,946.71 L567.69,946.71 L569.72,946.71 L571.74,946.71 L573.77,946.71 L575.79,946.71 L577.82,946.71 L579.85,946.71 L581.87,946.71 L583.9,946.71 L585.92,946.71 L587.95,946.71 L589.98,946.71 L592,946.71 L594.03,946.71 L596.06,946.71 L598.08,946.71 L600.11,946.71 L602.13,946.71 L604.16,946.71 L606.19,946.71 L608.21,946.71 L610.24,946.71 L612.26,946.71 L614.29,946.71 L616.32,946.71 L618.34,946.71 L620.37,946.71 L622.39,946.71 L624.42,946.71 L626.45,946.71 L628.47,946.71 L630.5,946.71 L632.52,946.71 L634.55,946.71 L636.58,946.71 L638.6,946.71 L640.63,946.71 L642.65,946.71 L644.68,946.71 L646.71,946.71 L648.73,946.71 L650.76,946.71 L652.78,946.71 L654.81,946.71 L656.84,946.71 L658.86,946.71 L660.89,946.71 L662.92,946.71 L664.94,946.71 L666.97,946.71 L668.99,946.71 L671.02,946.71 L673.05,946.71 L675.07,946.71 L677.1,946.71 L679.12,946.71 L681.15,946.71 L683.18,946.71 L685.2,946.71 L687.23,946.71 L689.25,946.71 L691.28,946.71 L693.31,946.71 L695.33,946.71 L697.36,946.71 L699.38,946.71 L701.41,946.71 L703.44,946.71 L705.46,946.71 L707.49,946.71 L709.51,946.71 L711.54,946.71 L713.57,946.71 L715.59,946.71 L717.62,946.71 L719.64,946.71 L721.67,946.71 L723.7,946.71 L725.72,946.71 L727.75,946.71 L729.78,946.71 L731.8,946.71 L733.83,946.71 L735.85,946.71 L737.88,946.71 L739.91,946.71 L741.93,946.71 L743.96,946.71 L745.98,946.71 L748.01,946.71 L750.04,946.71 L752.06,946.71 L754.09,946.71 L756.11,946.71 L758.14,946.71 L760.17,946.71 L762.19,946.71" fill="none" stroke="#0000ff" stroke-width="4.4" stroke-dasharray="14.8 6.4" stroke-linejoin="round" />
<path d="M156.4,926.07 L158.43,926.09 L160.45,926.12 L162.48,926.15 L164.5,926.18 L166.53,926.21 L168.56,926.23 L170.58,926.26 L172.61,926.29 L174.63,926.32 L176.66,926.35 L178.69,926.37 L180.71,926.4 L182.74,926.43 L184.76,926.46 L186.79,926.48 L188.82,926.51 L190.84,926.54 L192.87,926.57 L194.9,926.6 L196.92,926.62 L198.95,926.65 L200.97,926.68 L203,926.71 L205.03,926.73 L207.05,926.76 L209.08,926.79 L211.1,926.82 L213.13,926.84 L215.16,926.87 L217.18,926.9 L219.21,926.92 L221.23,926.95 L223.26,926.98 L225.29,927.01 L227.31,927.03 L229.34,927.06 L231.36,927.09 L233.39,927.11 L235.42,927.14 L237.44,927.17 L239.47,927.2 L241.49,927.22 L243.52,927.25 L245.55,927.28 L247.57,927.3 L249.6,927.33 L251.62,927.36 L253.65,927.38 L255.68,927.41 L257.7,927.44 L259.73,927.46 L261.76,927.49 L263.78,927.52 L265.81,927.54 L267.83,927.57 L269.86,927.6 L271.89,927.62 L273.91,927.65 L275.94,927.68 L277.96,927.7 L279.99,927.73 L282.02,927.76 L284.04,927.78 L286.07,927.81 L288.09,927.83 L290.12,927.86 L292.15,927.89 L294.17,927.91 L296.2,927.94 L298.22,927.97 L300.25,927.99 L302.28,928.02 L304.3,928.04 L306.33,928.07 L308.35,928.1 L310.38,928.12 L312.41,928.15 L314.43,928.17 L316.46,928.2 L318.48,928.22 L320.51,928.25 L322.54,928.28 L324.56,928.3 L326.59,928.33 L328.62,928.35 L330.64,928.38 L332.67,928.4 L334.69,928.43 L336.72,928.46 L338.75,928.48 L340.77,928.51 L342.8,928.53 L344.82,928.56 L346.85,928.58 L348.88,928.61 L350.9,928.63 L352.93,928.66 L354.95,928.68 L356.98,928.71 L359.01,928.74 L361.03,928.76 L363.06,928.79 L365.08,928.81 L367.11,928.84 L369.14,928.86 L371.16,928.89 L373.19,928.91 L375.21,928.94 L377.24,928.96 L379.27,928.99 L381.29,929.01 L383.32,929.04 L385.34,929.06 L387.37,929.09 L389.4,929.11 L391.42,929.14 L393.45,929.16 L395.48,929.18 L397.5,929.21 L399.53,929.23 L401.55,929.26 L403.58,929.28 L405.61,929.31 L407.63,929.33 L409.66,929.36 L411.68,929.38 L413.71,929.41 L415.74,929.43 L417.76,929.46 L419.79,929.48 L421.81,929.5 L423.84,929.53 L425.87,929.55 L427.89,929.58 L429.92,929.6 L431.94,929.63 L433.97,929.65 L436,929.67 L438.02,929.7 L440.05,929.72 L442.07,929.75 L444.1,929.77 L446.13,929.79 L448.15,929.82 L450.18,929.84 L452.2,929.87 L454.23,929.89 L456.26,929.91 L458.28,929.94 L460.31,929.96 L462.34,929.99 L464.36,930.01 L466.39,930.03 L468.41,930.06 L470.44,930.08 L472.47,930.1 L474.49,930.13 L476.52,930.15 L478.54,930.17 L480.57,930.2 L482.6,930.22 L484.62,930.25 L486.65,930.27 L488.67,930.29 L490.7,930.32 L492.73,930.34 L494.75,930.36 L496.78,930.39 L498.8,930.41 L500.83,930.43 L502.86,930.46 L504.88,930.48 L506.91,930.5 L508.93,930.53 L510.96,930.55 L512.99,930.57 L515.01,930.59 L517.04,930.62 L519.06,930.64 L521.09,930.66 L523.12,930.69 L525.14,930.71 L527.17,930.73 L529.2,930.76 L531.22,930.78 L533.25,930.8 L535.27,930.82 L537.3,930.85 L539.33,930.87 L541.35,930.89 L543.38,930.92 L545.4,930.94 L547.43,930.96 L549.46,930.98 L551.48,931.01 L553.51,931.03 L555.53,931.05 L557.56,931.07 L559.59,931.1 L561.61,931.12 L563.64,931.14 L565.66,931.16 L567.69,931.19 L569.72,931.21 L571.74,931.23 L573.77,931.25 L575.79,931.27 L577.82,931.3 L579.85,931.32 L581.87,931.34 L583.9,931.36 L585.92,931.39 L587.95,931.41 L589.98,931.43 L592,931.45 L594.03,931.47 L596.06,931.5 L598.08,931.52 L600.11,931.54 L602.13,931.56 L604.16,931.58 L606.19,931.61 L608.21,931.63 L610.24,931.65 L612.26,931.67 L614.29,931.69 L616.32,931.71 L618.34,931.74 L620.37,931.76 L622.39,931.78 L624.42,931.8 L626.45,931.82 L628.47,931.84 L630.5,931.87 L632.52,931.89 L634.55,931.91 L636.58,931.93 L638.6,931.95 L640.63,931.97 L642.65,932 L644.68,932.02 L646.71,932.04 L648.73,932.06 L650.76,932.08 L652.78,932.1 L654.81,932.12 L656.84,932.14 L658.86,932.17 L660.89,932.19 L662.92,932.21 L664.94,932.23 L666.97,932.25 L668.99,932.27 L671.02,932.29 L673.05,932.31 L675.07,932.33 L677.1,932.35 L679.12,932.38 L681.15,932.4 L683.18,932.42 L685.2,932.44 L687.23,932.46 L689.25,932.48 L691.28,932.5 L693.31,932.52 L695.33,932.54 L697.36,932.56 L699.38,932.58 L701.41,932.6 L703.44,932.62 L705.46,932.65 L707.49,932.67 L709.51,932.69 L711.54,932.71 L713.57,932.73 L715.59,932.75 L717.62,932.77 L719.64,932.79 L721.67,932.81 L723.7,932.83 L725.72,932.85 L727.75,932.87 L729.78,932.89 L731.8,932.91 L733.83,932.93 L735.85,932.95 L737.88,932.97 L739.91,932.99 L741.93,933.01 L743.96,933.03 L745.98,933.05 L748.01,933.07 L750.04,933.09 L752.06,933.11 L754.09,933.13 L756.11,933.15 L758.14,933.17 L760.17,933.19 L762.19,933.21" fill="none" stroke="#000080" stroke-width="4.4" stroke-dasharray="14.8 6.4" stroke-linejoin="round" />
<path d="M156.4,931.05 L158.43,931.09 L160.45,931.14 L162.48,931.18 L164.5,931.22 L166.53,931.27 L168.56,931.31 L170.58,931.35 L172.61,931.4 L174.63,931.44 L176.66,931.48 L178.69,931.53 L180.71,931.57 L182.74,931.61 L184.76,931.65 L186.79,931.7 L188.82,931.74 L190.84,931.78 L192.87,931.82 L194.9,931.86 L196.92,931.91 L198.95,931.95 L200.97,931.99 L203,932.03 L205.03,932.07 L207.05,932.11 L209.08,932.15 L211.1,932.2 L213.13,932.24 L215.16,932.28 L217.18,932.32 L219.21,932.36 L221.23,932.4 L223.26,932.44 L225.29,932.48 L227.31,932.52 L229.34,932.56 L231.36,932.6 L233.39,932.64 L235.42,932.68 L237.44,932.72 L239.47,932.76 L241.49,932.8 L243.52,932.84 L245.55,932.88 L247.57,932.92 L249.6,932.96 L251.62,933 L253.65,933.04 L255.68,933.08 L257.7,933.12 L259.73,933.15 L261.76,933.19 L263.78,933.23 L265.81,933.27 L267.83,933.31 L269.86,933.35 L271.89,933.39 L273.91,933.42 L275.94,933.46 L277.96,933.5 L279.99,933.54 L282.02,933.58 L284.04,933.61 L286.07,933.65 L288.09,933.69 L290.12,933.73 L292.15,933.76 L294.17,933.8 L296.2,933.84 L298.22,933.87 L300.25,933.91 L302.28,933.95 L304.3,933.99 L306.33,934.02 L308.35,934.06 L310.38,934.1 L312.41,934.13 L314.43,934.17 L316.46,934.2 L318.48,934.24 L320.51,934.28 L322.54,934.31 L324.56,934.35 L326.59,934.38 L328.62,934.42 L330.64,934.46 L332.67,934.49 L334.69,934.53 L336.72,934.56 L338.75,934.6 L340.77,934.63 L342.8,934.67 L344.82,934.7 L346.85,934.74 L348.88,934.77 L350.9,934.81 L352.93,934.84 L354.95,934.88 L356.98,934.91 L359.01,934.94 L361.03,934.98 L363.06,935.01 L365.08,935.05 L367.11,935.08 L369.14,935.12 L371.16,935.15 L373.19,935.18 L375.21,935.22 L377.24,935.25 L379.27,935.28 L381.29,935.32 L383.32,935.35 L385.34,935.38 L387.37,935.42 L389.4,935.45 L391.42,935.48 L393.45,935.52 L395.48,935.55 L397.5,935.58 L399.53,935.61 L401.55,935.65 L403.58,935.68 L405.61,935.71 L407.63,935.74 L409.66,935.78 L411.68,935.81 L413.71,935.84 L415.74,935.87 L417.76,935.9 L419.79,935.94 L421.81,935.97 L423.84,936 L425.87,936.03 L427.89,936.06 L429.92,936.09 L431.94,936.12 L433.97,936.16 L436,936.19 L438.02,936.22 L440.05,936.25 L442.07,936.28 L444.1,936.31 L446.13,936.34 L448.15,936.37 L450.18,936.4 L452.2,936.43 L454.23,936.46 L456.26,936.49 L458.28,936.52 L460.31,936.55 L462.34,936.59 L464.36,936.62 L466.39,936.65 L468.41,936.67 L470.44,936.7 L472.47,936.73 L474.49,936.76 L476.52,936.79 L478.54,936.82 L480.57,936.85 L482.6,936.88 L484.62,936.91 L486.65,936.94 L488.67,936.97 L490.7,937 L492.73,937.03 L494.75,937.06 L496.78,937.08 L498.8,937.11 L500.83,937.14 L502.86,937.17 L504.88,937.2 L506.91,937.23 L508.93,937.26 L510.96,937.28 L512.99,937.31 L515.01,937.34 L517.04,937.37 L519.06,937.4 L521.09,937.42 L523.12,937.45 L525.14,937.48 L527.17,937.51 L529.2,937.54 L531.22,937.56 L533.25,937.59 L535.27,937.62 L537.3,937.64 L539.33,937.67 L541.35,937.7 L543.38,937.73 L545.4,937.75 L547.43,937.78 L549.46,937.81 L551.48,937.83 L553.51,937.86 L555.53,937.89 L557.56,937.91 L559.59,937.94 L561.61,937.97 L563.64,937.99 L565.66,938.02 L567.69,938.05 L569.72,938.07 L571.74,938.1 L573.77,938.12 L575.79,938.15 L577.82,938.17 L579.85,938.2 L581.87,938.23 L583.9,938.25 L585.92,938.28 L587.95,938.3 L589.98,938.33 L592,938.35 L594.03,938.38 L596.06,938.4 L598.08,938.43 L600.11,938.45 L602.13,938.48 L604.16,938.5 L606.19,938.53 L608.21,938.55 L610.24,938.58 L612.26,938.6 L614.29,938.63 L616.32,938.65 L618.34,938.68 L620.37,938.7 L622.39,938.73 L624.42,938.75 L626.45,938.77 L628.47,938.8 L630.5,938.82 L632.52,938.85 L634.55,938.87 L636.58,938.89 L638.6,938.92 L640.63,938.94 L642.65,938.97 L644.68,938.99 L646.71,939.01 L648.73,939.04 L650.76,939.06 L652.78,939.08 L654.81,939.11 L656.84,939.13 L658.86,939.15 L660.89,939.17 L662.92,939.2 L664.94,939.22 L666.97,939.24 L668.99,939.27 L671.02,939.29 L673.05,939.31 L675.07,939.33 L677.1,939.36 L679.12,939.38 L681.15,939.4 L683.18,939.42 L685.2,939.45 L687.23,939.47 L689.25,939.49 L691.28,939.51 L693.31,939.54 L695.33,939.56 L697.36,939.58 L699.38,939.6 L701.41,939.62 L703.44,939.64 L705.46,939.67 L707.49,939.69 L709.51,939.71 L711.54,939.73 L713.57,939.75 L715.59,939.77 L717.62,939.79 L719.64,939.82 L721.67,939.84 L723.7,939.86 L725.72,939.88 L727.75,939.9 L729.78,939.92 L731.8,939.94 L733.83,939.96 L735.85,939.98 L737.88,940 L739.91,940.03 L741.93,940.05 L743.96,940.07 L745.98,940.09 L748.01,940.11 L750.04,940.13 L752.06,940.15 L754.09,940.17 L756.11,940.19 L758.14,940.21 L760.17,940.23 L762.19,940.25" fill="none" stroke="#008000" stroke-width="4.4" stroke-dasharray="14.8 6.4" stroke-linejoin="round" />
<path d="M156.4,805.16 L158.43,805.86 L160.45,806.56 L162.48,807.25 L164.5,807.95 L166.53,808.65 L168.56,809.34 L170.58,810.04 L172.61,810.73 L174.63,811.42 L176.66,812.12 L178.69,812.81 L180.71,813.5 L182.74,814.19 L184.76,814.89 L186.79,815.58 L188.82,816.27 L190.84,816.95 L192.87,817.64 L194.9,818.33 L196.92,819.02 L198.95,819.71 L200.97,820.39 L203,821.08 L205.03,821.76 L207.05,822.45 L209.08,823.13 L211.1,823.81 L213.13,824.49 L215.16,825.17 L217.18,825.86 L219.21,826.54 L221.23,827.21 L223.26,827.89 L225.29,828.57 L227.31,829.25 L229.34,829.92 L231.36,830.6 L233.39,831.27 L235.42,831.95 L237.44,832.62 L239.47,833.29 L241.49,833.96 L243.52,834.63 L245.55,835.3 L247.57,835.97 L249.6,836.64 L251.62,837.31 L253.65,837.97 L255.68,838.64 L257.7,839.3 L259.73,839.96 L261.76,840.63 L263.78,841.29 L265.81,841.95 L267.83,842.61 L269.86,843.26 L271.89,843.92 L273.91,844.58 L275.94,845.23 L277.96,845.88 L279.99,846.54 L282.02,847.19 L284.04,847.84 L286.07,848.49 L288.09,849.14 L290.12,849.78 L292.15,850.43 L294.17,851.07 L296.2,851.72 L298.22,852.36 L300.25,853 L302.28,853.64 L304.3,854.28 L306.33,854.91 L308.35,855.55 L310.38,856.18 L312.41,856.82 L314.43,857.45 L316.46,858.08 L318.48,858.71 L320.51,859.33 L322.54,859.96 L324.56,860.59 L326.59,861.21 L328.62,861.83 L330.64,862.45 L332.67,863.07 L334.69,863.69 L336.72,864.3 L338.75,864.92 L340.77,865.53 L342.8,866.14 L344.82,866.75 L346.85,867.35 L348.88,867.96 L350.9,868.56 L352.93,869.17 L354.95,869.77 L356.98,870.37 L359.01,870.96 L361.03,871.56 L363.06,872.15 L365.08,872.74 L367.11,873.33 L369.14,873.92 L371.16,874.51 L373.19,875.09 L375.21,875.68 L377.24,876.26 L379.27,876.84 L381.29,877.41 L383.32,877.99 L385.34,878.56 L387.37,879.13 L389.4,879.7 L391.42,880.27 L393.45,880.83 L395.48,881.39 L397.5,881.95 L399.53,882.51 L401.55,883.07 L403.58,883.62 L405.61,884.17 L407.63,884.72 L409.66,885.27 L411.68,885.82 L413.71,886.36 L415.74,886.9 L417.76,887.44 L419.79,887.97 L421.81,888.51 L423.84,889.04 L425.87,889.57 L427.89,890.09 L429.92,890.62 L431.94,891.14 L433.97,891.66 L436,892.18 L438.02,892.69 L440.05,893.2 L442.07,893.71 L444.1,894.22 L446.13,894.72 L448.15,895.22 L450.18,895.72 L452.2,896.22 L454.23,896.71 L456.26,897.21 L458.28,897.69 L460.31,898.18 L462.34,898.66 L464.36,899.14 L466.39,899.62 L468.41,900.1 L470.44,900.57 L472.47,901.04 L474.49,901.51 L476.52,901.97 L478.54,902.43 L480.57,902.89 L482.6,903.35 L484.62,903.8 L486.65,904.25 L488.67,904.7 L490.7,905.14 L492.73,905.59 L494.75,906.03 L496.78,906.46 L498.8,906.89 L500.83,907.33 L502.86,907.75 L504.88,908.18 L506.91,908.6 L508.93,909.02 L510.96,909.43 L512.99,909.85 L515.01,910.26 L517.04,910.66 L519.06,911.07 L521.09,911.47 L523.12,911.87 L525.14,912.26 L527.17,912.65 L529.2,913.04 L531.22,913.43 L533.25,913.81 L535.27,914.19 L537.3,914.57 L539.33,914.95 L541.35,915.32 L543.38,915.68 L545.4,916.05 L547.43,916.41 L549.46,916.77 L551.48,917.13 L553.51,917.48 L555.53,917.83 L557.56,918.18 L559.59,918.52 L561.61,918.87 L563.64,919.2 L565.66,919.54 L567.69,919.87 L569.72,920.2 L571.74,920.53 L573.77,920.85 L575.79,921.17 L577.82,921.49 L579.85,921.8 L581.87,922.12 L583.9,922.43 L585.92,922.73 L587.95,923.03 L589.98,923.33 L592,923.63 L594.03,923.93 L596.06,924.22 L598.08,924.51 L600.11,924.79 L602.13,925.08 L604.16,925.36 L606.19,925.63 L608.21,925.91 L610.24,926.18 L612.26,926.45 L614.29,926.71 L616.32,926.98 L618.34,927.24 L620.37,927.5 L622.39,927.75 L624.42,928 L626.45,928.25 L628.47,928.5 L630.5,928.74 L632.52,928.99 L634.55,929.22 L636.58,929.46 L638.6,929.69 L640.63,929.93 L642.65,930.15 L644.68,930.38 L646.71,930.6 L648.73,930.82 L650.76,931.04 L652.78,931.26 L654.81,931.47 L656.84,931.68 L658.86,931.89 L660.89,932.1 L662.92,932.3 L664.94,932.5 L666.97,932.7 L668.99,932.9 L671.02,933.09 L673.05,933.28 L675.07,933.47 L677.1,933.66 L679.12,933.84 L681.15,934.03 L683.18,934.21 L685.2,934.38 L687.23,934.56 L689.25,934.73 L691.28,934.91 L693.31,935.08 L695.33,935.24 L697.36,935.41 L699.38,935.57 L701.41,935.73 L703.44,935.89 L705.46,936.05 L707.49,936.2 L709.51,936.36 L711.54,936.51 L713.57,936.66 L715.59,936.8 L717.62,936.95 L719.64,937.09 L721.67,937.23 L723.7,937.37 L725.72,937.51 L727.75,937.64 L729.78,937.78 L731.8,937.91 L733.83,938.04 L735.85,938.17 L737.88,938.3 L739.91,938.42 L741.93,938.55 L743.96,938.67 L745.98,938.79 L748.01,938.91 L750.04,939.02 L752.06,939.14 L754.09,939.25 L756.11,939.36 L758.14,939.47 L760.17,939.58 L762.19,939.69" fill="none" stroke="#bf00bf" stroke-width="4.4" stroke-dasharray="14.8 6.4" stroke-linejoin="round" />
<path d="M156.4,802.98 L158.43,803.69 L160.45,804.39 L162.48,805.09 L164.5,805.79 L166.53,806.48 L168.56,807.17 L170.58,807.86 L172.61,808.54 L174.63,809.23 L176.66,809.91 L178.69,810.59 L180.71,811.26 L182.74,811.94 L184.76,812.61 L186.79,813.28 L188.82,813.95 L190.84,814.62 L192.87,815.29 L194.9,815.95 L196.92,816.62 L198.95,817.28 L200.97,817.94 L203,818.6 L205.03,819.26 L207.05,819.91 L209.08,820.57 L211.1,821.22 L213.13,821.88 L215.16,822.53 L217.18,823.18 L219.21,823.83 L221.23,824.47 L223.26,825.12 L225.29,825.76 L227.31,826.41 L229.34,827.05 L231.36,827.69 L233.39,828.33 L235.42,828.97 L237.44,829.6 L239.47,830.24 L241.49,830.87 L243.52,831.51 L245.55,832.14 L247.57,832.77 L249.6,833.4 L251.62,834.02 L253.65,834.65 L255.68,835.27 L257.7,835.9 L259.73,836.52 L261.76,837.14 L263.78,837.76 L265.81,838.38 L267.83,838.99 L269.86,839.61 L271.89,840.22 L273.91,840.83 L275.94,841.44 L277.96,842.05 L279.99,842.66 L282.02,843.26 L284.04,843.87 L286.07,844.47 L288.09,845.07 L290.12,845.67 L292.15,846.26 L294.17,846.86 L296.2,847.45 L298.22,848.05 L300.25,848.64 L302.28,849.23 L304.3,849.81 L306.33,850.4 L308.35,850.98 L310.38,851.56 L312.41,852.14 L314.43,852.72 L316.46,853.3 L318.48,853.87 L320.51,854.45 L322.54,855.02 L324.56,855.59 L326.59,856.15 L328.62,856.72 L330.64,857.28 L332.67,857.84 L334.69,858.4 L336.72,858.96 L338.75,859.52 L340.77,860.07 L342.8,860.62 L344.82,861.17 L346.85,861.72 L348.88,862.26 L350.9,862.81 L352.93,863.35 L354.95,863.89 L356.98,864.42 L359.01,864.96 L361.03,865.49 L363.06,866.02 L365.08,866.55 L367.11,867.08 L369.14,867.6 L371.16,868.12 L373.19,868.64 L375.21,869.16 L377.24,869.67 L379.27,870.18 L381.29,870.7 L383.32,871.2 L385.34,871.71 L387.37,872.21 L389.4,872.71 L391.42,873.21 L393.45,873.71 L395.48,874.2 L397.5,874.69 L399.53,875.18 L401.55,875.67 L403.58,876.15 L405.61,876.63 L407.63,877.11 L409.66,877.59 L411.68,878.06 L413.71,878.53 L415.74,879 L417.76,879.47 L419.79,879.93 L421.81,880.4 L423.84,880.85 L425.87,881.31 L427.89,881.77 L429.92,882.22 L431.94,882.67 L433.97,883.11 L436,883.55 L438.02,884 L440.05,884.43 L442.07,884.87 L444.1,885.3 L446.13,885.73 L448.15,886.16 L450.18,886.59 L452.2,887.01 L454.23,887.43 L456.26,887.85 L458.28,888.26 L460.31,888.67 L462.34,889.08 L464.36,889.49 L466.39,889.89 L468.41,890.29 L470.44,890.69 L472.47,891.09 L474.49,891.48 L476.52,891.87 L478.54,892.26 L480.57,892.64 L482.6,893.03 L484.62,893.41 L486.65,893.78 L488.67,894.16 L490.7,894.53 L492.73,894.9 L494.75,895.26 L496.78,895.63 L498.8,895.99 L500.83,896.35 L502.86,896.7 L504.88,897.05 L506.91,897.4 L508.93,897.75 L510.96,898.1 L512.99,898.44 L515.01,898.78 L517.04,899.12 L519.06,899.45 L521.09,899.78 L523.12,900.11 L525.14,900.44 L527.17,900.76 L529.2,901.08 L531.22,901.4 L533.25,901.71 L535.27,902.03 L537.3,902.34 L539.33,902.65 L541.35,902.95 L543.38,903.25 L545.4,903.55 L547.43,903.85 L549.46,904.15 L551.48,904.44 L553.51,904.73 L555.53,905.02 L557.56,905.3 L559.59,905.58 L561.61,905.86 L563.64,906.14 L565.66,906.42 L567.69,906.69 L569.72,906.96 L571.74,907.23 L573.77,907.49 L575.79,907.76 L577.82,908.02 L579.85,908.28 L581.87,908.53 L583.9,908.78 L585.92,909.04 L587.95,909.28 L589.98,909.53 L592,909.77 L594.03,910.02 L596.06,910.26 L598.08,910.49 L600.11,910.73 L602.13,910.96 L604.16,911.19 L606.19,911.42 L608.21,911.65 L610.24,911.87 L612.26,912.09 L614.29,912.31 L616.32,912.53 L618.34,912.75 L620.37,912.96 L622.39,913.17 L624.42,913.38 L626.45,913.59 L628.47,913.79 L630.5,914 L632.52,914.2 L634.55,914.4 L636.58,914.59 L638.6,914.79 L640.63,914.98 L642.65,915.17 L644.68,915.36 L646.71,915.55 L648.73,915.74 L650.76,915.92 L652.78,916.1 L654.81,916.28 L656.84,916.46 L658.86,916.64 L660.89,916.81 L662.92,916.98 L664.94,917.15 L666.97,917.32 L668.99,917.49 L671.02,917.66 L673.05,917.82 L675.07,917.98 L677.1,918.14 L679.12,918.3 L681.15,918.46 L683.18,918.62 L685.2,918.77 L687.23,918.92 L689.25,919.08 L691.28,919.23 L693.31,919.37 L695.33,919.52 L697.36,919.67 L699.38,919.81 L701.41,919.95 L703.44,920.09 L705.46,920.23 L707.49,920.37 L709.51,920.51 L711.54,920.64 L713.57,920.77 L715.59,920.91 L717.62,921.04 L719.64,921.17 L721.67,921.29 L723.7,921.42 L725.72,921.55 L727.75,921.67 L729.78,921.79 L731.8,921.92 L733.83,922.04 L735.85,922.16 L737.88,922.27 L739.91,922.39 L741.93,922.51 L743.96,922.62 L745.98,922.73 L748.01,922.85 L750.04,922.96 L752.06,923.07 L754.09,923.18 L756.11,923.28 L758.14,923.39 L760.17,923.5 L762.19,923.6" fill="none" stroke="#ff0000" stroke-width="4.4" stroke-dasharray="14.8 6.4" stroke-linejoin="round" />
<rect x="126.6" y="600.7" width="666" height="509.15" fill="none" stroke="#000" stroke-width="1.1"/>
<path d="M126.6,1109.85h-4M792.6,1109.85h4M126.6,1008.02h-4M792.6,1008.02h4M126.6,906.19h-4M792.6,906.19h4M126.6,804.36h-4M792.6,804.36h4M126.6,702.53h-4M792.6,702.53h4M126.6,600.7h-4M792.6,600.7h4" stroke="#000" stroke-width="0.95" fill="none"/>
<path d="M126.6,1079.2h-2.3M792.6,1079.2h2.3M126.6,1061.26h-2.3M792.6,1061.26h2.3M126.6,1048.54h-2.3M792.6,1048.54h2.3M126.6,1038.67h-2.3M792.6,1038.67h2.3M126.6,1030.61h-2.3M792.6,1030.61h2.3M126.6,1023.79h-2.3M792.6,1023.79h2.3M126.6,1017.89h-2.3M792.6,1017.89h2.3M126.6,1012.68h-2.3M792.6,1012.68h2.3M126.6,977.37h-2.3M792.6,977.37h2.3M126.6,959.43h-2.3M792.6,959.43h2.3M126.6,946.71h-2.3M792.6,946.71h2.3M126.6,936.84h-2.3M792.6,936.84h2.3M126.6,928.78h-2.3M792.6,928.78h2.3M126.6,921.96h-2.3M792.6,921.96h2.3M126.6,916.06h-2.3M792.6,916.06h2.3M126.6,910.85h-2.3M792.6,910.85h2.3M126.6,875.54h-2.3M792.6,875.54h2.3M126.6,857.6h-2.3M792.6,857.6h2.3M126.6,844.88h-2.3M792.6,844.88h2.3M126.6,835.01h-2.3M792.6,835.01h2.3M126.6,826.95h-2.3M792.6,826.95h2.3M126.6,820.13h-2.3M792.6,820.13h2.3M126.6,814.23h-2.3M792.6,814.23h2.3M126.6,809.02h-2.3M792.6,809.02h2.3M126.6,773.71h-2.3M792.6,773.71h2.3M126.6,755.77h-2.3M792.6,755.77h2.3M126.6,743.05h-2.3M792.6,743.05h2.3M126.6,733.18h-2.3M792.6,733.18h2.3M126.6,725.12h-2.3M792.6,725.12h2.3M126.6,718.3h-2.3M792.6,718.3h2.3M126.6,712.4h-2.3M792.6,712.4h2.3M126.6,707.19h-2.3M792.6,707.19h2.3M126.6,671.88h-2.3M792.6,671.88h2.3M126.6,653.94h-2.3M792.6,653.94h2.3M126.6,641.22h-2.3M792.6,641.22h2.3M126.6,631.35h-2.3M792.6,631.35h2.3M126.6,623.29h-2.3M792.6,623.29h2.3M126.6,616.47h-2.3M792.6,616.47h2.3M126.6,610.57h-2.3M792.6,610.57h2.3M126.6,605.36h-2.3M792.6,605.36h2.3" stroke="#000" stroke-width="0.85" fill="none"/>
<path d="M156.4,1109.85v4M294.08,1109.85v4M431.76,1109.85v4M569.44,1109.85v4M707.12,1109.85v4" stroke="#000" stroke-width="0.95" fill="none"/>
<text x="156.6" y="1139.35" text-anchor="middle" font-size="28.5">0</text>
<text x="294.28" y="1139.35" text-anchor="middle" font-size="28.5">200</text>
<text x="431.96" y="1139.35" text-anchor="middle" font-size="28.5">400</text>
<text x="569.64" y="1139.35" text-anchor="middle" font-size="28.5">600</text>
<text x="707.32" y="1139.35" text-anchor="middle" font-size="28.5">800</text>
<text x="117.1" y="1119.55" text-anchor="end" font-size="27.7">10<tspan dx="0.5" dy="-10.4" font-size="19.8">0</tspan></text>
<text x="800" y="1119.55" text-anchor="start" font-size="27.7">10<tspan dx="0.5" dy="-10.4" font-size="19.8">0</tspan></text>
<text x="117.1" y="1017.72" text-anchor="end" font-size="27.7">10<tspan dx="0.5" dy="-10.4" font-size="19.8">1</tspan></text>
<text x="800" y="1017.72" text-anchor="start" font-size="27.7">10<tspan dx="0.5" dy="-10.4" font-size="19.8">1</tspan></text>
<text x="117.1" y="915.89" text-anchor="end" font-size="27.7">10<tspan dx="0.5" dy="-10.4" font-size="19.8">2</tspan></text>
<text x="800" y="915.89" text-anchor="start" font-size="27.7">10<tspan dx="0.5" dy="-10.4" font-size="19.8">2</tspan></text>
<text x="117.1" y="814.06" text-anchor="end" font-size="27.7">10<tspan dx="0.5" dy="-10.4" font-size="19.8">3</tspan></text>
<text x="800" y="814.06" text-anchor="start" font-size="27.7">10<tspan dx="0.5" dy="-10.4" font-size="19.8">3</tspan></text>
<text x="117.1" y="712.23" text-anchor="end" font-size="27.7">10<tspan dx="0.5" dy="-10.4" font-size="19.8">4</tspan></text>
<text x="800" y="712.23" text-anchor="start" font-size="27.7">10<tspan dx="0.5" dy="-10.4" font-size="19.8">4</tspan></text>
<text x="117.1" y="610.4" text-anchor="end" font-size="27.7">10<tspan dx="0.5" dy="-10.4" font-size="19.8">5</tspan></text>
<text x="800" y="610.4" text-anchor="start" font-size="27.7">10<tspan dx="0.5" dy="-10.4" font-size="19.8">5</tspan></text>
<text x="154" y="633.3" class="t" font-size="32.4" xml:space="preserve">Water (210 mm)</text>
<text x="165.3" y="669.7" class="t" font-size="32.4" xml:space="preserve">(c)</text>
<rect x="430.4" y="610.6" width="352.1" height="183.7" rx="4" ry="4" fill="#fff" fill-opacity="0.8" stroke="#d6d6d6" stroke-width="1"/>
<rect x="439.1" y="620.1" width="40.2" height="14.4" fill="#a6afd7"/>
<text class="g" x="495.7" y="634.7" font-size="20.2">PET Data</text>
<path d="M439.1,657.25h40" stroke="#0000ff" stroke-width="4.4" stroke-linecap="square" fill="none"/>
<text class="g" x="495.7" y="664.35" font-size="20.2">C10</text>
<path d="M628.2,657.25h40" stroke="#0000ff" stroke-width="4.4" stroke-dasharray="14.8 6.4" fill="none"/>
<text class="g" x="684.8" y="664.35" font-size="20.2">C10 Sim</text>
<path d="M439.1,686.9h40" stroke="#000080" stroke-width="4.4" stroke-linecap="square" fill="none"/>
<text class="g" x="495.7" y="694" font-size="20.2">C11</text>
<path d="M628.2,686.9h40" stroke="#000080" stroke-width="4.4" stroke-dasharray="14.8 6.4" fill="none"/>
<text class="g" x="684.8" y="694" font-size="20.2">C11 Sim</text>
<path d="M439.1,716.55h40" stroke="#008000" stroke-width="4.4" stroke-linecap="square" fill="none"/>
<text class="g" x="495.7" y="723.65" font-size="20.2">N13</text>
<path d="M628.2,716.55h40" stroke="#008000" stroke-width="4.4" stroke-dasharray="14.8 6.4" fill="none"/>
<text class="g" x="684.8" y="723.65" font-size="20.2">N13 Sim</text>
<path d="M439.1,746.2h40" stroke="#bf00bf" stroke-width="4.4" stroke-linecap="square" fill="none"/>
<text class="g" x="495.7" y="753.3" font-size="20.2">O15</text>
<path d="M628.2,746.2h40" stroke="#bf00bf" stroke-width="4.4" stroke-dasharray="14.8 6.4" fill="none"/>
<text class="g" x="684.8" y="753.3" font-size="20.2">O15 Sim</text>
<path d="M439.1,775.85h40" stroke="#ff0000" stroke-width="4.4" stroke-linecap="square" fill="none"/>
<text class="g" x="495.7" y="782.95" font-size="20.2">Sum</text>
<path d="M628.2,775.85h40" stroke="#ff0000" stroke-width="4.4" stroke-dasharray="14.8 6.4" fill="none"/>
<text class="g" x="684.8" y="782.95" font-size="20.2">Sum Sim</text>
<path d="M939.8,1109.85V932H956.94V926.1H974.07V938.6H991.21V938.6H1008.34V948.9H1025.48V926.1H1042.61V938.6H1059.75V926.1H1076.88V947.9H1094.02V947.9H1111.15V944.2H1128.29V946.9H1145.42V938.6H1162.56V948.9H1179.69V934.2H1196.83V948.9H1213.96V942.6H1231.1V938.6H1248.23V938.6H1265.37V943.3H1282.5V938.6H1299.64V938.6H1316.77V938.6H1333.91V944H1351.04V955H1368.18V944.6H1385.31V943.4H1402.45V931.2H1419.58V938.6H1436.72V952.7H1453.85V961.1H1470.99V944.6H1488.12V941H1505.26V934.3H1522.39V945.8H1539.53V948.1H1556.66V933.5H1573.8V1109.85Z" fill="#a6afd7"/>
<path d="M956.94,932.5V1109.85M991.21,939.1V1109.85M1042.61,939.1V1109.85M1059.75,939.1V1109.85M1094.02,948.4V1109.85M1111.15,948.4V1109.85M1145.42,947.4V1109.85M1179.69,949.4V1109.85M1213.96,949.4V1109.85M1316.77,939.1V1109.85M1368.18,955.5V1109.85M1385.31,945.1V1109.85M1419.58,939.1V1109.85M1505.26,941.5V1109.85M1539.53,948.6V1109.85" stroke="#fff" stroke-opacity="0.16" stroke-width="1" fill="none"/>
<path d="M939.8,938.47 L1574.62,938.47" fill="none" stroke="#ff0000" stroke-width="4.4" stroke-linecap="square" stroke-linejoin="round" />
<path d="M939.91,881.07 L945.73,909.04 L952.73,910.21 L959.72,899.72 L968.46,923.03 L981.28,902.05 L985.94,902.05 L994.69,919.53 L1004.59,902.05 L1011.59,923.03 L1018,898.55 L1024.41,931.77 L1031.4,902.05 L1037.81,920.12 L1050.05,924.78 L1061.7,911.96 L1068.69,914.29 L1075.69,932.94 L1082.1,940.51 L1088.51,927.11 L1099,934.1 L1107.16,930.61 L1111.82,927.11 L1118.81,927.69 L1124.64,949.25 L1131.66,927.11 L1138.65,917.2 L1145.06,925.94 L1153.22,917.2 L1158.46,923.61 L1166.62,921.28 L1172.45,929.44 L1180.61,940.51 L1187.6,927.11 L1199.25,934.1 L1208.58,934.1 L1219.07,926.53 L1224.9,929.44 L1231.89,941.68 L1243.54,941.1 L1252.87,921.28 L1259.86,931.77 L1265.69,933.52 L1273.85,932.94 L1278.51,930.02 L1288.41,921.28 L1295.99,927.11 L1302.98,925.94 L1311.14,939.93 L1316.97,941.1 L1316.99,941.1 L1323.99,927.11 L1330.98,925.94 L1337.97,939.93 L1342.63,945.76 L1347.3,948.67 L1353.71,947.51 L1359.18,924.78 L1366.53,949.25 L1371.77,935.85 L1382.26,949.25 L1389.25,942.26 L1400.91,942.26 L1409.07,941.1 L1417.23,949.84 L1426.55,949.84 L1432.38,948.09 L1438.21,942.26 L1445.2,941.1 L1453.36,939.93 L1461.52,935.27 L1466.18,941.1 L1473.17,941.68 L1477.83,946.92 L1482.49,948.67 L1491.28,948.67 L1500.61,949.25 L1508.76,933.52 L1516.92,932.94 L1521.59,937.6 L1530.33,949.25 L1539.07,939.93 L1543.73,937.6 L1552.47,948.67 L1559.46,927.11 L1565.87,939.93 L1574.03,939.93" fill="none" stroke="#ff0000" stroke-width="4.4" stroke-dasharray="14.8 6.4" stroke-linejoin="round"/>
<rect x="925.7" y="600.7" width="666" height="509.15" fill="none" stroke="#000" stroke-width="1.1"/>
<path d="M925.7,1109.85h-4M1591.7,1109.85h4M925.7,1008.02h-4M1591.7,1008.02h4M925.7,906.19h-4M1591.7,906.19h4M925.7,804.36h-4M1591.7,804.36h4M925.7,702.53h-4M1591.7,702.53h4M925.7,600.7h-4M1591.7,600.7h4" stroke="#000" stroke-width="0.95" fill="none"/>
<path d="M925.7,1079.2h-2.3M1591.7,1079.2h2.3M925.7,1061.26h-2.3M1591.7,1061.26h2.3M925.7,1048.54h-2.3M1591.7,1048.54h2.3M925.7,1038.67h-2.3M1591.7,1038.67h2.3M925.7,1030.61h-2.3M1591.7,1030.61h2.3M925.7,1023.79h-2.3M1591.7,1023.79h2.3M925.7,1017.89h-2.3M1591.7,1017.89h2.3M925.7,1012.68h-2.3M1591.7,1012.68h2.3M925.7,977.37h-2.3M1591.7,977.37h2.3M925.7,959.43h-2.3M1591.7,959.43h2.3M925.7,946.71h-2.3M1591.7,946.71h2.3M925.7,936.84h-2.3M1591.7,936.84h2.3M925.7,928.78h-2.3M1591.7,928.78h2.3M925.7,921.96h-2.3M1591.7,921.96h2.3M925.7,916.06h-2.3M1591.7,916.06h2.3M925.7,910.85h-2.3M1591.7,910.85h2.3M925.7,875.54h-2.3M1591.7,875.54h2.3M925.7,857.6h-2.3M1591.7,857.6h2.3M925.7,844.88h-2.3M1591.7,844.88h2.3M925.7,835.01h-2.3M1591.7,835.01h2.3M925.7,826.95h-2.3M1591.7,826.95h2.3M925.7,820.13h-2.3M1591.7,820.13h2.3M925.7,814.23h-2.3M1591.7,814.23h2.3M925.7,809.02h-2.3M1591.7,809.02h2.3M925.7,773.71h-2.3M1591.7,773.71h2.3M925.7,755.77h-2.3M1591.7,755.77h2.3M925.7,743.05h-2.3M1591.7,743.05h2.3M925.7,733.18h-2.3M1591.7,733.18h2.3M925.7,725.12h-2.3M1591.7,725.12h2.3M925.7,718.3h-2.3M1591.7,718.3h2.3M925.7,712.4h-2.3M1591.7,712.4h2.3M925.7,707.19h-2.3M1591.7,707.19h2.3M925.7,671.88h-2.3M1591.7,671.88h2.3M925.7,653.94h-2.3M1591.7,653.94h2.3M925.7,641.22h-2.3M1591.7,641.22h2.3M925.7,631.35h-2.3M1591.7,631.35h2.3M925.7,623.29h-2.3M1591.7,623.29h2.3M925.7,616.47h-2.3M1591.7,616.47h2.3M925.7,610.57h-2.3M1591.7,610.57h2.3M925.7,605.36h-2.3M1591.7,605.36h2.3" stroke="#000" stroke-width="0.85" fill="none"/>
<path d="M939.8,1109.85v4M1081.5,1109.85v4M1223.2,1109.85v4M1364.9,1109.85v4M1506.6,1109.85v4" stroke="#000" stroke-width="0.95" fill="none"/>
<text x="940" y="1139.35" text-anchor="middle" font-size="28.5">0</text>
<text x="1081.7" y="1139.35" text-anchor="middle" font-size="28.5">50</text>
<text x="1223.4" y="1139.35" text-anchor="middle" font-size="28.5">100</text>
<text x="1365.1" y="1139.35" text-anchor="middle" font-size="28.5">150</text>
<text x="1506.8" y="1139.35" text-anchor="middle" font-size="28.5">200</text>
<text x="916.2" y="1119.55" text-anchor="end" font-size="27.7">10<tspan dx="0.5" dy="-10.4" font-size="19.8">0</tspan></text>
<text x="1599.1" y="1119.55" text-anchor="start" font-size="27.7">10<tspan dx="0.5" dy="-10.4" font-size="19.8">0</tspan></text>
<text x="916.2" y="1017.72" text-anchor="end" font-size="27.7">10<tspan dx="0.5" dy="-10.4" font-size="19.8">1</tspan></text>
<text x="1599.1" y="1017.72" text-anchor="start" font-size="27.7">10<tspan dx="0.5" dy="-10.4" font-size="19.8">1</tspan></text>
<text x="916.2" y="915.89" text-anchor="end" font-size="27.7">10<tspan dx="0.5" dy="-10.4" font-size="19.8">2</tspan></text>
<text x="1599.1" y="915.89" text-anchor="start" font-size="27.7">10<tspan dx="0.5" dy="-10.4" font-size="19.8">2</tspan></text>
<text x="916.2" y="814.06" text-anchor="end" font-size="27.7">10<tspan dx="0.5" dy="-10.4" font-size="19.8">3</tspan></text>
<text x="1599.1" y="814.06" text-anchor="start" font-size="27.7">10<tspan dx="0.5" dy="-10.4" font-size="19.8">3</tspan></text>
<text x="916.2" y="712.23" text-anchor="end" font-size="27.7">10<tspan dx="0.5" dy="-10.4" font-size="19.8">4</tspan></text>
<text x="1599.1" y="712.23" text-anchor="start" font-size="27.7">10<tspan dx="0.5" dy="-10.4" font-size="19.8">4</tspan></text>
<text x="916.2" y="610.4" text-anchor="end" font-size="27.7">10<tspan dx="0.5" dy="-10.4" font-size="19.8">5</tspan></text>
<text x="1599.1" y="610.4" text-anchor="start" font-size="27.7">10<tspan dx="0.5" dy="-10.4" font-size="19.8">5</tspan></text>
<text x="931.1" y="633.3" class="t" font-size="32.4" xml:space="preserve">Empty Target (Air)</text>
<text x="941.8" y="669.7" class="t" font-size="32.4" xml:space="preserve">(d)</text>
<rect x="1229.5" y="610.6" width="352.1" height="154.05" rx="4" ry="4" fill="#fff" fill-opacity="0.8" stroke="#d6d6d6" stroke-width="1"/>
<rect x="1238.2" y="620.1" width="40.2" height="14.4" fill="#a6afd7"/>
<text class="g" x="1294.8" y="634.7" font-size="20.2">PET Data</text>
<path d="M1238.2,657.25h40" stroke="#008000" stroke-width="4.4" stroke-linecap="square" fill="none"/>
<text class="g" x="1294.8" y="664.35" font-size="20.2">N13</text>
<path d="M1238.2,686.9h40" stroke="#dc143c" stroke-width="4.4" stroke-linecap="square" fill="none"/>
<text class="g" x="1294.8" y="694" font-size="20.2">O14</text>
<path d="M1238.2,716.55h40" stroke="#bf00bf" stroke-width="4.4" stroke-linecap="square" fill="none"/>
<text class="g" x="1294.8" y="723.65" font-size="20.2">O15</text>
<path d="M1238.2,746.2h40" stroke="#ff0000" stroke-width="4.4" stroke-linecap="square" fill="none"/>
<text class="g" x="1294.8" y="753.3" font-size="20.2">Sum</text>
<path d="M1427.3,746.2h40" stroke="#ff0000" stroke-width="4.4" stroke-dasharray="14.8 6.4" fill="none"/>
<text class="g" x="1483.9" y="753.3" font-size="20.2">Sum Sim</text>
<path d="M142.9,1695.25V1431.74H155.9V1442.56H168.9V1448.77H181.9V1447.97H194.91V1449.31H207.91V1451.17H220.91V1454.83H233.91V1451.57H246.91V1452.88H259.91V1454.05H272.91V1455.61H285.91V1459.12H298.92V1457.91H311.92V1460.48H324.92V1456.63H337.92V1461.54H350.92V1460.5H363.92V1464.75H376.92V1464.87H389.92V1464.53H402.93V1463.27H415.93V1464.13H428.93V1465.13H441.93V1469.11H454.93V1464.97H467.93V1468.67H480.93V1465.28H493.93V1465.39H506.94V1467.39H519.94V1467.59H532.94V1471.52H545.94V1466.1H558.94V1469.99H571.94V1469.18H584.94V1472.42H597.94V1471.52H610.95V1473.64H623.95V1472.47H636.95V1472.4H649.95V1472.34H662.95V1470.93H675.95V1472.6H688.95V1473.25H701.95V1473.85H714.96V1471.17H727.96V1475.35H740.96V1472.91H753.96V1478.11H766.96V1695.25Z" fill="#a6afd7"/>
<path d="M155.9,1443.06V1695.25M181.9,1449.27V1695.25M220.91,1455.33V1695.25M233.91,1455.33V1695.25M259.91,1454.55V1695.25M272.91,1456.11V1695.25M298.92,1459.62V1695.25M324.92,1460.98V1695.25M350.92,1462.04V1695.25M428.93,1465.63V1695.25M467.93,1469.17V1695.25M480.93,1469.17V1695.25M506.94,1467.89V1695.25M571.94,1470.49V1695.25M597.94,1472.92V1695.25M636.95,1472.97V1695.25M649.95,1472.9V1695.25M662.95,1472.84V1695.25M688.95,1473.75V1695.25M714.96,1474.35V1695.25M740.96,1475.85V1695.25M753.96,1478.61V1695.25" stroke="#fff" stroke-opacity="0.16" stroke-width="1" fill="none"/>
<path d="M142.9,1428.6 L155.9,1485.47 L168.9,1497.19 L181.9,1498.4 L194.91,1498.51 L207.91,1498.52 L220.91,1498.52 L233.91,1498.52 L246.91,1498.52 L259.91,1498.52 L272.91,1498.52 L285.91,1498.52 L298.92,1498.52 L311.92,1498.52 L324.92,1498.52 L337.92,1498.52 L350.92,1498.52 L363.92,1498.52 L376.92,1498.52 L389.92,1498.52 L402.93,1498.52 L415.93,1498.52 L428.93,1498.52 L441.93,1498.52 L454.93,1498.52 L467.93,1498.52 L480.93,1498.52 L493.93,1498.52 L506.94,1498.52 L519.94,1498.52 L532.94,1498.52 L545.94,1498.52 L558.94,1498.52 L571.94,1498.52 L584.94,1498.52 L597.94,1498.52 L610.95,1498.52 L623.95,1498.52 L636.95,1498.52 L649.95,1498.52 L662.95,1498.52 L675.95,1498.52 L688.95,1498.52 L701.95,1498.52 L714.96,1498.52 L727.96,1498.52 L740.96,1498.52 L753.96,1498.52 L766.96,1498.52" fill="none" stroke="#008b8b" stroke-width="4.4" stroke-linecap="square" stroke-linejoin="round" />
<path d="M142.9,1468.65 L155.9,1468.91 L168.9,1469.18 L181.9,1469.44 L194.91,1469.7 L207.91,1469.96 L220.91,1470.22 L233.91,1470.47 L246.91,1470.73 L259.91,1470.98 L272.91,1471.23 L285.91,1471.48 L298.92,1471.73 L311.92,1471.97 L324.92,1472.22 L337.92,1472.46 L350.92,1472.7 L363.92,1472.94 L376.92,1473.18 L389.92,1473.42 L402.93,1473.65 L415.93,1473.88 L428.93,1474.11 L441.93,1474.34 L454.93,1474.57 L467.93,1474.8 L480.93,1475.02 L493.93,1475.25 L506.94,1475.47 L519.94,1475.69 L532.94,1475.91 L545.94,1476.12 L558.94,1476.34 L571.94,1476.55 L584.94,1476.76 L597.94,1476.97 L610.95,1477.18 L623.95,1477.39 L636.95,1477.6 L649.95,1477.8 L662.95,1478 L675.95,1478.2 L688.95,1478.4 L701.95,1478.6 L714.96,1478.8 L727.96,1478.99 L740.96,1479.18 L753.96,1479.38 L766.96,1479.57" fill="none" stroke="#4169e1" stroke-width="4.4" stroke-linecap="square" stroke-linejoin="round" />
<path d="M142.9,1459.41 L155.9,1461.63 L168.9,1463.76 L181.9,1465.81 L194.91,1467.77 L207.91,1469.65 L220.91,1471.45 L233.91,1473.17 L246.91,1474.8 L259.91,1476.35 L272.91,1477.83 L285.91,1479.22 L298.92,1480.54 L311.92,1481.79 L324.92,1482.96 L337.92,1484.07 L350.92,1485.1 L363.92,1486.08 L376.92,1486.99 L389.92,1487.84 L402.93,1488.63 L415.93,1489.38 L428.93,1490.07 L441.93,1490.71 L454.93,1491.31 L467.93,1491.87 L480.93,1492.38 L493.93,1492.86 L506.94,1493.31 L519.94,1493.72 L532.94,1494.1 L545.94,1494.45 L558.94,1494.77 L571.94,1495.07 L584.94,1495.35 L597.94,1495.6 L610.95,1495.84 L623.95,1496.06 L636.95,1496.26 L649.95,1496.44 L662.95,1496.61 L675.95,1496.76 L688.95,1496.91 L701.95,1497.04 L714.96,1497.16 L727.96,1497.27 L740.96,1497.37 L753.96,1497.47 L766.96,1497.55" fill="none" stroke="#ffa500" stroke-width="4.4" stroke-linecap="square" stroke-linejoin="round" />
<path d="M142.9,1409.7 L155.9,1439.45 L168.9,1444.81 L181.9,1446.69 L194.91,1448.17 L207.91,1449.56 L220.91,1450.88 L233.91,1452.14 L246.91,1453.35 L259.91,1454.49 L272.91,1455.59 L285.91,1456.63 L298.92,1457.62 L311.92,1458.56 L324.92,1459.46 L337.92,1460.32 L350.92,1461.13 L363.92,1461.91 L376.92,1462.65 L389.92,1463.35 L402.93,1464.02 L415.93,1464.67 L428.93,1465.28 L441.93,1465.86 L454.93,1466.42 L467.93,1466.95 L480.93,1467.46 L493.93,1467.95 L506.94,1468.42 L519.94,1468.87 L532.94,1469.31 L545.94,1469.73 L558.94,1470.13 L571.94,1470.51 L584.94,1470.89 L597.94,1471.25 L610.95,1471.6 L623.95,1471.93 L636.95,1472.26 L649.95,1472.58 L662.95,1472.89 L675.95,1473.19 L688.95,1473.48 L701.95,1473.77 L714.96,1474.04 L727.96,1474.31 L740.96,1474.58 L753.96,1474.84 L766.96,1475.09" fill="none" stroke="#ff0000" stroke-width="4.4" stroke-linecap="square" stroke-linejoin="round" />
<path d="M142.84,1318.82 L149.78,1418.88 L155.72,1439.69 L163.65,1460.49 L168.6,1450.58 L175.53,1444.64 L183.46,1448.6 L193.37,1452.57 L201.29,1447.61 L206.25,1441.67 L212.19,1447.61 L219.12,1450.58 L228.04,1442.66 L233.98,1459.5 L240.92,1450.58 L247.85,1451.58 L254.79,1456.53 L264.7,1456.53 L272.62,1458.51 L280.55,1456.53 L288.47,1469.41 L296,1454.55 L304.32,1463.46 L311.26,1456.53 L318.19,1449.59 L324.14,1455.54 L332.06,1461.48 L338.01,1456.53 L343.95,1459.5 L353.86,1461.48 L365.75,1459.5 L375.65,1461.48 L383.58,1460.49 L389.52,1465.44 L399.43,1462.47 L409.34,1467.43 L419.24,1461.48 L431.13,1452.57 L436.09,1460.49 L443.02,1464.45 L450.95,1459.5 L458.87,1469.41 L456,1467.18 L464.92,1475.11 L471.85,1464.21 L480.77,1463.22 L486.71,1473.12 L493.65,1465.2 L500.58,1463.22 L509.5,1466.19 L521.39,1467.18 L530.3,1461.24 L537.24,1467.18 L549.12,1470.15 L555.07,1465.2 L562.99,1466.19 L570.92,1460.25 L578.85,1468.17 L585.78,1463.22 L591.72,1478.08 L598.66,1456.28 L603.61,1467.18 L614.51,1476.1 L621.44,1480.06 L626.4,1470.15 L641.26,1468.17 L647.2,1477.09 L654.14,1476.1 L662.06,1467.18 L671.97,1471.14 L682.87,1464.21 L689.8,1467.18 L696.74,1466.19 L703.67,1472.13 L713.58,1471.14 L725.47,1470.15 L732.4,1463.22 L739.34,1473.12 L745.28,1478.08 L752.22,1471.14 L760.14,1480.06 L768.07,1476.1" fill="none" stroke="#ff0000" stroke-width="4.4" stroke-dasharray="14.8 6.4" stroke-linejoin="round"/>
<rect x="126.6" y="1186.1" width="666" height="509.15" fill="none" stroke="#000" stroke-width="1.1"/>
<path d="M126.6,1695.25h-4M792.6,1695.25h4M126.6,1593.42h-4M792.6,1593.42h4M126.6,1491.59h-4M792.6,1491.59h4M126.6,1389.76h-4M792.6,1389.76h4M126.6,1287.93h-4M792.6,1287.93h4M126.6,1186.1h-4M792.6,1186.1h4" stroke="#000" stroke-width="0.95" fill="none"/>
<path d="M126.6,1664.6h-2.3M792.6,1664.6h2.3M126.6,1646.66h-2.3M792.6,1646.66h2.3M126.6,1633.94h-2.3M792.6,1633.94h2.3M126.6,1624.07h-2.3M792.6,1624.07h2.3M126.6,1616.01h-2.3M792.6,1616.01h2.3M126.6,1609.19h-2.3M792.6,1609.19h2.3M126.6,1603.29h-2.3M792.6,1603.29h2.3M126.6,1598.08h-2.3M792.6,1598.08h2.3M126.6,1562.77h-2.3M792.6,1562.77h2.3M126.6,1544.83h-2.3M792.6,1544.83h2.3M126.6,1532.11h-2.3M792.6,1532.11h2.3M126.6,1522.24h-2.3M792.6,1522.24h2.3M126.6,1514.18h-2.3M792.6,1514.18h2.3M126.6,1507.36h-2.3M792.6,1507.36h2.3M126.6,1501.46h-2.3M792.6,1501.46h2.3M126.6,1496.25h-2.3M792.6,1496.25h2.3M126.6,1460.94h-2.3M792.6,1460.94h2.3M126.6,1443h-2.3M792.6,1443h2.3M126.6,1430.28h-2.3M792.6,1430.28h2.3M126.6,1420.41h-2.3M792.6,1420.41h2.3M126.6,1412.35h-2.3M792.6,1412.35h2.3M126.6,1405.53h-2.3M792.6,1405.53h2.3M126.6,1399.63h-2.3M792.6,1399.63h2.3M126.6,1394.42h-2.3M792.6,1394.42h2.3M126.6,1359.11h-2.3M792.6,1359.11h2.3M126.6,1341.17h-2.3M792.6,1341.17h2.3M126.6,1328.45h-2.3M792.6,1328.45h2.3M126.6,1318.58h-2.3M792.6,1318.58h2.3M126.6,1310.52h-2.3M792.6,1310.52h2.3M126.6,1303.7h-2.3M792.6,1303.7h2.3M126.6,1297.8h-2.3M792.6,1297.8h2.3M126.6,1292.59h-2.3M792.6,1292.59h2.3M126.6,1257.28h-2.3M792.6,1257.28h2.3M126.6,1239.34h-2.3M792.6,1239.34h2.3M126.6,1226.62h-2.3M792.6,1226.62h2.3M126.6,1216.75h-2.3M792.6,1216.75h2.3M126.6,1208.69h-2.3M792.6,1208.69h2.3M126.6,1201.87h-2.3M792.6,1201.87h2.3M126.6,1195.97h-2.3M792.6,1195.97h2.3M126.6,1190.76h-2.3M792.6,1190.76h2.3" stroke="#000" stroke-width="0.85" fill="none"/>
<path d="M142.9,1695.25v4M255.75,1695.25v4M368.6,1695.25v4M481.45,1695.25v4M594.3,1695.25v4M707.15,1695.25v4" stroke="#000" stroke-width="0.95" fill="none"/>
<text x="143.1" y="1724.75" text-anchor="middle" font-size="28.5">0</text>
<text x="255.95" y="1724.75" text-anchor="middle" font-size="28.5">100</text>
<text x="368.8" y="1724.75" text-anchor="middle" font-size="28.5">200</text>
<text x="481.65" y="1724.75" text-anchor="middle" font-size="28.5">300</text>
<text x="594.5" y="1724.75" text-anchor="middle" font-size="28.5">400</text>
<text x="707.35" y="1724.75" text-anchor="middle" font-size="28.5">500</text>
<text x="117.1" y="1704.95" text-anchor="end" font-size="27.7">10<tspan dx="0.5" dy="-10.4" font-size="19.8">0</tspan></text>
<text x="800" y="1704.95" text-anchor="start" font-size="27.7">10<tspan dx="0.5" dy="-10.4" font-size="19.8">0</tspan></text>
<text x="117.1" y="1603.12" text-anchor="end" font-size="27.7">10<tspan dx="0.5" dy="-10.4" font-size="19.8">1</tspan></text>
<text x="800" y="1603.12" text-anchor="start" font-size="27.7">10<tspan dx="0.5" dy="-10.4" font-size="19.8">1</tspan></text>
<text x="117.1" y="1501.29" text-anchor="end" font-size="27.7">10<tspan dx="0.5" dy="-10.4" font-size="19.8">2</tspan></text>
<text x="800" y="1501.29" text-anchor="start" font-size="27.7">10<tspan dx="0.5" dy="-10.4" font-size="19.8">2</tspan></text>
<text x="117.1" y="1399.46" text-anchor="end" font-size="27.7">10<tspan dx="0.5" dy="-10.4" font-size="19.8">3</tspan></text>
<text x="800" y="1399.46" text-anchor="start" font-size="27.7">10<tspan dx="0.5" dy="-10.4" font-size="19.8">3</tspan></text>
<text x="117.1" y="1297.63" text-anchor="end" font-size="27.7">10<tspan dx="0.5" dy="-10.4" font-size="19.8">4</tspan></text>
<text x="800" y="1297.63" text-anchor="start" font-size="27.7">10<tspan dx="0.5" dy="-10.4" font-size="19.8">4</tspan></text>
<text x="117.1" y="1195.8" text-anchor="end" font-size="27.7">10<tspan dx="0.5" dy="-10.4" font-size="19.8">5</tspan></text>
<text x="800" y="1195.8" text-anchor="start" font-size="27.7">10<tspan dx="0.5" dy="-10.4" font-size="19.8">5</tspan></text>
<text x="137" y="1218.7" class="t" font-size="32.4" xml:space="preserve">Ni (210 mm)</text>
<text x="148" y="1255.1" class="t" font-size="32.4" xml:space="preserve">(e)</text>
<rect x="430.4" y="1196" width="352.1" height="154.05" rx="4" ry="4" fill="#fff" fill-opacity="0.8" stroke="#d6d6d6" stroke-width="1"/>
<rect x="439.1" y="1205.5" width="40.2" height="14.4" fill="#a6afd7"/>
<text class="g" x="495.7" y="1220.1" font-size="20.2">PET Data</text>
<path d="M439.1,1242.65h40" stroke="#008b8b" stroke-width="4.4" stroke-linecap="square" fill="none"/>
<text class="g" x="495.7" y="1249.75" font-size="20.2">Cu58</text>
<path d="M439.1,1272.3h40" stroke="#4169e1" stroke-width="4.4" stroke-linecap="square" fill="none"/>
<text class="g" x="495.7" y="1279.4" font-size="20.2">Cu62</text>
<path d="M439.1,1301.95h40" stroke="#ffa500" stroke-width="4.4" stroke-linecap="square" fill="none"/>
<text class="g" x="495.7" y="1309.05" font-size="20.2">Zn61</text>
<path d="M439.1,1331.6h40" stroke="#ff0000" stroke-width="4.4" stroke-linecap="square" fill="none"/>
<text class="g" x="495.7" y="1338.7" font-size="20.2">Sum</text>
<path d="M628.2,1331.6h40" stroke="#ff0000" stroke-width="4.4" stroke-dasharray="14.8 6.4" fill="none"/>
<text class="g" x="684.8" y="1338.7" font-size="20.2">Sum Sim</text>
<path d="M943.8,1695.25V1428.07H956.52V1427.36H969.24V1429.09H981.96V1426H994.67V1427.43H1007.39V1433.68H1020.11V1433.91H1032.83V1433.49H1045.55V1431.85H1058.27V1433.4H1070.99V1435.2H1083.7V1438.29H1096.42V1438.22H1109.14V1441.49H1121.86V1440.53H1134.58V1438.54H1147.3V1438.7H1160.02V1442.12H1172.73V1440.82H1185.45V1439.45H1198.17V1441.92H1210.89V1443.11H1223.61V1442.45H1236.33V1443.1H1249.05V1444.22H1261.76V1445.56H1274.48V1445.92H1287.2V1445.73H1299.92V1447.08H1312.64V1445.09H1325.36V1446.13H1338.08V1446.35H1350.79V1445.62H1363.51V1446.63H1376.23V1447.28H1388.95V1449.08H1401.67V1450.26H1414.39V1447.48H1427.11V1451.75H1439.82V1452.1H1452.54V1452.85H1465.26V1451.81H1477.98V1451.94H1490.7V1451.55H1503.42V1453.59H1516.14V1456.04H1528.85V1453.65H1541.57V1453.18H1554.29V1454.79H1567.01V1455.39H1579.73V1695.25Z" fill="#a6afd7"/>
<path d="M956.52,1428.57V1695.25M981.96,1429.59V1695.25M1020.11,1434.41V1695.25M1032.83,1434.41V1695.25M1058.27,1433.9V1695.25M1070.99,1435.7V1695.25M1096.42,1438.79V1695.25M1121.86,1441.99V1695.25M1147.3,1439.2V1695.25M1223.61,1443.61V1695.25M1261.76,1446.06V1695.25M1274.48,1446.42V1695.25M1299.92,1447.58V1695.25M1363.51,1447.13V1695.25M1388.95,1449.58V1695.25M1427.11,1452.25V1695.25M1439.82,1452.6V1695.25M1452.54,1453.35V1695.25M1477.98,1452.44V1695.25M1503.42,1454.09V1695.25M1528.85,1456.54V1695.25M1541.57,1454.15V1695.25" stroke="#fff" stroke-opacity="0.16" stroke-width="1" fill="none"/>
<path d="M943.8,1436.57 L956.52,1436.98 L969.24,1437.4 L981.96,1437.81 L994.67,1438.22 L1007.39,1438.63 L1020.11,1439.04 L1032.83,1439.45 L1045.55,1439.85 L1058.27,1440.26 L1070.99,1440.66 L1083.7,1441.06 L1096.42,1441.46 L1109.14,1441.86 L1121.86,1442.26 L1134.58,1442.66 L1147.3,1443.06 L1160.02,1443.45 L1172.73,1443.85 L1185.45,1444.24 L1198.17,1444.63 L1210.89,1445.02 L1223.61,1445.41 L1236.33,1445.8 L1249.05,1446.19 L1261.76,1446.57 L1274.48,1446.95 L1287.2,1447.34 L1299.92,1447.72 L1312.64,1448.1 L1325.36,1448.48 L1338.08,1448.85 L1350.79,1449.23 L1363.51,1449.6 L1376.23,1449.98 L1388.95,1450.35 L1401.67,1450.72 L1414.39,1451.09 L1427.11,1451.46 L1439.82,1451.82 L1452.54,1452.19 L1465.26,1452.55 L1477.98,1452.91 L1490.7,1453.27 L1503.42,1453.63 L1516.14,1453.99 L1528.85,1454.34 L1541.57,1454.7 L1554.29,1455.05 L1567.01,1455.4 L1579.73,1455.75" fill="none" stroke="#4169e1" stroke-width="4.4" stroke-linecap="square" stroke-linejoin="round" />
<path d="M943.8,1468.65 L956.52,1470.47 L969.24,1472.23 L981.96,1473.91 L994.67,1475.54 L1007.39,1477.09 L1020.11,1478.57 L1032.83,1479.99 L1045.55,1481.35 L1058.27,1482.64 L1070.99,1483.87 L1083.7,1485.03 L1096.42,1486.14 L1109.14,1487.19 L1121.86,1488.18 L1134.58,1489.11 L1147.3,1490 L1160.02,1490.83 L1172.73,1491.62 L1185.45,1492.35 L1198.17,1493.05 L1210.89,1493.7 L1223.61,1494.31 L1236.33,1494.88 L1249.05,1495.42 L1261.76,1495.92 L1274.48,1496.39 L1287.2,1496.83 L1299.92,1497.24 L1312.64,1497.62 L1325.36,1497.97 L1338.08,1498.3 L1350.79,1498.61 L1363.51,1498.9 L1376.23,1499.17 L1388.95,1499.41 L1401.67,1499.64 L1414.39,1499.86 L1427.11,1500.06 L1439.82,1500.24 L1452.54,1500.42 L1465.26,1500.58 L1477.98,1500.72 L1490.7,1500.86 L1503.42,1500.99 L1516.14,1501.11 L1528.85,1501.21 L1541.57,1501.32 L1554.29,1501.41 L1567.01,1501.5 L1579.73,1501.58" fill="none" stroke="#ffa500" stroke-width="4.4" stroke-linecap="square" stroke-linejoin="round" />
<path d="M943.8,1426.37 L956.52,1427.4 L969.24,1428.39 L981.96,1429.35 L994.67,1430.28 L1007.39,1431.17 L1020.11,1432.04 L1032.83,1432.89 L1045.55,1433.7 L1058.27,1434.49 L1070.99,1435.26 L1083.7,1436 L1096.42,1436.73 L1109.14,1437.43 L1121.86,1438.11 L1134.58,1438.78 L1147.3,1439.42 L1160.02,1440.05 L1172.73,1440.67 L1185.45,1441.27 L1198.17,1441.85 L1210.89,1442.42 L1223.61,1442.98 L1236.33,1443.53 L1249.05,1444.07 L1261.76,1444.59 L1274.48,1445.11 L1287.2,1445.61 L1299.92,1446.11 L1312.64,1446.59 L1325.36,1447.07 L1338.08,1447.54 L1350.79,1448 L1363.51,1448.46 L1376.23,1448.91 L1388.95,1449.35 L1401.67,1449.79 L1414.39,1450.22 L1427.11,1450.65 L1439.82,1451.07 L1452.54,1451.48 L1465.26,1451.89 L1477.98,1452.3 L1490.7,1452.7 L1503.42,1453.1 L1516.14,1453.49 L1528.85,1453.88 L1541.57,1454.27 L1554.29,1454.65 L1567.01,1455.03 L1579.73,1455.41" fill="none" stroke="#ff0000" stroke-width="4.4" stroke-linecap="square" stroke-linejoin="round" />
<path d="M943.83,1335.27 L950.77,1416.9 L956.71,1418.88 L968.6,1425.82 L977.52,1419.87 L989.4,1417.89 L1000.3,1426.81 L1011.2,1428.79 L1021.11,1426.81 L1038.94,1422.85 L1050.83,1419.87 L1061.72,1428.79 L1072.62,1429.78 L1079.56,1424.83 L1090.45,1425.82 L1102.34,1430.77 L1114.23,1432.75 L1124.14,1434.73 L1136.03,1434.73 L1147.91,1428.79 L1157.82,1430.77 L1168.72,1438.7 L1179.62,1432.75 L1189.52,1435.72 L1203.39,1431.76 L1213.3,1431.76 L1223.21,1430.77 L1231.13,1434.73 L1242.03,1443.65 L1250.95,1440.68 L1256,1440.43 L1265.91,1438.45 L1274.82,1431.52 L1281.76,1444.39 L1288.69,1436.47 L1294.64,1431.91 L1300.58,1444.39 L1307.52,1447.37 L1315.44,1440.43 L1323.37,1433.5 L1330.3,1438.45 L1336.25,1442.41 L1342.19,1439.44 L1347.14,1448.36 L1355.07,1439.44 L1359.03,1433.89 L1366.96,1442.41 L1374.88,1444.39 L1382.81,1439.44 L1392.71,1445.39 L1404.6,1452.32 L1414.51,1445.39 L1427.39,1446.38 L1436.31,1454.3 L1444.23,1448.36 L1454.14,1453.31 L1464.04,1449.35 L1471.97,1453.31 L1479.9,1446.38 L1487.82,1443.01 L1495.75,1448.36 L1503.67,1446.38 L1509.62,1453.31 L1521.5,1458.26 L1529.43,1452.32 L1537.36,1455.29 L1545.28,1457.27 L1553.21,1444.39 L1557.17,1449.35 L1564.1,1458.26 L1573.02,1454.3 L1581.94,1454.9" fill="none" stroke="#ff0000" stroke-width="4.4" stroke-dasharray="14.8 6.4" stroke-linejoin="round"/>
<rect x="925.7" y="1186.1" width="666" height="509.15" fill="none" stroke="#000" stroke-width="1.1"/>
<path d="M925.7,1695.25h-4M1591.7,1695.25h4M925.7,1593.42h-4M1591.7,1593.42h4M925.7,1491.59h-4M1591.7,1491.59h4M925.7,1389.76h-4M1591.7,1389.76h4M925.7,1287.93h-4M1591.7,1287.93h4M925.7,1186.1h-4M1591.7,1186.1h4" stroke="#000" stroke-width="0.95" fill="none"/>
<path d="M925.7,1664.6h-2.3M1591.7,1664.6h2.3M925.7,1646.66h-2.3M1591.7,1646.66h2.3M925.7,1633.94h-2.3M1591.7,1633.94h2.3M925.7,1624.07h-2.3M1591.7,1624.07h2.3M925.7,1616.01h-2.3M1591.7,1616.01h2.3M925.7,1609.19h-2.3M1591.7,1609.19h2.3M925.7,1603.29h-2.3M1591.7,1603.29h2.3M925.7,1598.08h-2.3M1591.7,1598.08h2.3M925.7,1562.77h-2.3M1591.7,1562.77h2.3M925.7,1544.83h-2.3M1591.7,1544.83h2.3M925.7,1532.11h-2.3M1591.7,1532.11h2.3M925.7,1522.24h-2.3M1591.7,1522.24h2.3M925.7,1514.18h-2.3M1591.7,1514.18h2.3M925.7,1507.36h-2.3M1591.7,1507.36h2.3M925.7,1501.46h-2.3M1591.7,1501.46h2.3M925.7,1496.25h-2.3M1591.7,1496.25h2.3M925.7,1460.94h-2.3M1591.7,1460.94h2.3M925.7,1443h-2.3M1591.7,1443h2.3M925.7,1430.28h-2.3M1591.7,1430.28h2.3M925.7,1420.41h-2.3M1591.7,1420.41h2.3M925.7,1412.35h-2.3M1591.7,1412.35h2.3M925.7,1405.53h-2.3M1591.7,1405.53h2.3M925.7,1399.63h-2.3M1591.7,1399.63h2.3M925.7,1394.42h-2.3M1591.7,1394.42h2.3M925.7,1359.11h-2.3M1591.7,1359.11h2.3M925.7,1341.17h-2.3M1591.7,1341.17h2.3M925.7,1328.45h-2.3M1591.7,1328.45h2.3M925.7,1318.58h-2.3M1591.7,1318.58h2.3M925.7,1310.52h-2.3M1591.7,1310.52h2.3M925.7,1303.7h-2.3M1591.7,1303.7h2.3M925.7,1297.8h-2.3M1591.7,1297.8h2.3M925.7,1292.59h-2.3M1591.7,1292.59h2.3M925.7,1257.28h-2.3M1591.7,1257.28h2.3M925.7,1239.34h-2.3M1591.7,1239.34h2.3M925.7,1226.62h-2.3M1591.7,1226.62h2.3M925.7,1216.75h-2.3M1591.7,1216.75h2.3M925.7,1208.69h-2.3M1591.7,1208.69h2.3M925.7,1201.87h-2.3M1591.7,1201.87h2.3M925.7,1195.97h-2.3M1591.7,1195.97h2.3M925.7,1190.76h-2.3M1591.7,1190.76h2.3" stroke="#000" stroke-width="0.85" fill="none"/>
<path d="M943.8,1695.25v4M1066,1695.25v4M1188.2,1695.25v4M1310.4,1695.25v4M1432.6,1695.25v4M1554.8,1695.25v4" stroke="#000" stroke-width="0.95" fill="none"/>
<text x="944" y="1724.75" text-anchor="middle" font-size="28.5">0</text>
<text x="1066.2" y="1724.75" text-anchor="middle" font-size="28.5">100</text>
<text x="1188.4" y="1724.75" text-anchor="middle" font-size="28.5">200</text>
<text x="1310.6" y="1724.75" text-anchor="middle" font-size="28.5">300</text>
<text x="1432.8" y="1724.75" text-anchor="middle" font-size="28.5">400</text>
<text x="1555" y="1724.75" text-anchor="middle" font-size="28.5">500</text>
<text x="916.2" y="1704.95" text-anchor="end" font-size="27.7">10<tspan dx="0.5" dy="-10.4" font-size="19.8">0</tspan></text>
<text x="1599.1" y="1704.95" text-anchor="start" font-size="27.7">10<tspan dx="0.5" dy="-10.4" font-size="19.8">0</tspan></text>
<text x="916.2" y="1603.12" text-anchor="end" font-size="27.7">10<tspan dx="0.5" dy="-10.4" font-size="19.8">1</tspan></text>
<text x="1599.1" y="1603.12" text-anchor="start" font-size="27.7">10<tspan dx="0.5" dy="-10.4" font-size="19.8">1</tspan></text>
<text x="916.2" y="1501.29" text-anchor="end" font-size="27.7">10<tspan dx="0.5" dy="-10.4" font-size="19.8">2</tspan></text>
<text x="1599.1" y="1501.29" text-anchor="start" font-size="27.7">10<tspan dx="0.5" dy="-10.4" font-size="19.8">2</tspan></text>
<text x="916.2" y="1399.46" text-anchor="end" font-size="27.7">10<tspan dx="0.5" dy="-10.4" font-size="19.8">3</tspan></text>
<text x="1599.1" y="1399.46" text-anchor="start" font-size="27.7">10<tspan dx="0.5" dy="-10.4" font-size="19.8">3</tspan></text>
<text x="916.2" y="1297.63" text-anchor="end" font-size="27.7">10<tspan dx="0.5" dy="-10.4" font-size="19.8">4</tspan></text>
<text x="1599.1" y="1297.63" text-anchor="start" font-size="27.7">10<tspan dx="0.5" dy="-10.4" font-size="19.8">4</tspan></text>
<text x="916.2" y="1195.8" text-anchor="end" font-size="27.7">10<tspan dx="0.5" dy="-10.4" font-size="19.8">5</tspan></text>
<text x="1599.1" y="1195.8" text-anchor="start" font-size="27.7">10<tspan dx="0.5" dy="-10.4" font-size="19.8">5</tspan></text>
<text x="938.1" y="1218.7" class="t" font-size="32.4" xml:space="preserve">Cu (210 mm)</text>
<text x="948.2" y="1255.1" class="t" font-size="32.4" xml:space="preserve">(f)</text>
<rect x="1229.5" y="1196" width="352.1" height="124.4" rx="4" ry="4" fill="#fff" fill-opacity="0.8" stroke="#d6d6d6" stroke-width="1"/>
<rect x="1238.2" y="1205.5" width="40.2" height="14.4" fill="#a6afd7"/>
<text class="g" x="1294.8" y="1220.1" font-size="20.2">PET Data</text>
<path d="M1238.2,1242.65h40" stroke="#4169e1" stroke-width="4.4" stroke-linecap="square" fill="none"/>
<text class="g" x="1294.8" y="1249.75" font-size="20.2">Cu62</text>
<path d="M1238.2,1272.3h40" stroke="#ffa500" stroke-width="4.4" stroke-linecap="square" fill="none"/>
<text class="g" x="1294.8" y="1279.4" font-size="20.2">Zn61</text>
<path d="M1238.2,1301.95h40" stroke="#ff0000" stroke-width="4.4" stroke-linecap="square" fill="none"/>
<text class="g" x="1294.8" y="1309.05" font-size="20.2">Sum</text>
<path d="M1427.3,1301.95h40" stroke="#ff0000" stroke-width="4.4" stroke-dasharray="14.8 6.4" fill="none"/>
<text class="g" x="1483.9" y="1309.05" font-size="20.2">Sum Sim</text>
<text class="l" transform="translate(37.3,845.3) rotate(-90)" text-anchor="middle" font-size="40.5">PET Events [s<tspan dy="-15" font-size="28.4">−1</tspan><tspan dy="15" font-size="40.5">]</tspan></text>
<text class="l" transform="translate(1708.1,858.3) rotate(-90)" text-anchor="middle" font-size="40.2">Normalized Activity [Bq]</text>
<text class="l" x="854.2" y="1778.3" text-anchor="middle" font-size="40.5">Time [s]</text>
</svg></body></html>
